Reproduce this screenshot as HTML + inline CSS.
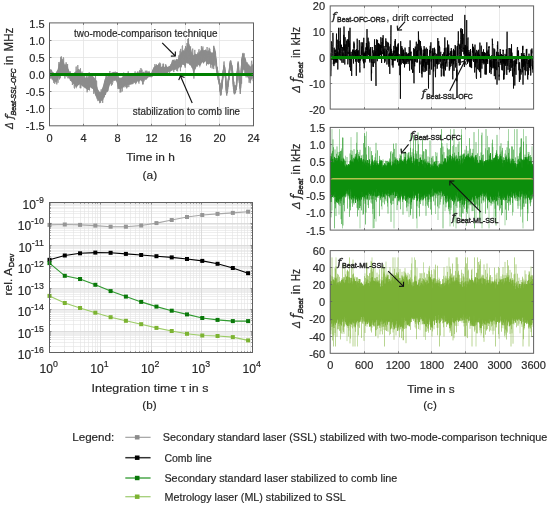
<!DOCTYPE html><html><head><meta charset="utf-8"><style>html,body{margin:0;padding:0;background:#fff;}svg{display:block;} text{stroke:#262626;stroke-width:0.18px;paint-order:stroke;}</style></head><body>
<svg width="550" height="506" viewBox="0 0 550 506">
<rect width="550" height="506" fill="#fff"/>
<line x1="83.5" y1="22.9" x2="83.5" y2="125.8" stroke="#e3e3e3" stroke-width="0.8" />
<line x1="117.5" y1="22.9" x2="117.5" y2="125.8" stroke="#e3e3e3" stroke-width="0.8" />
<line x1="151.5" y1="22.9" x2="151.5" y2="125.8" stroke="#e3e3e3" stroke-width="0.8" />
<line x1="185.5" y1="22.9" x2="185.5" y2="125.8" stroke="#e3e3e3" stroke-width="0.8" />
<line x1="219.5" y1="22.9" x2="219.5" y2="125.8" stroke="#e3e3e3" stroke-width="0.8" />
<line x1="49.5" y1="40.5" x2="253.5" y2="40.5" stroke="#e3e3e3" stroke-width="0.8" />
<line x1="49.5" y1="57.5" x2="253.5" y2="57.5" stroke="#e3e3e3" stroke-width="0.8" />
<line x1="49.5" y1="74.5" x2="253.5" y2="74.5" stroke="#e3e3e3" stroke-width="0.8" />
<line x1="49.5" y1="91.5" x2="253.5" y2="91.5" stroke="#e3e3e3" stroke-width="0.8" />
<line x1="49.5" y1="108.5" x2="253.5" y2="108.5" stroke="#e3e3e3" stroke-width="0.8" />
<polygon points="49.9,69.8 50.4,69.5 50.9,69.5 51.4,69.8 51.9,69.6 52.4,71.8 52.9,71.7 53.4,72.3 53.9,72.8 54.4,74.3 54.9,74 55.4,73.4 55.9,72.5 56.4,71.4 56.9,70.7 57.4,70.1 57.9,68.6 58.4,66.9 58.9,64.7 59.4,62.5 59.9,61.6 60.4,60.1 60.9,59.9 61.4,59.4 61.9,60.5 62.4,60.8 62.9,60.9 63.4,61.7 63.9,62.4 64.4,63.8 64.9,64.7 65.4,64.4 65.9,63.8 66.4,63.6 66.9,65.8 67.4,66.4 67.9,66.6 68.4,68.8 68.9,70 69.4,71.3 69.9,71.7 70.4,73.1 70.9,72.8 71.4,74.1 71.9,73.5 72.4,73.9 72.9,72.9 73.4,73.1 73.9,73 74.4,72.3 74.9,72.1 75.4,71.5 75.9,71.5 76.4,71.1 76.9,70.2 77.4,69.9 77.9,69 78.4,69.2 78.9,68.8 79.4,69.2 79.9,69.9 80.4,70.8 80.9,72 81.4,72.9 81.9,74.4 82.4,76 82.9,75.5 83.4,76.3 83.9,76.1 84.4,76.4 84.9,77.5 85.4,77.6 85.9,77.4 86.4,77.5 86.9,77.8 87.4,77.6 87.9,77.6 88.4,77.2 88.9,76 89.4,74.9 89.9,75.5 90.4,75.7 90.9,76.1 91.4,75.6 91.9,75.7 92.4,75.1 92.9,76.1 93.4,76.9 93.9,76.6 94.4,77.9 94.9,78.2 95.4,78.8 95.9,79.8 96.4,83.3 96.9,85.9 97.4,87.1 97.9,89.1 98.4,90 98.9,90.6 99.4,91.7 99.9,91.9 100.4,92.7 100.9,91.8 101.4,90.9 101.9,88.7 102.4,87.4 102.9,86.2 103.4,84.1 103.9,82.5 104.4,79.8 104.9,78.9 105.4,77.4 105.9,77.5 106.4,77 106.9,76.6 107.4,76.1 107.9,76.5 108.4,75.1 108.9,74.5 109.4,74.5 109.9,73.6 110.4,74 110.9,73.4 111.4,73 111.9,72 112.4,72.2 112.9,72.3 113.4,71.8 113.9,72 114.4,71.9 114.9,71.4 115.4,71.3 115.9,72.2 116.4,72 116.9,72.8 117.4,73.9 117.9,75 118.4,74.1 118.9,76.9 119.4,77.7 119.9,77.5 120.4,78 120.9,77.3 121.4,77.8 121.9,77.3 122.4,76.6 122.9,75.9 123.4,75.9 123.9,75.2 124.4,74.9 124.9,75.1 125.4,74.8 125.9,74.5 126.4,75.2 126.9,74 127.4,73.8 127.9,73.5 128.4,73.2 128.9,75.7 129.4,75.1 129.9,75.9 130.4,74.8 130.9,75.7 131.4,75.1 131.9,75.2 132.4,75.5 132.9,75 133.4,74.6 133.9,74.3 134.4,73.2 134.9,73.3 135.4,73.8 135.9,74 136.4,73.1 136.9,72.1 137.4,71.1 137.9,72.5 138.4,73.8 138.9,73.6 139.4,73.4 139.9,71.7 140.4,70.6 140.9,70.3 141.4,70.6 141.9,71.7 142.4,72.4 142.9,71.8 143.4,71.4 143.9,72.3 144.4,72.9 144.9,72.6 145.4,72.4 145.9,71.1 146.4,71.7 146.9,71.6 147.4,71.5 147.9,71.8 148.4,71.5 148.9,70.9 149.4,70.7 149.9,72.3 150.4,73 150.9,73 151.4,72.5 151.9,71.2 152.4,70 152.9,68.7 153.4,67.4 153.9,67.1 154.4,66.8 154.9,65.8 155.4,65.5 155.9,65.9 156.4,65.3 156.9,65.6 157.4,65.4 157.9,66 158.4,65.1 158.9,64.5 159.4,64.5 159.9,64.8 160.4,65.2 160.9,67.1 161.4,66.4 161.9,66.9 162.4,65.9 162.9,66.2 163.4,66 163.9,65.9 164.4,67.5 164.9,67.2 165.4,66.3 165.9,66.6 166.4,66.6 166.9,66.6 167.4,66.8 167.9,66.9 168.4,66.5 168.9,65.7 169.4,65.8 169.9,65.9 170.4,64.6 170.9,63.9 171.4,62.2 171.9,60.6 172.4,59.9 172.9,59.6 173.4,59.7 173.9,59.8 174.4,59.1 174.9,60.7 175.4,60.6 175.9,59.1 176.4,58.9 176.9,58.7 177.4,59.8 177.9,59.2 178.4,57.7 178.9,56.6 179.4,54.7 179.9,53.6 180.4,53.6 180.9,52.8 181.4,51.9 181.9,51.1 182.4,50.5 182.9,50 183.4,50.6 183.9,51.6 184.4,51.1 184.9,49.7 185.4,50.9 185.9,48.4 186.4,47.2 186.9,45.6 187.4,44.4 187.9,43.6 188.4,42.1 188.9,43.4 189.4,43.9 189.9,45.8 190.4,47.5 190.9,49.1 191.4,49.9 191.9,52.2 192.4,52.8 192.9,54.1 193.4,55.1 193.9,55.2 194.4,54.5 194.9,53.8 195.4,54 195.9,53.2 196.4,54.7 196.9,54.8 197.4,53.8 197.9,53.5 198.4,53.6 198.9,53.1 199.4,52.4 199.9,50.7 200.4,51.8 200.9,50.3 201.4,51 201.9,49.1 202.4,49.5 202.9,49.3 203.4,49.9 203.9,50.5 204.4,49.9 204.9,50 205.4,49.8 205.9,49 206.4,50.5 206.9,50.5 207.4,51.6 207.9,51.1 208.4,51.7 208.9,50.7 209.4,51.5 209.9,50.7 210.4,51.8 210.9,51.5 211.4,52.7 211.9,52.2 212.4,52.5 212.9,52.5 213.4,52.1 213.9,51.6 214.4,51.6 214.9,52.2 214.9,64.7 214.4,65.7 213.9,67 213.4,67 212.9,67.3 212.4,65.9 211.9,65 211.4,64.7 210.9,64.5 210.4,64.2 209.9,63.5 209.4,64 208.9,64.4 208.4,64.4 207.9,64.5 207.4,64 206.9,63.9 206.4,62.7 205.9,61.3 205.4,61.7 204.9,61.6 204.4,62.5 203.9,63.2 203.4,63.8 202.9,62.9 202.4,62.1 201.9,62.7 201.4,63.7 200.9,64.8 200.4,66 199.9,68 199.4,66.3 198.9,65.2 198.4,65.2 197.9,64.6 197.4,64.6 196.9,66.5 196.4,66.7 195.9,68.5 195.4,69.4 194.9,69.7 194.4,72.1 193.9,73.6 193.4,73.8 192.9,71.3 192.4,69 191.9,68 191.4,67.5 190.9,66.1 190.4,65.4 189.9,64.9 189.4,65.2 188.9,64 188.4,63.4 187.9,64.1 187.4,63.5 186.9,62.8 186.4,63.3 185.9,65.5 185.4,66.7 184.9,66.7 184.4,66.1 183.9,64.8 183.4,64.9 182.9,64.9 182.4,64.6 181.9,65.8 181.4,66.2 180.9,67.2 180.4,66.9 179.9,67.4 179.4,67.2 178.9,67.7 178.4,68.8 177.9,68.6 177.4,68.7 176.9,69.2 176.4,68.7 175.9,69.3 175.4,70.1 174.9,69.4 174.4,70 173.9,69.6 173.4,69.8 172.9,69.8 172.4,69.6 171.9,70.8 171.4,71.1 170.9,71.2 170.4,71.7 169.9,71.8 169.4,71.5 168.9,72 168.4,71.8 167.9,73.6 167.4,73.8 166.9,73.5 166.4,74.5 165.9,73.8 165.4,74.2 164.9,74.6 164.4,74.1 163.9,74.3 163.4,74.5 162.9,75.3 162.4,75 161.9,74.2 161.4,74 160.9,75.2 160.4,74.6 159.9,74.2 159.4,73.7 158.9,74.4 158.4,74.1 157.9,74.5 157.4,74.4 156.9,75.1 156.4,74.5 155.9,74.8 155.4,74.9 154.9,75.7 154.4,74.8 153.9,75.6 153.4,75.1 152.9,76 152.4,76 151.9,77 151.4,77.5 150.9,77.5 150.4,77 149.9,76.9 149.4,77.3 148.9,77.1 148.4,77.3 147.9,78.1 147.4,78.7 146.9,78 146.4,78.8 145.9,79.9 145.4,79.7 144.9,79.6 144.4,79.8 143.9,80.8 143.4,82 142.9,81.9 142.4,81.2 141.9,81.5 141.4,81.3 140.9,80.3 140.4,80.6 139.9,80.7 139.4,81.6 138.9,81.6 138.4,81.9 137.9,81.4 137.4,81.6 136.9,82 136.4,82.2 135.9,81.7 135.4,82.6 134.9,82.5 134.4,83.2 133.9,82.6 133.4,84.3 132.9,83.8 132.4,84.5 131.9,84.2 131.4,84.6 130.9,84.8 130.4,84.3 129.9,84.5 129.4,84.8 128.9,84.7 128.4,84.9 127.9,85.2 127.4,85.3 126.9,85.2 126.4,86 125.9,85.5 125.4,85.2 124.9,86.3 124.4,86.1 123.9,87.2 123.4,87.4 122.9,87.5 122.4,88 121.9,88.5 121.4,88.6 120.9,89.5 120.4,89 119.9,89.1 119.4,88.9 118.9,89.6 118.4,88.5 117.9,87.9 117.4,86.3 116.9,83.3 116.4,81.4 115.9,80.2 115.4,80.5 114.9,80.3 114.4,81 113.9,80.1 113.4,81.2 112.9,81.4 112.4,82.3 111.9,82.1 111.4,83.5 110.9,83.4 110.4,84.1 109.9,85 109.4,86.4 108.9,88.1 108.4,90.3 107.9,91.4 107.4,92.3 106.9,92 106.4,93.1 105.9,94.9 105.4,95.1 104.9,95.6 104.4,97.7 103.9,97.9 103.4,99.5 102.9,100.2 102.4,100.3 101.9,99.9 101.4,100.6 100.9,100.9 100.4,100.7 99.9,101.4 99.4,101.5 98.9,101.1 98.4,100.2 97.9,99.9 97.4,99.2 96.9,99.6 96.4,98.2 95.9,96.4 95.4,96 94.9,94.4 94.4,93.1 93.9,90.5 93.4,90.3 92.9,89 92.4,88.9 91.9,88.2 91.4,88.6 90.9,87.5 90.4,87.5 89.9,87.8 89.4,88 88.9,88 88.4,89.7 87.9,89.6 87.4,90.8 86.9,89.6 86.4,89 85.9,89 85.4,88 84.9,88.6 84.4,87.2 83.9,87.5 83.4,86.7 82.9,86.7 82.4,86.2 81.9,86 81.4,85.3 80.9,84.9 80.4,84.1 79.9,84.3 79.4,84.2 78.9,84.9 78.4,85.3 77.9,85.7 77.4,86.4 76.9,87.1 76.4,88.5 75.9,88.3 75.4,86.8 74.9,86.1 74.4,85.6 73.9,84.1 73.4,84 72.9,83.6 72.4,82.7 71.9,82.6 71.4,81.7 70.9,81.1 70.4,80.9 69.9,80.4 69.4,78.4 68.9,78.6 68.4,76.9 67.9,76.1 67.4,76.2 66.9,76.5 66.4,76.7 65.9,76.3 65.4,75.9 64.9,76.4 64.4,75.9 63.9,76.3 63.4,75.8 62.9,74 62.4,74.5 61.9,75.1 61.4,75.3 60.9,74.7 60.4,74.2 59.9,74.8 59.4,76.5 58.9,76.8 58.4,78.4 57.9,80.3 57.4,80.6 56.9,81.5 56.4,82.3 55.9,82.3 55.4,82.3 54.9,81 54.4,81.6 53.9,81.3 53.4,81.4 52.9,79.9 52.4,79.7 51.9,78.6 51.4,77.8 50.9,77.5 50.4,78.1 49.9,77.1" fill="#8c8c8c" stroke="none"/>
<polygon points="241.4,61.3 241.9,59.2 242.4,56.5 242.9,56.3 243.4,56.4 243.9,57.1 244.4,57.2 244.9,57.7 245.4,57.2 245.9,59.1 246.4,61.5 246.9,62.7 247.4,64.6 247.9,64.7 248.4,64.5 248.9,64 249.4,64.9 249.9,66 250.4,66.6 250.9,66.2 251.4,65.3 251.9,64.3 252.4,64.4 252.9,64.3 252.9,77.2 252.4,78.9 251.9,78.9 251.4,79.5 250.9,80.9 250.4,81.2 249.9,80.7 249.4,79.6 248.9,78.8 248.4,78.3 247.9,78.3 247.4,76.9 246.9,76.7 246.4,75.1 245.9,73.5 245.4,72.7 244.9,70.7 244.4,70 243.9,69.5 243.4,70.5 242.9,73.1 242.4,73.9 241.9,77.1 241.4,79.8" fill="#8c8c8c" stroke="none"/>
<polyline points="49.9,74.9 50.2,69.5 50.5,76.2 50.8,78.8 51.1,75.7 51.4,74.9 51.7,73.3 52,79.3 52.3,78.2 52.6,73.5 52.9,74.8 53.2,80.5 53.5,78.2 53.8,82.9 54.1,79.9 54.4,78.1 54.7,83.8 55,82.7 55.3,80.3 55.6,81 55.9,79.5 56.2,79.8 56.5,78.9 56.8,84.4 57.1,75 57.4,77.6 57.7,70.9 58,82.8 58.3,75.1 58.6,63.6 58.9,62.1 59.2,67.2 59.5,79.4 59.8,72.6 60.1,68.7 60.4,78.2 60.7,57.2 61,67.6 61.3,56.3 61.6,62.1 61.9,58.7 62.2,60.7 62.5,73.7 62.8,59.3 63.1,72.7 63.4,57.4 63.7,58.2 64,73.8 64.3,66.4 64.6,66.6 64.9,78.5 65.2,71.9 65.5,68.7 65.8,72.5 66.1,62.3 66.4,65.7 66.7,69.9 67,66.4 67.3,72.3 67.6,64 67.9,78.3 68.2,69.6 68.5,69.8 68.8,75.4 69.1,78.3 69.4,73.6 69.7,76.1 70,75.1 70.3,71.4 70.6,76 70.9,76.8 71.2,77.3 71.5,74.4 71.8,78.4 72.1,76.6 72.4,85 72.7,78.3 73,81.2 73.3,82.1 73.6,79.1 73.9,83.7 74.2,88 74.5,88.5 74.8,75 75.1,73.9 75.4,75.8 75.7,76.1 76,66.8 76.3,66.5 76.6,76.2 76.9,73.8 77.2,76.1 77.5,81.7 77.8,65.1 78.1,75.9 78.4,84.9 78.7,73.5 79,75.6 79.3,84.3 79.6,76.1 79.9,72.4 80.2,88.1 80.5,68.3 80.8,88.3 81.1,83.2 81.4,73.4 81.7,75.4 82,71.6 82.3,77.9 82.6,82.2 82.9,77.8 83.2,73.3 83.5,80.1 83.8,83.9 84.1,82.7 84.4,79.2 84.7,75.3 85,87.6 85.3,83.6 85.6,79.9 85.9,86.7 86.2,86.6 86.5,76.2 86.8,86 87.1,92.3 87.4,89.7 87.7,80.6 88,74.8 88.3,78.7 88.6,90 88.9,86.2 89.2,72.3 89.5,90.4 89.8,75.7 90.1,82.4 90.4,78.3 90.7,80.1 91,85.1 91.3,85.4 91.6,78.2 91.9,85.1 92.2,81.4 92.5,84.1 92.8,84.8 93.1,79.8 93.4,85.5 93.7,93.8 94,89.2 94.3,81.4 94.6,85.2 94.9,84.5 95.2,83.6 95.5,75.4 95.8,82.4 96.1,87.5 96.4,80.5 96.7,80.9 97,95 97.3,92.5 97.6,96.8 97.9,101.1 98.2,100 98.5,92.6 98.8,95.6 99.1,91.8 99.4,93.9 99.7,103.2 100,95.5 100.3,92.3 100.6,102.8 100.9,92.1 101.2,89.3 101.5,95.3 101.8,100.9 102.1,93.7 102.4,91.8 102.7,102.9 103,91.2 103.3,91.3 103.6,96.7 103.9,90.1 104.2,97 104.5,83.1 104.8,81.3 105.1,91 105.4,93.8 105.7,83.2 106,73.8 106.3,79.1 106.6,75.7 106.9,81.8 107.2,83.4 107.5,78.2 107.8,90.8 108.1,79 108.4,86.3 108.7,74.5 109,76 109.3,84.6 109.6,72.6 109.9,71 110.2,74.7 110.5,82.5 110.8,77 111.1,81.5 111.4,85.7 111.7,81.8 112,77.3 112.3,84.6 112.6,83.1 112.9,82.6 113.2,78.2 113.5,78.4 113.8,75.4 114.1,80.6 114.4,80.4 114.7,79 115,74.7 115.3,80.4 115.6,74.5 115.9,79.3 116.2,74.4 116.5,72.1 116.8,81.4 117.1,75.4 117.4,72.1 117.7,80.4 118,89 118.3,84.7 118.6,85.8 118.9,78.5 119.2,86.7 119.5,79 119.8,78.4 120.1,92.6 120.4,88.3 120.7,91.2 121,92.2 121.3,80.5 121.6,82.4 121.9,78.3 122.2,91.5 122.5,86.3 122.8,85.9 123.1,82.9 123.4,80.8 123.7,72.6 124,77.1 124.3,80.7 124.6,80.1 124.9,87.3 125.2,87 125.5,79.3 125.8,82 126.1,87.1 126.4,82.4 126.7,88.4 127,84 127.3,87.3 127.6,85.5 127.9,78.8 128.2,71.3 128.5,82.1 128.8,87.1 129.1,82.8 129.4,80.8 129.7,82.7 130,84.7 130.3,73.4 130.6,81.2 130.9,81.5 131.2,82.7 131.5,81.2 131.8,74.6 132.1,78.3 132.4,82.2 132.7,80.5 133,78.5 133.3,81.6 133.6,80.7 133.9,81.8 134.2,80.6 134.5,78.8 134.8,74.7 135.1,71.4 135.4,80.5 135.7,84.2 136,80.9 136.3,82.9 136.6,74 136.9,74.6 137.2,79.4 137.5,78.7 137.8,80.2 138.1,71.6 138.4,75 138.7,82.9 139,83.6 139.3,76.3 139.6,70.3 139.9,73.5 140.2,71.1 140.5,68.3 140.8,68 141.1,68.3 141.4,68.6 141.7,75.3 142,69.7 142.3,80.6 142.6,84.4 142.9,78.9 143.2,84.3 143.5,74.1 143.8,76.8 144.1,81.3 144.4,72.5 144.7,73.3 145,77.3 145.3,70.7 145.6,74.9 145.9,73 146.2,74.5 146.5,79.4 146.8,70.6 147.1,77.2 147.4,72.8 147.7,77.6 148,75.1 148.3,73.3 148.6,72.7 148.9,72.4 149.2,74.6 149.5,72.3 149.8,74.9 150.1,75.3 150.4,73.3 150.7,73.7 151,75.9 151.3,74.6 151.6,72.9 151.9,73.9 152.2,76.6 152.5,71 152.8,69.8 153.1,73.1 153.4,72 153.7,72.9 154,72.3 154.3,67.7 154.6,69.7 154.9,64.1 155.2,69.6 155.5,67.4 155.8,74.9 156.1,71.4 156.4,64.3 156.7,70.4 157,72.1 157.3,73.9 157.6,65 157.9,66.4 158.2,72.5 158.5,63.7 158.8,67.4 159.1,65.9 159.4,67.5 159.7,62.6 160,66.3 160.3,63.5 160.6,63.6 160.9,73.4 161.2,70.6 161.5,73 161.8,74.5 162.1,74.6 162.4,68.7 162.7,67.4 163,63.7 163.3,70.5 163.6,63.8 163.9,73.9 164.2,66.9 164.5,71.5 164.8,72.5 165.1,67.3 165.4,68.1 165.7,64.2 166,68.8 166.3,65.6 166.6,69 166.9,69.6 167.2,67.2 167.5,70.6 167.8,68.4 168.1,69 168.4,68.7 168.7,68.3 169,68.9 169.3,73.2 169.6,72.7 169.9,68.7 170.2,68.8 170.5,70.2 170.8,65.8 171.1,64 171.4,64.4 171.7,65.5 172,62.9 172.3,68 172.6,68.4 172.9,70.5 173.2,63.5 173.5,64.8 173.8,72.1 174.1,62.2 174.4,66.2 174.7,69.9 175,61.3 175.3,65.6 175.6,68.6 175.9,60.8 176.2,66.3 176.5,67.5 176.8,71.1 177.1,63.6 177.4,70.3 177.7,71.3 178,59.2 178.3,60.7 178.6,58.6 178.9,55.3 179.2,61.7 179.5,57.7 179.8,64.3 180.1,50.8 180.4,71.2 180.7,48.9 181,54.4 181.3,67.3 181.6,60.3 181.9,56.3 182.2,46.2 182.5,45.5 182.8,54.6 183.1,54.2 183.4,54.8 183.7,50.4 184,60.8 184.3,55.6 184.6,53.6 184.9,48.6 185.2,67.8 185.5,46.1 185.8,57.7 186.1,58.8 186.4,53.1 186.7,60.7 187,43 187.3,50 187.6,51.9 187.9,39 188.2,44.3 188.5,38.2 188.8,48.9 189.1,54.5 189.4,56.9 189.7,54.2 190,59.4 190.3,49.5 190.6,46.4 190.9,58.6 191.2,54.6 191.5,55.8 191.8,56.7 192.1,63.8 192.4,60.9 192.7,48.6 193,54.5 193.3,56.9 193.6,63.4 193.9,78.6 194.2,66.7 194.5,60.7 194.8,49.9 195.1,62.4 195.4,63.3 195.7,56.6 196,65.2 196.3,65.2 196.6,54.2 196.9,60.3 197.2,66.1 197.5,66.5 197.8,52.5 198.1,58.2 198.4,58.9 198.7,52 199,49.2 199.3,58.5 199.6,51.8 199.9,52 200.2,57.9 200.5,61.9 200.8,50.4 201.1,57.3 201.4,46.1 201.7,55.5 202,48.1 202.3,61.5 202.6,57.2 202.9,46.5 203.2,57.5 203.5,58.2 203.8,51 204.1,53.9 204.4,61.8 204.7,54.9 205,56.1 205.3,53.1 205.6,57.3 205.9,56.9 206.2,54 206.5,65.5 206.8,55.6 207.1,47 207.4,57 207.7,57.7 208,52.9 208.3,50.4 208.6,54.9 208.9,51.6 209.2,47.8 209.5,63.1 209.8,48.9 210.1,53.7 210.4,58.3 210.7,67.7 211,53.7 211.3,62.4 211.6,58.8 211.9,60 212.2,68.5 212.5,62.4 212.8,65 213.1,56.8 213.4,60.8 213.7,69.1 214,52.8 214.3,60.8 214.6,52.9 214.9,65.4" fill="none" stroke="#8c8c8c" stroke-width="0.8" stroke-linejoin="bevel"/>
<polyline points="241.3,70.7 241.6,83.7 241.9,72.5 242.2,65.2 242.5,53.6 242.8,58.2 243.1,52.9 243.4,61.6 243.7,68.3 244,54 244.3,53.4 244.6,70 244.9,75.1 245.2,67.5 245.5,72.6 245.8,71.1 246.1,77.4 246.4,71 246.7,63 247,62.1 247.3,67.9 247.6,63.3 247.9,65 248.2,75.4 248.5,69.3 248.8,69.6 249.1,82.7 249.4,73.8 249.7,75.3 250,81.8 250.3,83.2 250.6,80.4 250.9,79.4 251.2,64.9 251.5,61.1 251.8,60.7 252.1,65.6 252.4,72.2 252.7,71.6 253,81.2" fill="none" stroke="#8c8c8c" stroke-width="0.8" stroke-linejoin="bevel"/>
<polyline points="213.5,47 213.75,45.8 214,47.7 214.25,49.1 214.5,52 214.75,51.5 215,51.6 215.25,52.7 215.5,57.8 215.75,61.8 216,61.3 216.25,60.5 216.5,63.2 216.75,70.5 217,69.6 217.25,66.9 217.5,71.5 217.75,70.5 218,72.8 218.25,74.4 218.5,75.2 218.75,78.9 219,78.9 219.25,79.5 219.5,83.3 219.75,86 220,83 220.25,87.6 220.5,88 220.75,90.8 221,86.8 221.25,87.8 221.5,86 221.75,83.8 222,80.6 222.25,80.2 222.5,76.7 222.75,73.9 223,74.8 223.25,69.9 223.5,72.2 223.75,69 224,61.4 224.25,67.6 224.5,66.6 224.75,70.5 225,72.2 225.25,69.9 225.5,75.1 225.75,78 226,84.1 226.25,83.5 226.5,91.1 226.75,89.9 227,89.4 227.25,86.4 227.5,88.9 227.75,85.2 228,86.9 228.25,81.2 228.5,79.5 228.75,77.2 229,72.1 229.25,70.9 229.5,71.6 229.75,65.8 230,64.8 230.25,62.1 230.5,61.2 230.75,60.6 231,62.4 231.25,64.5 231.5,65.6 231.75,65 232,69.9 232.25,67.6 232.5,70.3 232.75,72.7 233,79.8 233.25,79.6 233.5,81 233.75,82.9 234,87.3 234.25,85.5 234.5,86.3 234.75,91.3 235,87.2 235.25,88 235.5,87.7 235.75,85.8 236,85.7 236.25,87.5 236.5,82.8 236.75,77.8 237,73.1 237.25,72.8 237.5,68.9 237.75,66.6 238,61.5 238.25,62.2 238.5,65.1 238.75,69 239,73.8 239.25,76 239.5,79.7 239.75,86.1 240,85.9 240.25,84.6 240.5,88.2 240.75,81 241,74 241.25,73.3 241.5,67.1 241.75,61.4 242,58.3 242.25,56.5 242.5,57.6 242.75,58.6 243,54.8 243.25,55.3" fill="none" stroke="#8c8c8c" stroke-width="1.25" stroke-linejoin="bevel"/>
<polyline points="213.5,53.3 213.75,46.9 214,49.6 214.25,48.5 214.5,48.5 214.75,50.1 215,53.6 215.25,56 215.5,56.1 215.75,59.5 216,63.1 216.25,64.4 216.5,67.8 216.75,69.2 217,71 217.25,74.9 217.5,73.8 217.75,74 218,76.4 218.25,74.4 218.5,76.8 218.75,80.3 219,81.2 219.25,84.7 219.5,83.4 219.75,82.4 220,91 220.25,91.2 220.5,88.7 220.75,94.8 221,90.4 221.25,85 221.5,86.1 221.75,84.2 222,86.8 222.25,80.3 222.5,79.2 222.75,76.9 223,74.5 223.25,71.2 223.5,71.2 223.75,70.7 224,67.5 224.25,66.1 224.5,67.4 224.75,71.6 225,71.6 225.25,73.5 225.5,73.1 225.75,83.3 226,84.9 226.25,84.8 226.5,92.3 226.75,95.7 227,86.2 227.25,87.9 227.5,86.2 227.75,86.2 228,82.6 228.25,80.4 228.5,78.6 228.75,80.1 229,78.5 229.25,70.9 229.5,67.9 229.75,72.9 230,63.3 230.25,61.9 230.5,60.9 230.75,63.2 231,65.6 231.25,65.7 231.5,64.5 231.75,68.7 232,69.5 232.25,74.8 232.5,73.6 232.75,73.5 233,76.6 233.25,84.2 233.5,82.7 233.75,81.9 234,86.2 234.25,88.6 234.5,92.2 234.75,89 235,91.8 235.25,91.1 235.5,87.2 235.75,87.2 236,90.2 236.25,89.1 236.5,86.5 236.75,81.9 237,79.9 237.25,73.8 237.5,70.3 237.75,65.2 238,63.4 238.25,63.9 238.5,73 238.75,70.5 239,76.9 239.25,80.3 239.5,80 239.75,85.5 240,81.5 240.25,88.8 240.5,87.3 240.75,76.4 241,74.5 241.25,74.5 241.5,67.4 241.75,61.3 242,59.7 242.25,58.3 242.5,59.9 242.75,58.3 243,55.8 243.25,54" fill="none" stroke="#8c8c8c" stroke-width="1.25" stroke-linejoin="bevel"/>
<polyline points="213.5,50.3 213.75,52.9 214,50.6 214.25,51.3 214.5,51.2 214.75,50.5 215,53.1 215.25,57.4 215.5,58.3 215.75,58.5 216,59.3 216.25,64.9 216.5,66.2 216.75,68.4 217,70.3 217.25,72.8 217.5,74 217.75,76.6 218,77.8 218.25,79.8 218.5,80 218.75,78.9 219,80.7 219.25,83.5 219.5,83.7 219.75,87.3 220,90.4 220.25,88.3 220.5,88.2 220.75,95.3 221,91.3 221.25,91 221.5,85.2 221.75,89.6 222,86 222.25,82.5 222.5,79.9 222.75,78.6 223,75.8 223.25,73.3 223.5,69.4 223.75,71.9 224,67.1 224.25,69 224.5,70.7 224.75,67.5 225,75 225.25,75 225.5,76.8 225.75,80.4 226,82 226.25,89.4 226.5,90 226.75,92.1 227,90.2 227.25,90.2 227.5,89.3 227.75,84.6 228,80.8 228.25,83.9 228.5,77.4 228.75,79.7 229,75 229.25,71.5 229.5,69.4 229.75,69.4 230,68 230.25,63.6 230.5,63.6 230.75,67.3 231,64.1 231.25,63.5 231.5,65.1 231.75,65.8 232,68.6 232.25,70.5 232.5,71.9 232.75,78.1 233,74.4 233.25,79.5 233.5,88.7 233.75,89.1 234,89.3 234.25,90.4 234.5,94.2 234.75,93 235,91.5 235.25,88 235.5,89.3 235.75,87 236,86.1 236.25,85.2 236.5,85.6 236.75,81.4 237,80.3 237.25,72.3 237.5,71.1 237.75,71.6 238,64.4 238.25,67.3 238.5,70.7 238.75,74.5 239,76.8 239.25,75.8 239.5,80.8 239.75,83.3 240,83.7 240.25,88.6 240.5,84 240.75,78.8 241,78.1 241.25,73.2 241.5,67.4 241.75,62.5 242,60.3 242.25,59.5 242.5,58.5 242.75,58.2 243,56.4 243.25,57" fill="none" stroke="#8c8c8c" stroke-width="1.25" stroke-linejoin="bevel"/>
<polyline points="213.5,52.4 213.75,51.8 214,49.5 214.25,49.7 214.5,53.3 214.75,53.6 215,55.4 215.25,52 215.5,53.6 215.75,61.9 216,64.1 216.25,68.4 216.5,69.3 216.75,70.5 217,71.9 217.25,70.2 217.5,76.1 217.75,74.4 218,77.8 218.25,78.4 218.5,79.8 218.75,82.3 219,80.8 219.25,82.6 219.5,83.5 219.75,86.3 220,92.3 220.25,90.1 220.5,95 220.75,95.5 221,93.6 221.25,92 221.5,86.7 221.75,87.8 222,88.6 222.25,82.3 222.5,81.5 222.75,77.9 223,77.7 223.25,72.6 223.5,75.8 223.75,69.5 224,65 224.25,73.3 224.5,73.4 224.75,74.2 225,75.9 225.25,75.9 225.5,77.8 225.75,82.6 226,86.7 226.25,90.4 226.5,92.7 226.75,93.9 227,92.4 227.25,93 227.5,91.6 227.75,86 228,83.7 228.25,85.2 228.5,81.9 228.75,79.6 229,73.4 229.25,73 229.5,70.5 229.75,69.7 230,63.7 230.25,67.4 230.5,63.3 230.75,64.9 231,63 231.25,66.7 231.5,70.8 231.75,66.3 232,71.4 232.25,74.3 232.5,74 232.75,79.6 233,79.9 233.25,85.5 233.5,86.7 233.75,88.3 234,93.1 234.25,92 234.5,94.2 234.75,90.4 235,91 235.25,93 235.5,92.2 235.75,89.3 236,90 236.25,85.4 236.5,87 236.75,80.7 237,80.1 237.25,74.9 237.5,71 237.75,68.9 238,68.8 238.25,63.8 238.5,68.1 238.75,74.9 239,75.3 239.25,83 239.5,82.7 239.75,85.1 240,88.4 240.25,93.9 240.5,88.7 240.75,84 241,79.1 241.25,71 241.5,68 241.75,68.3 242,63.9 242.25,62.2 242.5,61.5 242.75,58.1 243,58.9 243.25,55.4" fill="none" stroke="#8c8c8c" stroke-width="1.25" stroke-linejoin="bevel"/>
<line x1="49.5" y1="74.5" x2="253.5" y2="74.5" stroke="#008000" stroke-width="2.9" />
<rect x="49.5" y="22.9" width="204" height="102.9" fill="none" stroke="#606060" stroke-width="1"/>
<line x1="83.5" y1="125.8" x2="83.5" y2="123.8" stroke="#606060" stroke-width="0.8" />
<line x1="83.5" y1="22.9" x2="83.5" y2="24.9" stroke="#606060" stroke-width="0.8" />
<line x1="117.5" y1="125.8" x2="117.5" y2="123.8" stroke="#606060" stroke-width="0.8" />
<line x1="117.5" y1="22.9" x2="117.5" y2="24.9" stroke="#606060" stroke-width="0.8" />
<line x1="151.5" y1="125.8" x2="151.5" y2="123.8" stroke="#606060" stroke-width="0.8" />
<line x1="151.5" y1="22.9" x2="151.5" y2="24.9" stroke="#606060" stroke-width="0.8" />
<line x1="185.5" y1="125.8" x2="185.5" y2="123.8" stroke="#606060" stroke-width="0.8" />
<line x1="185.5" y1="22.9" x2="185.5" y2="24.9" stroke="#606060" stroke-width="0.8" />
<line x1="219.5" y1="125.8" x2="219.5" y2="123.8" stroke="#606060" stroke-width="0.8" />
<line x1="219.5" y1="22.9" x2="219.5" y2="24.9" stroke="#606060" stroke-width="0.8" />
<line x1="49.5" y1="40.5" x2="51.5" y2="40.5" stroke="#606060" stroke-width="0.8" />
<line x1="253.5" y1="40.5" x2="251.5" y2="40.5" stroke="#606060" stroke-width="0.8" />
<line x1="49.5" y1="57.5" x2="51.5" y2="57.5" stroke="#606060" stroke-width="0.8" />
<line x1="253.5" y1="57.5" x2="251.5" y2="57.5" stroke="#606060" stroke-width="0.8" />
<line x1="49.5" y1="74.5" x2="51.5" y2="74.5" stroke="#606060" stroke-width="0.8" />
<line x1="253.5" y1="74.5" x2="251.5" y2="74.5" stroke="#606060" stroke-width="0.8" />
<line x1="49.5" y1="91.5" x2="51.5" y2="91.5" stroke="#606060" stroke-width="0.8" />
<line x1="253.5" y1="91.5" x2="251.5" y2="91.5" stroke="#606060" stroke-width="0.8" />
<line x1="49.5" y1="108.5" x2="51.5" y2="108.5" stroke="#606060" stroke-width="0.8" />
<line x1="253.5" y1="108.5" x2="251.5" y2="108.5" stroke="#606060" stroke-width="0.8" />
<text x="44.6" y="27.5" font-size="11" text-anchor="end" fill="#262626" font-family='"Liberation Sans", Arial, sans-serif' >1.5</text>
<text x="44.6" y="44.65" font-size="11" text-anchor="end" fill="#262626" font-family='"Liberation Sans", Arial, sans-serif' >1.0</text>
<text x="44.6" y="61.8" font-size="11" text-anchor="end" fill="#262626" font-family='"Liberation Sans", Arial, sans-serif' >0.5</text>
<text x="44.6" y="78.95" font-size="11" text-anchor="end" fill="#262626" font-family='"Liberation Sans", Arial, sans-serif' >0.0</text>
<text x="44.6" y="96.1" font-size="11" text-anchor="end" fill="#262626" font-family='"Liberation Sans", Arial, sans-serif' >-0.5</text>
<text x="44.6" y="113.25" font-size="11" text-anchor="end" fill="#262626" font-family='"Liberation Sans", Arial, sans-serif' >-1.0</text>
<text x="44.6" y="130.4" font-size="11" text-anchor="end" fill="#262626" font-family='"Liberation Sans", Arial, sans-serif' >-1.5</text>
<text x="49.5" y="141.6" font-size="11" text-anchor="middle" fill="#262626" font-family='"Liberation Sans", Arial, sans-serif' >0</text>
<text x="83.5" y="141.6" font-size="11" text-anchor="middle" fill="#262626" font-family='"Liberation Sans", Arial, sans-serif' >4</text>
<text x="117.5" y="141.6" font-size="11" text-anchor="middle" fill="#262626" font-family='"Liberation Sans", Arial, sans-serif' >8</text>
<text x="151.5" y="141.6" font-size="11" text-anchor="middle" fill="#262626" font-family='"Liberation Sans", Arial, sans-serif' >12</text>
<text x="185.5" y="141.6" font-size="11" text-anchor="middle" fill="#262626" font-family='"Liberation Sans", Arial, sans-serif' >16</text>
<text x="219.5" y="141.6" font-size="11" text-anchor="middle" fill="#262626" font-family='"Liberation Sans", Arial, sans-serif' >20</text>
<text x="253.5" y="141.6" font-size="11" text-anchor="middle" fill="#262626" font-family='"Liberation Sans", Arial, sans-serif' >24</text>
<text x="126.3" y="160.8" font-size="11.5" text-anchor="start" fill="#262626" font-family='"Liberation Sans", Arial, sans-serif' textLength="48.5" lengthAdjust="spacingAndGlyphs" >Time in h</text>
<text x="142.6" y="178.5" font-size="11.5" text-anchor="start" fill="#262626" font-family='"Liberation Sans", Arial, sans-serif' textLength="14.6" lengthAdjust="spacingAndGlyphs" >(a)</text>
<text x="74.1" y="36.8" font-size="10" text-anchor="start" fill="#262626" font-family='"Liberation Sans", Arial, sans-serif' textLength="143.3" lengthAdjust="spacingAndGlyphs" >two-mode-comparison technique</text>
<text x="132.8" y="115.4" font-size="10" text-anchor="start" fill="#262626" font-family='"Liberation Sans", Arial, sans-serif' textLength="107.3" lengthAdjust="spacingAndGlyphs" >stabilization to comb line</text>
<line x1="162.2" y1="42.9" x2="175.3" y2="56" stroke="#111" stroke-width="1.15" />
<polyline points="170.85,56.07 175.3,56 175.37,51.55" fill="none" stroke="#111" stroke-width="1.15" stroke-linejoin="miter"/>
<line x1="192.2" y1="102.9" x2="180.4" y2="76" stroke="#111" stroke-width="1.15" />
<polyline points="184.58,77.55 180.4,76 178.71,80.12" fill="none" stroke="#111" stroke-width="1.15" stroke-linejoin="miter"/>
<text transform="rotate(-90)" x="-129" y="13.3" font-size="10.5" fill="#262626" font-family='"Liberation Sans", Arial, sans-serif' font-style="italic" textLength="6.7" lengthAdjust="spacingAndGlyphs">Δ</text>
<text transform="rotate(-90)" x="-119.1" y="13" font-size="11.5" fill="#262626" font-family='"DejaVu Serif", "Liberation Serif", serif' font-style="italic" style="stroke-width:0.45px" textLength="3.9" lengthAdjust="spacingAndGlyphs">f</text>
<text transform="rotate(-90)" x="-115.5" y="15.6" font-size="7" fill="#262626" font-family='"Liberation Sans", Arial, sans-serif' font-style="italic" style="stroke-width:0.42px" textLength="47.2" lengthAdjust="spacingAndGlyphs">Beat-SSL-OFC</text>
<text transform="rotate(-90)" x="-65" y="13.3" font-size="12" fill="#262626" font-family='"Liberation Sans", Arial, sans-serif' textLength="9.3" lengthAdjust="spacingAndGlyphs">in</text>
<text transform="rotate(-90)" x="-51.4" y="13.3" font-size="12" fill="#262626" font-family='"Liberation Sans", Arial, sans-serif' textLength="23.5" lengthAdjust="spacingAndGlyphs">MHz</text>
<line x1="64.5" y1="202.5" x2="64.5" y2="352.5" stroke="#e2e2e2" stroke-width="0.6" />
<line x1="73.5" y1="202.5" x2="73.5" y2="352.5" stroke="#e2e2e2" stroke-width="0.6" />
<line x1="80.5" y1="202.5" x2="80.5" y2="352.5" stroke="#e2e2e2" stroke-width="0.6" />
<line x1="84.5" y1="202.5" x2="84.5" y2="352.5" stroke="#e2e2e2" stroke-width="0.6" />
<line x1="88.5" y1="202.5" x2="88.5" y2="352.5" stroke="#e2e2e2" stroke-width="0.6" />
<line x1="92.5" y1="202.5" x2="92.5" y2="352.5" stroke="#e2e2e2" stroke-width="0.6" />
<line x1="95.5" y1="202.5" x2="95.5" y2="352.5" stroke="#e2e2e2" stroke-width="0.6" />
<line x1="97.5" y1="202.5" x2="97.5" y2="352.5" stroke="#e2e2e2" stroke-width="0.6" />
<line x1="115.5" y1="202.5" x2="115.5" y2="352.5" stroke="#e2e2e2" stroke-width="0.6" />
<line x1="124.5" y1="202.5" x2="124.5" y2="352.5" stroke="#e2e2e2" stroke-width="0.6" />
<line x1="130.5" y1="202.5" x2="130.5" y2="352.5" stroke="#e2e2e2" stroke-width="0.6" />
<line x1="135.5" y1="202.5" x2="135.5" y2="352.5" stroke="#e2e2e2" stroke-width="0.6" />
<line x1="139.5" y1="202.5" x2="139.5" y2="352.5" stroke="#e2e2e2" stroke-width="0.6" />
<line x1="143.5" y1="202.5" x2="143.5" y2="352.5" stroke="#e2e2e2" stroke-width="0.6" />
<line x1="146.5" y1="202.5" x2="146.5" y2="352.5" stroke="#e2e2e2" stroke-width="0.6" />
<line x1="148.5" y1="202.5" x2="148.5" y2="352.5" stroke="#e2e2e2" stroke-width="0.6" />
<line x1="166.5" y1="202.5" x2="166.5" y2="352.5" stroke="#e2e2e2" stroke-width="0.6" />
<line x1="175.5" y1="202.5" x2="175.5" y2="352.5" stroke="#e2e2e2" stroke-width="0.6" />
<line x1="181.5" y1="202.5" x2="181.5" y2="352.5" stroke="#e2e2e2" stroke-width="0.6" />
<line x1="186.5" y1="202.5" x2="186.5" y2="352.5" stroke="#e2e2e2" stroke-width="0.6" />
<line x1="190.5" y1="202.5" x2="190.5" y2="352.5" stroke="#e2e2e2" stroke-width="0.6" />
<line x1="193.5" y1="202.5" x2="193.5" y2="352.5" stroke="#e2e2e2" stroke-width="0.6" />
<line x1="196.5" y1="202.5" x2="196.5" y2="352.5" stroke="#e2e2e2" stroke-width="0.6" />
<line x1="199.5" y1="202.5" x2="199.5" y2="352.5" stroke="#e2e2e2" stroke-width="0.6" />
<line x1="217.5" y1="202.5" x2="217.5" y2="352.5" stroke="#e2e2e2" stroke-width="0.6" />
<line x1="225.5" y1="202.5" x2="225.5" y2="352.5" stroke="#e2e2e2" stroke-width="0.6" />
<line x1="232.5" y1="202.5" x2="232.5" y2="352.5" stroke="#e2e2e2" stroke-width="0.6" />
<line x1="237.5" y1="202.5" x2="237.5" y2="352.5" stroke="#e2e2e2" stroke-width="0.6" />
<line x1="241.5" y1="202.5" x2="241.5" y2="352.5" stroke="#e2e2e2" stroke-width="0.6" />
<line x1="244.5" y1="202.5" x2="244.5" y2="352.5" stroke="#e2e2e2" stroke-width="0.6" />
<line x1="247.5" y1="202.5" x2="247.5" y2="352.5" stroke="#e2e2e2" stroke-width="0.6" />
<line x1="250.5" y1="202.5" x2="250.5" y2="352.5" stroke="#e2e2e2" stroke-width="0.6" />
<line x1="49.5" y1="346.5" x2="252.5" y2="346.5" stroke="#e2e2e2" stroke-width="0.6" />
<line x1="49.5" y1="342.5" x2="252.5" y2="342.5" stroke="#e2e2e2" stroke-width="0.6" />
<line x1="49.5" y1="339.5" x2="252.5" y2="339.5" stroke="#e2e2e2" stroke-width="0.6" />
<line x1="49.5" y1="337.5" x2="252.5" y2="337.5" stroke="#e2e2e2" stroke-width="0.6" />
<line x1="49.5" y1="335.5" x2="252.5" y2="335.5" stroke="#e2e2e2" stroke-width="0.6" />
<line x1="49.5" y1="334.5" x2="252.5" y2="334.5" stroke="#e2e2e2" stroke-width="0.6" />
<line x1="49.5" y1="333.5" x2="252.5" y2="333.5" stroke="#e2e2e2" stroke-width="0.6" />
<line x1="49.5" y1="332.5" x2="252.5" y2="332.5" stroke="#e2e2e2" stroke-width="0.6" />
<line x1="49.5" y1="324.5" x2="252.5" y2="324.5" stroke="#e2e2e2" stroke-width="0.6" />
<line x1="49.5" y1="320.5" x2="252.5" y2="320.5" stroke="#e2e2e2" stroke-width="0.6" />
<line x1="49.5" y1="318.5" x2="252.5" y2="318.5" stroke="#e2e2e2" stroke-width="0.6" />
<line x1="49.5" y1="316.5" x2="252.5" y2="316.5" stroke="#e2e2e2" stroke-width="0.6" />
<line x1="49.5" y1="314.5" x2="252.5" y2="314.5" stroke="#e2e2e2" stroke-width="0.6" />
<line x1="49.5" y1="312.5" x2="252.5" y2="312.5" stroke="#e2e2e2" stroke-width="0.6" />
<line x1="49.5" y1="311.5" x2="252.5" y2="311.5" stroke="#e2e2e2" stroke-width="0.6" />
<line x1="49.5" y1="310.5" x2="252.5" y2="310.5" stroke="#e2e2e2" stroke-width="0.6" />
<line x1="49.5" y1="303.5" x2="252.5" y2="303.5" stroke="#e2e2e2" stroke-width="0.6" />
<line x1="49.5" y1="299.5" x2="252.5" y2="299.5" stroke="#e2e2e2" stroke-width="0.6" />
<line x1="49.5" y1="296.5" x2="252.5" y2="296.5" stroke="#e2e2e2" stroke-width="0.6" />
<line x1="49.5" y1="294.5" x2="252.5" y2="294.5" stroke="#e2e2e2" stroke-width="0.6" />
<line x1="49.5" y1="292.5" x2="252.5" y2="292.5" stroke="#e2e2e2" stroke-width="0.6" />
<line x1="49.5" y1="291.5" x2="252.5" y2="291.5" stroke="#e2e2e2" stroke-width="0.6" />
<line x1="49.5" y1="290.5" x2="252.5" y2="290.5" stroke="#e2e2e2" stroke-width="0.6" />
<line x1="49.5" y1="289.5" x2="252.5" y2="289.5" stroke="#e2e2e2" stroke-width="0.6" />
<line x1="49.5" y1="281.5" x2="252.5" y2="281.5" stroke="#e2e2e2" stroke-width="0.6" />
<line x1="49.5" y1="277.5" x2="252.5" y2="277.5" stroke="#e2e2e2" stroke-width="0.6" />
<line x1="49.5" y1="275.5" x2="252.5" y2="275.5" stroke="#e2e2e2" stroke-width="0.6" />
<line x1="49.5" y1="273.5" x2="252.5" y2="273.5" stroke="#e2e2e2" stroke-width="0.6" />
<line x1="49.5" y1="271.5" x2="252.5" y2="271.5" stroke="#e2e2e2" stroke-width="0.6" />
<line x1="49.5" y1="270.5" x2="252.5" y2="270.5" stroke="#e2e2e2" stroke-width="0.6" />
<line x1="49.5" y1="268.5" x2="252.5" y2="268.5" stroke="#e2e2e2" stroke-width="0.6" />
<line x1="49.5" y1="267.5" x2="252.5" y2="267.5" stroke="#e2e2e2" stroke-width="0.6" />
<line x1="49.5" y1="260.5" x2="252.5" y2="260.5" stroke="#e2e2e2" stroke-width="0.6" />
<line x1="49.5" y1="256.5" x2="252.5" y2="256.5" stroke="#e2e2e2" stroke-width="0.6" />
<line x1="49.5" y1="253.5" x2="252.5" y2="253.5" stroke="#e2e2e2" stroke-width="0.6" />
<line x1="49.5" y1="251.5" x2="252.5" y2="251.5" stroke="#e2e2e2" stroke-width="0.6" />
<line x1="49.5" y1="250.5" x2="252.5" y2="250.5" stroke="#e2e2e2" stroke-width="0.6" />
<line x1="49.5" y1="248.5" x2="252.5" y2="248.5" stroke="#e2e2e2" stroke-width="0.6" />
<line x1="49.5" y1="247.5" x2="252.5" y2="247.5" stroke="#e2e2e2" stroke-width="0.6" />
<line x1="49.5" y1="246.5" x2="252.5" y2="246.5" stroke="#e2e2e2" stroke-width="0.6" />
<line x1="49.5" y1="238.5" x2="252.5" y2="238.5" stroke="#e2e2e2" stroke-width="0.6" />
<line x1="49.5" y1="235.5" x2="252.5" y2="235.5" stroke="#e2e2e2" stroke-width="0.6" />
<line x1="49.5" y1="232.5" x2="252.5" y2="232.5" stroke="#e2e2e2" stroke-width="0.6" />
<line x1="49.5" y1="230.5" x2="252.5" y2="230.5" stroke="#e2e2e2" stroke-width="0.6" />
<line x1="49.5" y1="228.5" x2="252.5" y2="228.5" stroke="#e2e2e2" stroke-width="0.6" />
<line x1="49.5" y1="227.5" x2="252.5" y2="227.5" stroke="#e2e2e2" stroke-width="0.6" />
<line x1="49.5" y1="226.5" x2="252.5" y2="226.5" stroke="#e2e2e2" stroke-width="0.6" />
<line x1="49.5" y1="224.5" x2="252.5" y2="224.5" stroke="#e2e2e2" stroke-width="0.6" />
<line x1="49.5" y1="217.5" x2="252.5" y2="217.5" stroke="#e2e2e2" stroke-width="0.6" />
<line x1="49.5" y1="213.5" x2="252.5" y2="213.5" stroke="#e2e2e2" stroke-width="0.6" />
<line x1="49.5" y1="211.5" x2="252.5" y2="211.5" stroke="#e2e2e2" stroke-width="0.6" />
<line x1="49.5" y1="208.5" x2="252.5" y2="208.5" stroke="#e2e2e2" stroke-width="0.6" />
<line x1="49.5" y1="207.5" x2="252.5" y2="207.5" stroke="#e2e2e2" stroke-width="0.6" />
<line x1="49.5" y1="205.5" x2="252.5" y2="205.5" stroke="#e2e2e2" stroke-width="0.6" />
<line x1="49.5" y1="204.5" x2="252.5" y2="204.5" stroke="#e2e2e2" stroke-width="0.6" />
<line x1="49.5" y1="203.5" x2="252.5" y2="203.5" stroke="#e2e2e2" stroke-width="0.6" />
<line x1="100.5" y1="202.5" x2="100.5" y2="352.5" stroke="#d4d4d4" stroke-width="0.8" />
<line x1="151.5" y1="202.5" x2="151.5" y2="352.5" stroke="#d4d4d4" stroke-width="0.8" />
<line x1="201.5" y1="202.5" x2="201.5" y2="352.5" stroke="#d4d4d4" stroke-width="0.8" />
<line x1="49.5" y1="331.5" x2="252.5" y2="331.5" stroke="#d4d4d4" stroke-width="0.8" />
<line x1="49.5" y1="309.5" x2="252.5" y2="309.5" stroke="#d4d4d4" stroke-width="0.8" />
<line x1="49.5" y1="288.5" x2="252.5" y2="288.5" stroke="#d4d4d4" stroke-width="0.8" />
<line x1="49.5" y1="266.5" x2="252.5" y2="266.5" stroke="#d4d4d4" stroke-width="0.8" />
<line x1="49.5" y1="245.5" x2="252.5" y2="245.5" stroke="#d4d4d4" stroke-width="0.8" />
<line x1="49.5" y1="223.5" x2="252.5" y2="223.5" stroke="#d4d4d4" stroke-width="0.8" />
<polyline points="49.5,224.9 64.78,224.5 80.05,224.9 95.33,225.6 110.61,226.7 125.89,226.7 141.16,225.5 156.44,223.1 171.72,220 187,217 202.27,215 217.55,213.9 232.83,212.9 248.1,211.7" fill="none" stroke="#a8a8a8" stroke-width="1.1"/>
<rect x="47.5" y="222.9" width="4" height="4" fill="#969696"/>
<rect x="62.78" y="222.5" width="4" height="4" fill="#969696"/>
<rect x="78.05" y="222.9" width="4" height="4" fill="#969696"/>
<rect x="93.33" y="223.6" width="4" height="4" fill="#969696"/>
<rect x="108.61" y="224.7" width="4" height="4" fill="#969696"/>
<rect x="123.89" y="224.7" width="4" height="4" fill="#969696"/>
<rect x="139.16" y="223.5" width="4" height="4" fill="#969696"/>
<rect x="154.44" y="221.1" width="4" height="4" fill="#969696"/>
<rect x="169.72" y="218" width="4" height="4" fill="#969696"/>
<rect x="185" y="215" width="4" height="4" fill="#969696"/>
<rect x="200.27" y="213" width="4" height="4" fill="#969696"/>
<rect x="215.55" y="211.9" width="4" height="4" fill="#969696"/>
<rect x="230.83" y="210.9" width="4" height="4" fill="#969696"/>
<rect x="246.1" y="209.7" width="4" height="4" fill="#969696"/>
<polyline points="49.5,259.8 64.78,255.5 80.05,253.3 95.33,252.6 110.61,252.8 125.89,253.9 141.16,255 156.44,256.2 171.72,257.4 187,259 202.27,260.9 217.55,263.8 232.83,268 248.1,273.2" fill="none" stroke="#000000" stroke-width="1.1"/>
<rect x="47.5" y="257.8" width="4" height="4" fill="#000000"/>
<rect x="62.78" y="253.5" width="4" height="4" fill="#000000"/>
<rect x="78.05" y="251.3" width="4" height="4" fill="#000000"/>
<rect x="93.33" y="250.6" width="4" height="4" fill="#000000"/>
<rect x="108.61" y="250.8" width="4" height="4" fill="#000000"/>
<rect x="123.89" y="251.9" width="4" height="4" fill="#000000"/>
<rect x="139.16" y="253" width="4" height="4" fill="#000000"/>
<rect x="154.44" y="254.2" width="4" height="4" fill="#000000"/>
<rect x="169.72" y="255.4" width="4" height="4" fill="#000000"/>
<rect x="185" y="257" width="4" height="4" fill="#000000"/>
<rect x="200.27" y="258.9" width="4" height="4" fill="#000000"/>
<rect x="215.55" y="261.8" width="4" height="4" fill="#000000"/>
<rect x="230.83" y="266" width="4" height="4" fill="#000000"/>
<rect x="246.1" y="271.2" width="4" height="4" fill="#000000"/>
<polyline points="49.5,263.1 64.78,275.8 80.05,279 95.33,284.8 110.61,291.1 125.89,296.6 141.16,301.9 156.44,306.6 171.72,310.7 187,314.4 202.27,318 217.55,319.9 232.83,321.1 248.1,321.1" fill="none" stroke="#2f9a2f" stroke-width="1.1"/>
<rect x="47.5" y="261.1" width="4" height="4" fill="#0a780a"/>
<rect x="62.78" y="273.8" width="4" height="4" fill="#0a780a"/>
<rect x="78.05" y="277" width="4" height="4" fill="#0a780a"/>
<rect x="93.33" y="282.8" width="4" height="4" fill="#0a780a"/>
<rect x="108.61" y="289.1" width="4" height="4" fill="#0a780a"/>
<rect x="123.89" y="294.6" width="4" height="4" fill="#0a780a"/>
<rect x="139.16" y="299.9" width="4" height="4" fill="#0a780a"/>
<rect x="154.44" y="304.6" width="4" height="4" fill="#0a780a"/>
<rect x="169.72" y="308.7" width="4" height="4" fill="#0a780a"/>
<rect x="185" y="312.4" width="4" height="4" fill="#0a780a"/>
<rect x="200.27" y="316" width="4" height="4" fill="#0a780a"/>
<rect x="215.55" y="317.9" width="4" height="4" fill="#0a780a"/>
<rect x="230.83" y="319.1" width="4" height="4" fill="#0a780a"/>
<rect x="246.1" y="319.1" width="4" height="4" fill="#0a780a"/>
<polyline points="49.5,295.9 64.78,303 80.05,308 95.33,312.7 110.61,317.2 125.89,320.8 141.16,324.2 156.44,327.9 171.72,331 187,333.8 202.27,335.5 217.55,336 232.83,337.1 248.1,340.4" fill="none" stroke="#9ccc66" stroke-width="1.1"/>
<rect x="47.5" y="293.9" width="4" height="4" fill="#7cb332"/>
<rect x="62.78" y="301" width="4" height="4" fill="#7cb332"/>
<rect x="78.05" y="306" width="4" height="4" fill="#7cb332"/>
<rect x="93.33" y="310.7" width="4" height="4" fill="#7cb332"/>
<rect x="108.61" y="315.2" width="4" height="4" fill="#7cb332"/>
<rect x="123.89" y="318.8" width="4" height="4" fill="#7cb332"/>
<rect x="139.16" y="322.2" width="4" height="4" fill="#7cb332"/>
<rect x="154.44" y="325.9" width="4" height="4" fill="#7cb332"/>
<rect x="169.72" y="329" width="4" height="4" fill="#7cb332"/>
<rect x="185" y="331.8" width="4" height="4" fill="#7cb332"/>
<rect x="200.27" y="333.5" width="4" height="4" fill="#7cb332"/>
<rect x="215.55" y="334" width="4" height="4" fill="#7cb332"/>
<rect x="230.83" y="335.1" width="4" height="4" fill="#7cb332"/>
<rect x="246.1" y="338.4" width="4" height="4" fill="#7cb332"/>
<rect x="49.5" y="202.5" width="203" height="150" fill="none" stroke="#606060" stroke-width="1"/>
<line x1="49.5" y1="352.5" x2="49.5" y2="350.5" stroke="#606060" stroke-width="0.7" />
<line x1="49.5" y1="202.5" x2="49.5" y2="204.5" stroke="#606060" stroke-width="0.7" />
<line x1="64.5" y1="352.5" x2="64.5" y2="351.3" stroke="#606060" stroke-width="0.7" />
<line x1="64.5" y1="202.5" x2="64.5" y2="203.7" stroke="#606060" stroke-width="0.7" />
<line x1="73.5" y1="352.5" x2="73.5" y2="351.3" stroke="#606060" stroke-width="0.7" />
<line x1="73.5" y1="202.5" x2="73.5" y2="203.7" stroke="#606060" stroke-width="0.7" />
<line x1="80.5" y1="352.5" x2="80.5" y2="351.3" stroke="#606060" stroke-width="0.7" />
<line x1="80.5" y1="202.5" x2="80.5" y2="203.7" stroke="#606060" stroke-width="0.7" />
<line x1="84.5" y1="352.5" x2="84.5" y2="351.3" stroke="#606060" stroke-width="0.7" />
<line x1="84.5" y1="202.5" x2="84.5" y2="203.7" stroke="#606060" stroke-width="0.7" />
<line x1="88.5" y1="352.5" x2="88.5" y2="351.3" stroke="#606060" stroke-width="0.7" />
<line x1="88.5" y1="202.5" x2="88.5" y2="203.7" stroke="#606060" stroke-width="0.7" />
<line x1="92.5" y1="352.5" x2="92.5" y2="351.3" stroke="#606060" stroke-width="0.7" />
<line x1="92.5" y1="202.5" x2="92.5" y2="203.7" stroke="#606060" stroke-width="0.7" />
<line x1="95.5" y1="352.5" x2="95.5" y2="351.3" stroke="#606060" stroke-width="0.7" />
<line x1="95.5" y1="202.5" x2="95.5" y2="203.7" stroke="#606060" stroke-width="0.7" />
<line x1="97.5" y1="352.5" x2="97.5" y2="351.3" stroke="#606060" stroke-width="0.7" />
<line x1="97.5" y1="202.5" x2="97.5" y2="203.7" stroke="#606060" stroke-width="0.7" />
<line x1="100.5" y1="352.5" x2="100.5" y2="350.5" stroke="#606060" stroke-width="0.7" />
<line x1="100.5" y1="202.5" x2="100.5" y2="204.5" stroke="#606060" stroke-width="0.7" />
<line x1="115.5" y1="352.5" x2="115.5" y2="351.3" stroke="#606060" stroke-width="0.7" />
<line x1="115.5" y1="202.5" x2="115.5" y2="203.7" stroke="#606060" stroke-width="0.7" />
<line x1="124.5" y1="352.5" x2="124.5" y2="351.3" stroke="#606060" stroke-width="0.7" />
<line x1="124.5" y1="202.5" x2="124.5" y2="203.7" stroke="#606060" stroke-width="0.7" />
<line x1="130.5" y1="352.5" x2="130.5" y2="351.3" stroke="#606060" stroke-width="0.7" />
<line x1="130.5" y1="202.5" x2="130.5" y2="203.7" stroke="#606060" stroke-width="0.7" />
<line x1="135.5" y1="352.5" x2="135.5" y2="351.3" stroke="#606060" stroke-width="0.7" />
<line x1="135.5" y1="202.5" x2="135.5" y2="203.7" stroke="#606060" stroke-width="0.7" />
<line x1="139.5" y1="352.5" x2="139.5" y2="351.3" stroke="#606060" stroke-width="0.7" />
<line x1="139.5" y1="202.5" x2="139.5" y2="203.7" stroke="#606060" stroke-width="0.7" />
<line x1="143.5" y1="352.5" x2="143.5" y2="351.3" stroke="#606060" stroke-width="0.7" />
<line x1="143.5" y1="202.5" x2="143.5" y2="203.7" stroke="#606060" stroke-width="0.7" />
<line x1="146.5" y1="352.5" x2="146.5" y2="351.3" stroke="#606060" stroke-width="0.7" />
<line x1="146.5" y1="202.5" x2="146.5" y2="203.7" stroke="#606060" stroke-width="0.7" />
<line x1="148.5" y1="352.5" x2="148.5" y2="351.3" stroke="#606060" stroke-width="0.7" />
<line x1="148.5" y1="202.5" x2="148.5" y2="203.7" stroke="#606060" stroke-width="0.7" />
<line x1="151.5" y1="352.5" x2="151.5" y2="350.5" stroke="#606060" stroke-width="0.7" />
<line x1="151.5" y1="202.5" x2="151.5" y2="204.5" stroke="#606060" stroke-width="0.7" />
<line x1="166.5" y1="352.5" x2="166.5" y2="351.3" stroke="#606060" stroke-width="0.7" />
<line x1="166.5" y1="202.5" x2="166.5" y2="203.7" stroke="#606060" stroke-width="0.7" />
<line x1="175.5" y1="352.5" x2="175.5" y2="351.3" stroke="#606060" stroke-width="0.7" />
<line x1="175.5" y1="202.5" x2="175.5" y2="203.7" stroke="#606060" stroke-width="0.7" />
<line x1="181.5" y1="352.5" x2="181.5" y2="351.3" stroke="#606060" stroke-width="0.7" />
<line x1="181.5" y1="202.5" x2="181.5" y2="203.7" stroke="#606060" stroke-width="0.7" />
<line x1="186.5" y1="352.5" x2="186.5" y2="351.3" stroke="#606060" stroke-width="0.7" />
<line x1="186.5" y1="202.5" x2="186.5" y2="203.7" stroke="#606060" stroke-width="0.7" />
<line x1="190.5" y1="352.5" x2="190.5" y2="351.3" stroke="#606060" stroke-width="0.7" />
<line x1="190.5" y1="202.5" x2="190.5" y2="203.7" stroke="#606060" stroke-width="0.7" />
<line x1="193.5" y1="352.5" x2="193.5" y2="351.3" stroke="#606060" stroke-width="0.7" />
<line x1="193.5" y1="202.5" x2="193.5" y2="203.7" stroke="#606060" stroke-width="0.7" />
<line x1="196.5" y1="352.5" x2="196.5" y2="351.3" stroke="#606060" stroke-width="0.7" />
<line x1="196.5" y1="202.5" x2="196.5" y2="203.7" stroke="#606060" stroke-width="0.7" />
<line x1="199.5" y1="352.5" x2="199.5" y2="351.3" stroke="#606060" stroke-width="0.7" />
<line x1="199.5" y1="202.5" x2="199.5" y2="203.7" stroke="#606060" stroke-width="0.7" />
<line x1="201.5" y1="352.5" x2="201.5" y2="350.5" stroke="#606060" stroke-width="0.7" />
<line x1="201.5" y1="202.5" x2="201.5" y2="204.5" stroke="#606060" stroke-width="0.7" />
<line x1="217.5" y1="352.5" x2="217.5" y2="351.3" stroke="#606060" stroke-width="0.7" />
<line x1="217.5" y1="202.5" x2="217.5" y2="203.7" stroke="#606060" stroke-width="0.7" />
<line x1="225.5" y1="352.5" x2="225.5" y2="351.3" stroke="#606060" stroke-width="0.7" />
<line x1="225.5" y1="202.5" x2="225.5" y2="203.7" stroke="#606060" stroke-width="0.7" />
<line x1="232.5" y1="352.5" x2="232.5" y2="351.3" stroke="#606060" stroke-width="0.7" />
<line x1="232.5" y1="202.5" x2="232.5" y2="203.7" stroke="#606060" stroke-width="0.7" />
<line x1="237.5" y1="352.5" x2="237.5" y2="351.3" stroke="#606060" stroke-width="0.7" />
<line x1="237.5" y1="202.5" x2="237.5" y2="203.7" stroke="#606060" stroke-width="0.7" />
<line x1="241.5" y1="352.5" x2="241.5" y2="351.3" stroke="#606060" stroke-width="0.7" />
<line x1="241.5" y1="202.5" x2="241.5" y2="203.7" stroke="#606060" stroke-width="0.7" />
<line x1="244.5" y1="352.5" x2="244.5" y2="351.3" stroke="#606060" stroke-width="0.7" />
<line x1="244.5" y1="202.5" x2="244.5" y2="203.7" stroke="#606060" stroke-width="0.7" />
<line x1="247.5" y1="352.5" x2="247.5" y2="351.3" stroke="#606060" stroke-width="0.7" />
<line x1="247.5" y1="202.5" x2="247.5" y2="203.7" stroke="#606060" stroke-width="0.7" />
<line x1="250.5" y1="352.5" x2="250.5" y2="351.3" stroke="#606060" stroke-width="0.7" />
<line x1="250.5" y1="202.5" x2="250.5" y2="203.7" stroke="#606060" stroke-width="0.7" />
<line x1="49.5" y1="352.5" x2="51.5" y2="352.5" stroke="#606060" stroke-width="0.7" />
<line x1="252.5" y1="352.5" x2="250.5" y2="352.5" stroke="#606060" stroke-width="0.7" />
<line x1="49.5" y1="346.5" x2="50.7" y2="346.5" stroke="#606060" stroke-width="0.7" />
<line x1="252.5" y1="346.5" x2="251.3" y2="346.5" stroke="#606060" stroke-width="0.7" />
<line x1="49.5" y1="342.5" x2="50.7" y2="342.5" stroke="#606060" stroke-width="0.7" />
<line x1="252.5" y1="342.5" x2="251.3" y2="342.5" stroke="#606060" stroke-width="0.7" />
<line x1="49.5" y1="339.5" x2="50.7" y2="339.5" stroke="#606060" stroke-width="0.7" />
<line x1="252.5" y1="339.5" x2="251.3" y2="339.5" stroke="#606060" stroke-width="0.7" />
<line x1="49.5" y1="337.5" x2="50.7" y2="337.5" stroke="#606060" stroke-width="0.7" />
<line x1="252.5" y1="337.5" x2="251.3" y2="337.5" stroke="#606060" stroke-width="0.7" />
<line x1="49.5" y1="335.5" x2="50.7" y2="335.5" stroke="#606060" stroke-width="0.7" />
<line x1="252.5" y1="335.5" x2="251.3" y2="335.5" stroke="#606060" stroke-width="0.7" />
<line x1="49.5" y1="334.5" x2="50.7" y2="334.5" stroke="#606060" stroke-width="0.7" />
<line x1="252.5" y1="334.5" x2="251.3" y2="334.5" stroke="#606060" stroke-width="0.7" />
<line x1="49.5" y1="333.5" x2="50.7" y2="333.5" stroke="#606060" stroke-width="0.7" />
<line x1="252.5" y1="333.5" x2="251.3" y2="333.5" stroke="#606060" stroke-width="0.7" />
<line x1="49.5" y1="332.5" x2="50.7" y2="332.5" stroke="#606060" stroke-width="0.7" />
<line x1="252.5" y1="332.5" x2="251.3" y2="332.5" stroke="#606060" stroke-width="0.7" />
<line x1="49.5" y1="331.5" x2="51.5" y2="331.5" stroke="#606060" stroke-width="0.7" />
<line x1="252.5" y1="331.5" x2="250.5" y2="331.5" stroke="#606060" stroke-width="0.7" />
<line x1="49.5" y1="324.5" x2="50.7" y2="324.5" stroke="#606060" stroke-width="0.7" />
<line x1="252.5" y1="324.5" x2="251.3" y2="324.5" stroke="#606060" stroke-width="0.7" />
<line x1="49.5" y1="320.5" x2="50.7" y2="320.5" stroke="#606060" stroke-width="0.7" />
<line x1="252.5" y1="320.5" x2="251.3" y2="320.5" stroke="#606060" stroke-width="0.7" />
<line x1="49.5" y1="318.5" x2="50.7" y2="318.5" stroke="#606060" stroke-width="0.7" />
<line x1="252.5" y1="318.5" x2="251.3" y2="318.5" stroke="#606060" stroke-width="0.7" />
<line x1="49.5" y1="316.5" x2="50.7" y2="316.5" stroke="#606060" stroke-width="0.7" />
<line x1="252.5" y1="316.5" x2="251.3" y2="316.5" stroke="#606060" stroke-width="0.7" />
<line x1="49.5" y1="314.5" x2="50.7" y2="314.5" stroke="#606060" stroke-width="0.7" />
<line x1="252.5" y1="314.5" x2="251.3" y2="314.5" stroke="#606060" stroke-width="0.7" />
<line x1="49.5" y1="312.5" x2="50.7" y2="312.5" stroke="#606060" stroke-width="0.7" />
<line x1="252.5" y1="312.5" x2="251.3" y2="312.5" stroke="#606060" stroke-width="0.7" />
<line x1="49.5" y1="311.5" x2="50.7" y2="311.5" stroke="#606060" stroke-width="0.7" />
<line x1="252.5" y1="311.5" x2="251.3" y2="311.5" stroke="#606060" stroke-width="0.7" />
<line x1="49.5" y1="310.5" x2="50.7" y2="310.5" stroke="#606060" stroke-width="0.7" />
<line x1="252.5" y1="310.5" x2="251.3" y2="310.5" stroke="#606060" stroke-width="0.7" />
<line x1="49.5" y1="309.5" x2="51.5" y2="309.5" stroke="#606060" stroke-width="0.7" />
<line x1="252.5" y1="309.5" x2="250.5" y2="309.5" stroke="#606060" stroke-width="0.7" />
<line x1="49.5" y1="303.5" x2="50.7" y2="303.5" stroke="#606060" stroke-width="0.7" />
<line x1="252.5" y1="303.5" x2="251.3" y2="303.5" stroke="#606060" stroke-width="0.7" />
<line x1="49.5" y1="299.5" x2="50.7" y2="299.5" stroke="#606060" stroke-width="0.7" />
<line x1="252.5" y1="299.5" x2="251.3" y2="299.5" stroke="#606060" stroke-width="0.7" />
<line x1="49.5" y1="296.5" x2="50.7" y2="296.5" stroke="#606060" stroke-width="0.7" />
<line x1="252.5" y1="296.5" x2="251.3" y2="296.5" stroke="#606060" stroke-width="0.7" />
<line x1="49.5" y1="294.5" x2="50.7" y2="294.5" stroke="#606060" stroke-width="0.7" />
<line x1="252.5" y1="294.5" x2="251.3" y2="294.5" stroke="#606060" stroke-width="0.7" />
<line x1="49.5" y1="292.5" x2="50.7" y2="292.5" stroke="#606060" stroke-width="0.7" />
<line x1="252.5" y1="292.5" x2="251.3" y2="292.5" stroke="#606060" stroke-width="0.7" />
<line x1="49.5" y1="291.5" x2="50.7" y2="291.5" stroke="#606060" stroke-width="0.7" />
<line x1="252.5" y1="291.5" x2="251.3" y2="291.5" stroke="#606060" stroke-width="0.7" />
<line x1="49.5" y1="290.5" x2="50.7" y2="290.5" stroke="#606060" stroke-width="0.7" />
<line x1="252.5" y1="290.5" x2="251.3" y2="290.5" stroke="#606060" stroke-width="0.7" />
<line x1="49.5" y1="289.5" x2="50.7" y2="289.5" stroke="#606060" stroke-width="0.7" />
<line x1="252.5" y1="289.5" x2="251.3" y2="289.5" stroke="#606060" stroke-width="0.7" />
<line x1="49.5" y1="288.5" x2="51.5" y2="288.5" stroke="#606060" stroke-width="0.7" />
<line x1="252.5" y1="288.5" x2="250.5" y2="288.5" stroke="#606060" stroke-width="0.7" />
<line x1="49.5" y1="281.5" x2="50.7" y2="281.5" stroke="#606060" stroke-width="0.7" />
<line x1="252.5" y1="281.5" x2="251.3" y2="281.5" stroke="#606060" stroke-width="0.7" />
<line x1="49.5" y1="277.5" x2="50.7" y2="277.5" stroke="#606060" stroke-width="0.7" />
<line x1="252.5" y1="277.5" x2="251.3" y2="277.5" stroke="#606060" stroke-width="0.7" />
<line x1="49.5" y1="275.5" x2="50.7" y2="275.5" stroke="#606060" stroke-width="0.7" />
<line x1="252.5" y1="275.5" x2="251.3" y2="275.5" stroke="#606060" stroke-width="0.7" />
<line x1="49.5" y1="273.5" x2="50.7" y2="273.5" stroke="#606060" stroke-width="0.7" />
<line x1="252.5" y1="273.5" x2="251.3" y2="273.5" stroke="#606060" stroke-width="0.7" />
<line x1="49.5" y1="271.5" x2="50.7" y2="271.5" stroke="#606060" stroke-width="0.7" />
<line x1="252.5" y1="271.5" x2="251.3" y2="271.5" stroke="#606060" stroke-width="0.7" />
<line x1="49.5" y1="270.5" x2="50.7" y2="270.5" stroke="#606060" stroke-width="0.7" />
<line x1="252.5" y1="270.5" x2="251.3" y2="270.5" stroke="#606060" stroke-width="0.7" />
<line x1="49.5" y1="268.5" x2="50.7" y2="268.5" stroke="#606060" stroke-width="0.7" />
<line x1="252.5" y1="268.5" x2="251.3" y2="268.5" stroke="#606060" stroke-width="0.7" />
<line x1="49.5" y1="267.5" x2="50.7" y2="267.5" stroke="#606060" stroke-width="0.7" />
<line x1="252.5" y1="267.5" x2="251.3" y2="267.5" stroke="#606060" stroke-width="0.7" />
<line x1="49.5" y1="266.5" x2="51.5" y2="266.5" stroke="#606060" stroke-width="0.7" />
<line x1="252.5" y1="266.5" x2="250.5" y2="266.5" stroke="#606060" stroke-width="0.7" />
<line x1="49.5" y1="260.5" x2="50.7" y2="260.5" stroke="#606060" stroke-width="0.7" />
<line x1="252.5" y1="260.5" x2="251.3" y2="260.5" stroke="#606060" stroke-width="0.7" />
<line x1="49.5" y1="256.5" x2="50.7" y2="256.5" stroke="#606060" stroke-width="0.7" />
<line x1="252.5" y1="256.5" x2="251.3" y2="256.5" stroke="#606060" stroke-width="0.7" />
<line x1="49.5" y1="253.5" x2="50.7" y2="253.5" stroke="#606060" stroke-width="0.7" />
<line x1="252.5" y1="253.5" x2="251.3" y2="253.5" stroke="#606060" stroke-width="0.7" />
<line x1="49.5" y1="251.5" x2="50.7" y2="251.5" stroke="#606060" stroke-width="0.7" />
<line x1="252.5" y1="251.5" x2="251.3" y2="251.5" stroke="#606060" stroke-width="0.7" />
<line x1="49.5" y1="250.5" x2="50.7" y2="250.5" stroke="#606060" stroke-width="0.7" />
<line x1="252.5" y1="250.5" x2="251.3" y2="250.5" stroke="#606060" stroke-width="0.7" />
<line x1="49.5" y1="248.5" x2="50.7" y2="248.5" stroke="#606060" stroke-width="0.7" />
<line x1="252.5" y1="248.5" x2="251.3" y2="248.5" stroke="#606060" stroke-width="0.7" />
<line x1="49.5" y1="247.5" x2="50.7" y2="247.5" stroke="#606060" stroke-width="0.7" />
<line x1="252.5" y1="247.5" x2="251.3" y2="247.5" stroke="#606060" stroke-width="0.7" />
<line x1="49.5" y1="246.5" x2="50.7" y2="246.5" stroke="#606060" stroke-width="0.7" />
<line x1="252.5" y1="246.5" x2="251.3" y2="246.5" stroke="#606060" stroke-width="0.7" />
<line x1="49.5" y1="245.5" x2="51.5" y2="245.5" stroke="#606060" stroke-width="0.7" />
<line x1="252.5" y1="245.5" x2="250.5" y2="245.5" stroke="#606060" stroke-width="0.7" />
<line x1="49.5" y1="238.5" x2="50.7" y2="238.5" stroke="#606060" stroke-width="0.7" />
<line x1="252.5" y1="238.5" x2="251.3" y2="238.5" stroke="#606060" stroke-width="0.7" />
<line x1="49.5" y1="235.5" x2="50.7" y2="235.5" stroke="#606060" stroke-width="0.7" />
<line x1="252.5" y1="235.5" x2="251.3" y2="235.5" stroke="#606060" stroke-width="0.7" />
<line x1="49.5" y1="232.5" x2="50.7" y2="232.5" stroke="#606060" stroke-width="0.7" />
<line x1="252.5" y1="232.5" x2="251.3" y2="232.5" stroke="#606060" stroke-width="0.7" />
<line x1="49.5" y1="230.5" x2="50.7" y2="230.5" stroke="#606060" stroke-width="0.7" />
<line x1="252.5" y1="230.5" x2="251.3" y2="230.5" stroke="#606060" stroke-width="0.7" />
<line x1="49.5" y1="228.5" x2="50.7" y2="228.5" stroke="#606060" stroke-width="0.7" />
<line x1="252.5" y1="228.5" x2="251.3" y2="228.5" stroke="#606060" stroke-width="0.7" />
<line x1="49.5" y1="227.5" x2="50.7" y2="227.5" stroke="#606060" stroke-width="0.7" />
<line x1="252.5" y1="227.5" x2="251.3" y2="227.5" stroke="#606060" stroke-width="0.7" />
<line x1="49.5" y1="226.5" x2="50.7" y2="226.5" stroke="#606060" stroke-width="0.7" />
<line x1="252.5" y1="226.5" x2="251.3" y2="226.5" stroke="#606060" stroke-width="0.7" />
<line x1="49.5" y1="224.5" x2="50.7" y2="224.5" stroke="#606060" stroke-width="0.7" />
<line x1="252.5" y1="224.5" x2="251.3" y2="224.5" stroke="#606060" stroke-width="0.7" />
<line x1="49.5" y1="223.5" x2="51.5" y2="223.5" stroke="#606060" stroke-width="0.7" />
<line x1="252.5" y1="223.5" x2="250.5" y2="223.5" stroke="#606060" stroke-width="0.7" />
<line x1="49.5" y1="217.5" x2="50.7" y2="217.5" stroke="#606060" stroke-width="0.7" />
<line x1="252.5" y1="217.5" x2="251.3" y2="217.5" stroke="#606060" stroke-width="0.7" />
<line x1="49.5" y1="213.5" x2="50.7" y2="213.5" stroke="#606060" stroke-width="0.7" />
<line x1="252.5" y1="213.5" x2="251.3" y2="213.5" stroke="#606060" stroke-width="0.7" />
<line x1="49.5" y1="211.5" x2="50.7" y2="211.5" stroke="#606060" stroke-width="0.7" />
<line x1="252.5" y1="211.5" x2="251.3" y2="211.5" stroke="#606060" stroke-width="0.7" />
<line x1="49.5" y1="208.5" x2="50.7" y2="208.5" stroke="#606060" stroke-width="0.7" />
<line x1="252.5" y1="208.5" x2="251.3" y2="208.5" stroke="#606060" stroke-width="0.7" />
<line x1="49.5" y1="207.5" x2="50.7" y2="207.5" stroke="#606060" stroke-width="0.7" />
<line x1="252.5" y1="207.5" x2="251.3" y2="207.5" stroke="#606060" stroke-width="0.7" />
<line x1="49.5" y1="205.5" x2="50.7" y2="205.5" stroke="#606060" stroke-width="0.7" />
<line x1="252.5" y1="205.5" x2="251.3" y2="205.5" stroke="#606060" stroke-width="0.7" />
<line x1="49.5" y1="204.5" x2="50.7" y2="204.5" stroke="#606060" stroke-width="0.7" />
<line x1="252.5" y1="204.5" x2="251.3" y2="204.5" stroke="#606060" stroke-width="0.7" />
<line x1="49.5" y1="203.5" x2="50.7" y2="203.5" stroke="#606060" stroke-width="0.7" />
<line x1="252.5" y1="203.5" x2="251.3" y2="203.5" stroke="#606060" stroke-width="0.7" />
<text x="43.8" y="359.01" font-size="12" text-anchor="end" fill="#262626" font-family='"Liberation Sans", Arial, sans-serif'>10<tspan font-size="8.8" dy="-6">-16</tspan></text>
<text x="43.8" y="337.58" font-size="12" text-anchor="end" fill="#262626" font-family='"Liberation Sans", Arial, sans-serif'>10<tspan font-size="8.8" dy="-6">-15</tspan></text>
<text x="43.8" y="316.15" font-size="12" text-anchor="end" fill="#262626" font-family='"Liberation Sans", Arial, sans-serif'>10<tspan font-size="8.8" dy="-6">-14</tspan></text>
<text x="43.8" y="294.72" font-size="12" text-anchor="end" fill="#262626" font-family='"Liberation Sans", Arial, sans-serif'>10<tspan font-size="8.8" dy="-6">-13</tspan></text>
<text x="43.8" y="273.29" font-size="12" text-anchor="end" fill="#262626" font-family='"Liberation Sans", Arial, sans-serif'>10<tspan font-size="8.8" dy="-6">-12</tspan></text>
<text x="43.8" y="251.86" font-size="12" text-anchor="end" fill="#262626" font-family='"Liberation Sans", Arial, sans-serif'>10<tspan font-size="8.8" dy="-6">-11</tspan></text>
<text x="43.8" y="230.43" font-size="12" text-anchor="end" fill="#262626" font-family='"Liberation Sans", Arial, sans-serif'>10<tspan font-size="8.8" dy="-6">-10</tspan></text>
<text x="43.8" y="209" font-size="12" text-anchor="end" fill="#262626" font-family='"Liberation Sans", Arial, sans-serif'>10<tspan font-size="8.8" dy="-6">-9</tspan></text>
<text x="48.7" y="372.6" font-size="12.1" text-anchor="middle" fill="#262626" font-family='"Liberation Sans", Arial, sans-serif'>10<tspan font-size="8.8" dy="-5.8">0</tspan></text>
<text x="99.45" y="372.6" font-size="12.1" text-anchor="middle" fill="#262626" font-family='"Liberation Sans", Arial, sans-serif'>10<tspan font-size="8.8" dy="-5.8">1</tspan></text>
<text x="150.2" y="372.6" font-size="12.1" text-anchor="middle" fill="#262626" font-family='"Liberation Sans", Arial, sans-serif'>10<tspan font-size="8.8" dy="-5.8">2</tspan></text>
<text x="200.95" y="372.6" font-size="12.1" text-anchor="middle" fill="#262626" font-family='"Liberation Sans", Arial, sans-serif'>10<tspan font-size="8.8" dy="-5.8">3</tspan></text>
<text x="251.7" y="372.6" font-size="12.1" text-anchor="middle" fill="#262626" font-family='"Liberation Sans", Arial, sans-serif'>10<tspan font-size="8.8" dy="-5.8">4</tspan></text>
<text x="91.6" y="392.4" font-size="11.5" text-anchor="start" fill="#262626" font-family='"Liberation Sans", Arial, sans-serif' textLength="116.8" lengthAdjust="spacingAndGlyphs" >Integration time τ in s</text>
<text x="142.3" y="409.2" font-size="11.5" text-anchor="start" fill="#262626" font-family='"Liberation Sans", Arial, sans-serif' textLength="14.3" lengthAdjust="spacingAndGlyphs" >(b)</text>
<text transform="rotate(-90)" x="-295.4" y="11.9" font-size="11.5" fill="#262626" font-family='"Liberation Sans", Arial, sans-serif' textLength="27.3" lengthAdjust="spacingAndGlyphs">rel. A</text>
<text transform="rotate(-90)" x="-267.2" y="13.8" font-size="8" fill="#262626" font-family='"Liberation Sans", Arial, sans-serif' style="stroke-width:0.42px" textLength="13.4" lengthAdjust="spacingAndGlyphs">Dev</text>
<line x1="364.5" y1="5.9" x2="364.5" y2="109.1" stroke="#e3e3e3" stroke-width="0.8" />
<line x1="398.5" y1="5.9" x2="398.5" y2="109.1" stroke="#e3e3e3" stroke-width="0.8" />
<line x1="431.5" y1="5.9" x2="431.5" y2="109.1" stroke="#e3e3e3" stroke-width="0.8" />
<line x1="465.5" y1="5.9" x2="465.5" y2="109.1" stroke="#e3e3e3" stroke-width="0.8" />
<line x1="499.5" y1="5.9" x2="499.5" y2="109.1" stroke="#e3e3e3" stroke-width="0.8" />
<line x1="330.2" y1="31.5" x2="533.6" y2="31.5" stroke="#e3e3e3" stroke-width="0.8" />
<line x1="330.2" y1="57.5" x2="533.6" y2="57.5" stroke="#e3e3e3" stroke-width="0.8" />
<line x1="330.2" y1="83.5" x2="533.6" y2="83.5" stroke="#e3e3e3" stroke-width="0.8" />
<polyline points="330.5,52.9 330.6,53.6 330.8,76.2 330.9,71.8 331,70.8 331.2,60.8 331.3,52.7 331.4,41.5 331.6,41.3 331.7,43.6 331.9,52.6 332,53.4 332.1,60 332.3,55.5 332.4,53.6 332.5,46.6 332.7,44.9 332.8,41.5 332.9,32.9 333.1,39 333.2,47.5 333.3,64.2 333.5,61.5 333.6,59.3 333.7,60.8 333.9,66.1 334,53.8 334.2,47.7 334.3,49 334.4,52 334.6,54.8 334.7,63.8 334.8,54.5 335,50.2 335.1,52 335.2,49.5 335.4,54.2 335.5,62.5 335.6,53.2 335.8,58.2 335.9,61.1 336,57.5 336.2,50 336.3,43.3 336.5,33.6 336.6,52.2 336.7,62.2 336.9,52.5 337,62.9 337.1,47.4 337.3,39.7 337.4,44.5 337.5,53 337.7,51.8 337.8,69.5 337.9,58.4 338.1,52.5 338.2,56.3 338.3,50.8 338.5,50.3 338.6,27.8 338.8,43.8 338.9,48.6 339,41 339.2,49.3 339.3,55.4 339.4,53.1 339.6,48.4 339.7,56.9 339.8,59.6 340,53.4 340.1,46.3 340.2,27.8 340.4,47.1 340.5,40 340.6,53.7 340.8,60.4 340.9,48.2 341.1,46.9 341.2,45.1 341.3,47.9 341.5,44.7 341.6,51.8 341.7,57.5 341.9,62.7 342,59.6 342.1,53.9 342.3,49.8 342.4,47 342.5,47.4 342.7,56 342.8,53.8 342.9,58.2 343.1,52.5 343.2,62.9 343.4,47.8 343.5,45.6 343.6,43 343.8,34.8 343.9,50.5 344,26.5 344.2,50.3 344.3,43.9 344.4,53.1 344.6,58.8 344.7,59.7 344.8,64.5 345,48.8 345.1,37.2 345.2,53.4 345.4,56.6 345.5,54.5 345.7,45 345.8,44.4 345.9,48.9 346.1,56.7 346.2,53.6 346.3,51.6 346.5,46.5 346.6,40.7 346.7,43.8 346.9,58.9 347,53.3 347.1,50.2 347.3,39.3 347.4,41.1 347.5,49.5 347.7,50.7 347.8,64.4 348,61.1 348.1,51.9 348.2,54 348.4,39.6 348.5,46.1 348.6,46.9 348.8,30.9 348.9,44.1 349,40.9 349.2,46.6 349.3,59.7 349.4,48.2 349.6,43.3 349.7,49.5 349.8,67.2 350,27.8 350.1,51.5 350.3,56.3 350.4,65.5 350.5,70.8 350.7,70.2 350.8,59.9 350.9,56.6 351.1,53.5 351.2,51.8 351.3,58.3 351.5,60 351.6,72.5 351.7,75.9 351.9,57.1 352,57.8 352.1,54.8 352.3,54.4 352.4,55.8 352.6,51 352.7,49.8 352.8,54.9 353,51.2 353.1,52 353.2,49.4 353.4,56.8 353.5,63.5 353.6,54.8 353.8,50.1 353.9,41.6 354,48.1 354.2,43.4 354.3,55.8 354.4,50.6 354.6,52.7 354.7,53.4 354.9,52.1 355,51.8 355.1,58.3 355.3,52.1 355.4,61.6 355.5,61.2 355.7,49.9 355.8,55.2 355.9,57.6 356.1,60.5 356.2,64.4 356.3,75.8 356.5,57.4 356.6,49.1 356.7,50.4 356.9,57.2 357,57.4 357.2,38.7 357.3,44.4 357.4,55.7 357.6,50.9 357.7,51.6 357.8,61.3 358,61.9 358.1,53.2 358.2,50.9 358.4,50.3 358.5,51.9 358.6,58.9 358.8,63 358.9,58.6 359,61.7 359.2,47.2 359.3,40.1 359.5,61 359.6,66.9 359.7,67.2 359.9,72.5 360,66.2 360.1,63.7 360.3,56.6 360.4,54.9 360.5,60.5 360.7,60 360.8,59.5 360.9,57 361.1,44.1 361.2,42.3 361.3,53.8 361.5,50.5 361.6,50.1 361.8,55.7 361.9,46.5 362,55 362.2,52.8 362.3,46.6 362.4,47.6 362.6,42.4 362.7,51.9 362.8,58.8 363,58.7 363.1,61.3 363.2,60.7 363.4,52.7 363.5,63.3 363.6,47.2 363.8,37.8 363.9,56.6 364.1,53.8 364.2,68.2 364.3,57.3 364.5,53 364.6,55.8 364.7,55.1 364.9,55.2 365,51.6 365.1,62.4 365.3,53.9 365.4,54.4 365.5,51.9 365.7,56.7 365.8,47.4 365.9,57.3 366.1,51 366.2,55.9 366.4,43 366.5,50.1 366.6,43.4 366.8,44.7 366.9,47.1 367,29.1 367.2,49 367.3,53.8 367.4,51.9 367.6,46.7 367.7,58.5 367.8,51.3 368,41.7 368.1,37.7 368.2,38.9 368.4,53.1 368.5,55.2 368.7,49.9 368.8,41.4 368.9,43.1 369.1,43 369.2,44.8 369.3,52 369.5,52.5 369.6,60.6 369.7,49.5 369.9,62.5 370,53.5 370.1,57.8 370.3,47.7 370.4,56.9 370.5,48.6 370.7,47.1 370.8,57.7 371,59.7 371.1,59.9 371.2,75.1 371.4,80.8 371.5,69.8 371.6,73.3 371.8,56.2 371.9,63 372,57.4 372.2,48 372.3,47 372.4,48.2 372.6,52.6 372.7,50.9 372.8,61.9 373,66.6 373.1,61.7 373.3,66.9 373.4,55 373.5,55 373.7,52.6 373.8,58.2 373.9,50.2 374.1,52.1 374.2,63.2 374.3,51.9 374.5,40.1 374.6,39.3 374.7,46.6 374.9,50.5 375,57 375.1,55.6 375.3,45 375.4,55 375.6,52.6 375.7,65.3 375.8,67.4 376,85.9 376.1,50.9 376.2,58.3 376.4,57.5 376.5,50.8 376.6,39.4 376.8,47 376.9,51.1 377,48.7 377.2,50.5 377.3,61.2 377.4,39.9 377.6,40.3 377.7,47 377.9,56.2 378,53.4 378.1,44 378.3,48.6 378.4,58 378.5,43.2 378.7,44 378.8,48.2 378.9,50.7 379.1,56.5 379.2,43.8 379.3,58.6 379.5,52.3 379.6,49.6 379.7,44.8 379.9,46.2 380,48.8 380.2,54.3 380.3,53.8 380.4,55 380.6,45.1 380.7,54 380.8,37.2 381,39.1 381.1,54.2 381.2,56 381.4,51.2 381.5,51.1 381.6,63 381.8,44.6 381.9,48.1 382,42 382.2,44.7 382.3,37.9 382.5,51.8 382.6,53.8 382.7,53.1 382.9,53.9 383,48.3 383.1,35.2 383.3,44.5 383.4,55.3 383.5,49.6 383.7,52.5 383.8,59 383.9,51.1 384.1,46 384.2,55.4 384.3,59.3 384.5,51.7 384.6,62.8 384.8,58.9 384.9,48.6 385,61.3 385.2,61.4 385.3,55.7 385.4,57.8 385.6,58 385.7,50.8 385.8,38.4 386,47.1 386.1,41.2 386.2,41.3 386.4,57 386.5,49.8 386.6,50.8 386.8,51.6 386.9,64.5 387.1,62.2 387.2,55.8 387.3,56.3 387.5,50.9 387.6,50.5 387.7,41.9 387.9,42.2 388,50.2 388.1,45.5 388.3,43.1 388.4,46 388.5,51.7 388.7,52.6 388.8,66.7 388.9,54.2 389.1,63.8 389.2,58.1 389.4,56.4 389.5,52.8 389.6,53.6 389.8,73.9 389.9,46.5 390,52.7 390.2,59.1 390.3,53.4 390.4,44.2 390.6,58.2 390.7,56.8 390.8,35.4 391,25.2 391.1,55.6 391.2,48.9 391.4,58.7 391.5,55.7 391.7,55.1 391.8,51.1 391.9,59.9 392.1,55.4 392.2,65.3 392.3,59.5 392.5,54.8 392.6,53.4 392.7,65.2 392.9,59.2 393,67.6 393.1,65.4 393.3,56.7 393.4,50.5 393.5,54.4 393.7,55.1 393.8,45.9 394,53.7 394.1,60.4 394.2,55.3 394.4,60.5 394.5,59.9 394.6,50.6 394.8,53.1 394.9,46.6 395,40.9 395.2,49 395.3,39 395.4,53.5 395.6,60.5 395.7,59.8 395.8,45.8 396,56.8 396.1,49.3 396.3,51.5 396.4,50.8 396.5,58.5 396.7,47.5 396.8,55.9 396.9,47.1 397.1,47.5 397.2,55.9 397.3,47.3 397.5,62.2 397.6,52.6 397.7,56.8 397.9,44.3 398,48.9 398.1,50.4 398.3,43.3 398.4,52.3 398.6,56.9 398.7,58.8 398.8,65 399,63.4 399.1,66 399.2,54.1 399.4,59.2 399.5,61.2 399.6,64.7 399.8,59 399.9,75.2 400,60.2 400.2,56 400.3,56 400.4,98.8 400.6,54.9 400.7,41.2 400.9,53.4 401,62.2 401.1,62 401.3,64.4 401.4,62.7 401.5,52.1 401.7,48 401.8,46 401.9,58.9 402.1,49.5 402.2,47.8 402.3,60.1 402.5,54 402.6,61.3 402.7,63 402.9,62.9 403,50.2 403.2,56.6 403.3,50.9 403.4,62.2 403.6,49.6 403.7,64 403.8,58.8 404,52.7 404.1,54.4 404.2,58.7 404.4,58.3 404.5,67.4 404.6,61.5 404.8,64.8 404.9,56.8 405,47.6 405.2,48.8 405.3,58.4 405.5,62.1 405.6,63.4 405.7,63.8 405.9,58.4 406,52.2 406.1,58.6 406.3,62.3 406.4,63.8 406.5,54.3 406.7,52.8 406.8,52.8 406.9,59.4 407.1,60.2 407.2,61.8 407.3,56.8 407.5,59.9 407.6,54 407.8,54.3 407.9,62.1 408,63.9 408.2,63.8 408.3,57.7 408.4,53.1 408.6,59.8 408.7,61 408.8,61.5 409,57.5 409.1,52.5 409.2,47 409.4,51.6 409.5,70.7 409.6,70.6 409.8,62.6 409.9,55.7 410.1,40.4 410.2,43.1 410.3,53.1 410.5,60.4 410.6,52.1 410.7,53.8 410.9,52.2 411,52.6 411.1,51.6 411.3,52.9 411.4,61.1 411.5,69.4 411.7,62.8 411.8,56.7 411.9,62.5 412.1,62.5 412.2,63.6 412.4,57.1 412.5,59.2 412.6,72.8 412.8,69.2 412.9,69.8 413,72.6 413.2,59.5 413.3,58.1 413.4,56.1 413.6,55.2 413.7,48.1 413.8,64.9 414,83.3 414.1,69.3 414.2,55.1 414.4,49.2 414.5,64.7 414.7,66.3 414.8,64.2 414.9,58.2 415.1,54.4 415.2,54.4 415.3,46.6 415.5,59.4 415.6,61.8 415.7,58.8 415.9,58 416,55.6 416.1,57.6 416.3,41.7 416.4,50.2 416.5,57.1 416.7,51.2 416.8,62.5 417,57.9 417.1,59 417.2,54.3 417.4,50.2 417.5,62.3 417.6,46.9 417.8,43.8 417.9,51.3 418,50.6 418.2,56.4 418.3,56.4 418.4,31.4 418.6,37.8 418.7,43.4 418.8,39.7 419,49.7 419.1,50.5 419.3,40.2 419.4,59.8 419.5,72.1 419.7,72.9 419.8,61.3 419.9,62.4 420.1,64.4 420.2,57.2 420.3,50.7 420.5,41.1 420.6,47.9 420.7,54.6 420.9,51.3 421,46.3 421.1,55.9 421.3,48.3 421.4,57.7 421.6,67.3 421.7,73.9 421.8,65.4 422,77.4 422.1,64.7 422.2,61.3 422.4,66.8 422.5,59.9 422.6,56.8 422.8,71.3 422.9,61.9 423,55.6 423.2,49.7 423.3,62.1 423.4,54.3 423.6,66.3 423.7,53.3 423.9,64.9 424,72.1 424.1,46.1 424.3,51.9 424.4,56.5 424.5,62 424.7,48.9 424.8,63.1 424.9,62.5 425.1,67.8 425.2,49.3 425.3,71.7 425.5,62.6 425.6,66.7 425.7,62.4 425.9,69.4 426,55 426.2,48.2 426.3,47.6 426.4,61.2 426.6,61.2 426.7,70.8 426.8,61.8 427,62.4 427.1,64.6 427.2,58.5 427.4,48.9 427.5,54.1 427.6,54.7 427.8,58.1 427.9,62.6 428,59.1 428.2,65.1 428.3,59.1 428.5,88.5 428.6,75.8 428.7,69.7 428.9,65.8 429,64.9 429.1,56.9 429.3,62.6 429.4,68.6 429.5,55.6 429.7,49.9 429.8,57.5 429.9,74.8 430.1,56.8 430.2,45.8 430.3,51.5 430.5,53.2 430.6,51.9 430.8,47.5 430.9,42.3 431,57.1 431.2,61.5 431.3,61 431.4,59.3 431.6,69.5 431.7,66.8 431.8,60.1 432,58.2 432.1,50.9 432.2,52.2 432.4,57.3 432.5,48.4 432.6,49.8 432.8,59.3 432.9,56.3 433,63.3 433.2,94.9 433.3,52.8 433.5,59.3 433.6,71.4 433.7,60.1 433.9,50.5 434,48.1 434.1,55 434.3,48.5 434.4,47.7 434.5,50.4 434.7,53.6 434.8,49.3 434.9,66.6 435.1,54.7 435.2,53.1 435.3,71.4 435.5,77.2 435.6,69.8 435.8,69.1 435.9,59.2 436,59.9 436.2,60.3 436.3,63.4 436.4,61.2 436.6,63.4 436.7,53.8 436.8,63.9 437,60.5 437.1,64.1 437.2,68.7 437.4,68.3 437.5,59.2 437.6,64.5 437.8,38.1 437.9,55.3 438.1,64.4 438.2,61.9 438.3,57.6 438.5,51.3 438.6,44.8 438.7,41 438.9,47.3 439,61.6 439.1,64.1 439.3,56.1 439.4,45.8 439.5,47.9 439.7,47.2 439.8,48.2 439.9,57.7 440.1,62.1 440.2,56.4 440.4,59.4 440.5,61.2 440.6,54.3 440.8,51.8 440.9,67.8 441,63.8 441.2,69.8 441.3,76.5 441.4,69.8 441.6,69.3 441.7,61.5 441.8,58.3 442,56.6 442.1,62.2 442.2,65.6 442.4,54.4 442.5,54.1 442.7,58.5 442.8,56 442.9,57.9 443.1,68.6 443.2,62.7 443.3,75.7 443.5,63.2 443.6,55.5 443.7,52.4 443.9,60.2 444,65.2 444.1,76.4 444.3,58.5 444.4,48.2 444.5,60.6 444.7,50.2 444.8,37.4 445,53.1 445.1,68.9 445.2,64.2 445.4,62 445.5,70.4 445.6,64 445.8,47.9 445.9,47.7 446,48.2 446.2,54.7 446.3,63.4 446.4,62.6 446.6,54.7 446.7,56.7 446.8,55.8 447,66.7 447.1,53.7 447.3,47.4 447.4,59 447.5,40.5 447.7,52.5 447.8,52.2 447.9,59.8 448.1,47.6 448.2,55.1 448.3,51.4 448.5,57.2 448.6,51.7 448.7,44.6 448.9,49 449,54.9 449.1,53.2 449.3,70.7 449.4,62 449.6,65 449.7,69.3 449.8,56.4 450,64.2 450.1,67.1 450.2,65 450.4,51.2 450.5,54.7 450.6,55.2 450.8,58.8 450.9,65.2 451,66.1 451.2,60.5 451.3,48.1 451.4,63.5 451.6,50.7 451.7,54.5 451.9,56.3 452,55.2 452.1,62.1 452.3,56 452.4,59.9 452.5,61.3 452.7,75.4 452.8,79.3 452.9,64.3 453.1,58.4 453.2,50.5 453.3,63 453.5,48.9 453.6,64.3 453.7,62.7 453.9,53.9 454,70.9 454.2,56.4 454.3,50.5 454.4,55.3 454.6,60.7 454.7,50.7 454.8,51.1 455,52.2 455.1,56.3 455.2,45 455.4,58.1 455.5,67.4 455.6,67.5 455.8,56.4 455.9,46.2 456,49.9 456.2,60.8 456.3,62.4 456.5,62.8 456.6,66.5 456.7,81.2 456.9,69.7 457,97.5 457.1,60 457.3,59.3 457.4,54.9 457.5,45.8 457.7,55.5 457.8,43.1 457.9,42.3 458.1,40.9 458.2,41.3 458.3,31.3 458.5,45.3 458.6,43.8 458.8,62.9 458.9,57 459,60.3 459.2,62.5 459.3,65.6 459.4,54.5 459.6,52 459.7,45 459.8,49.1 460,43.8 460.1,49.2 460.2,65 460.4,58.8 460.5,45.3 460.6,39.6 460.8,29.2 460.9,32.4 461.1,28.1 461.2,41.9 461.3,57.2 461.5,48.5 461.6,37.8 461.7,31.3 461.9,32.4 462,38.9 462.1,40 462.3,41.7 462.4,44.2 462.5,29.1 462.7,49.3 462.8,51.8 462.9,44.5 463.1,38.8 463.2,33.9 463.4,36.8 463.5,37.8 463.6,48.9 463.8,47.9 463.9,54.4 464,47.6 464.2,49.2 464.3,59.1 464.4,67 464.6,57.6 464.7,57 464.8,14.9 465,52.7 465.1,44.9 465.2,53.5 465.4,45.3 465.5,57.6 465.7,59.9 465.8,55 465.9,47.8 466.1,52.9 466.2,58.5 466.3,51.3 466.5,55 466.6,37.3 466.7,20.1 466.9,57 467,61.5 467.1,46.4 467.3,57.6 467.4,63.9 467.5,60.5 467.7,55.3 467.8,40.5 468,37.5 468.1,51.4 468.2,54.7 468.4,61.5 468.5,55.4 468.6,52.9 468.8,51.4 468.9,50 469,58.2 469.2,62.7 469.3,53.9 469.4,54.9 469.6,66.6 469.7,65.5 469.8,51.8 470,54.2 470.1,59.2 470.3,58.4 470.4,67.3 470.5,49 470.7,61 470.8,64.3 470.9,66.7 471.1,63.3 471.2,62.9 471.3,56.5 471.5,58.9 471.6,68.1 471.7,56.5 471.9,59.4 472,60.5 472.1,53.1 472.3,51.1 472.4,51.9 472.6,43.9 472.7,47.1 472.8,52.8 473,46.9 473.1,56.1 473.2,48.3 473.4,46.8 473.5,50.9 473.6,61.9 473.8,53.8 473.9,52 474,48.4 474.2,53.3 474.3,55.2 474.4,61.3 474.6,63.2 474.7,72.5 474.9,58.3 475,44.6 475.1,64.9 475.3,64.4 475.4,67.3 475.5,52.7 475.7,61.6 475.8,63.7 475.9,57.5 476.1,61.7 476.2,76.7 476.3,77.7 476.5,78.8 476.6,71.2 476.7,49.9 476.9,57.6 477,62.5 477.2,59.2 477.3,51.3 477.4,52.7 477.6,59.2 477.7,69.2 477.8,64.5 478,61 478.1,56.7 478.2,52.7 478.4,57.7 478.5,49.8 478.6,51.7 478.8,70.3 478.9,65.3 479,64.5 479.2,65.3 479.3,61.9 479.5,67.9 479.6,54.6 479.7,72.1 479.9,42.6 480,54.6 480.1,70.5 480.3,58.8 480.4,63.8 480.5,67.5 480.7,77.8 480.8,73.5 480.9,70.2 481.1,49.4 481.2,46.3 481.3,45.7 481.5,51.5 481.6,63.3 481.8,65 481.9,68.7 482,57.1 482.2,60.2 482.3,58.2 482.4,51.9 482.6,59.5 482.7,52.1 482.8,51.9 483,63 483.1,59.2 483.2,64.3 483.4,56.3 483.5,49.4 483.6,61.1 483.8,61.6 483.9,53.1 484.1,53.7 484.2,58.5 484.3,56.2 484.5,57.4 484.6,52.1 484.7,63.6 484.9,59.6 485,74.4 485.1,61.2 485.3,58.8 485.4,52.9 485.5,55.3 485.7,59.6 485.8,74 485.9,74.5 486.1,57.3 486.2,74.4 486.4,67.6 486.5,56.4 486.6,59.9 486.8,42.3 486.9,61.9 487,50.8 487.2,52.8 487.3,52.3 487.4,61.2 487.6,60 487.7,63.9 487.8,61.3 488,52 488.1,52.3 488.2,49.6 488.4,52 488.5,57.1 488.7,54.2 488.8,46.9 488.9,48.1 489.1,46.1 489.2,55.9 489.3,54.5 489.5,56.6 489.6,72.9 489.7,70.3 489.9,71.7 490,60.9 490.1,64.3 490.3,61.9 490.4,59.4 490.5,66.8 490.7,59.7 490.8,66.4 491,65.1 491.1,74.1 491.2,61.5 491.4,68.9 491.5,70 491.6,59.9 491.8,55.2 491.9,59.2 492,67.8 492.2,57 492.3,38.7 492.4,39.9 492.6,44.8 492.7,44 492.8,50.1 493,60.5 493.1,68.4 493.3,61 493.4,65.8 493.5,56.6 493.7,67.4 493.8,62.7 493.9,48.3 494.1,59.1 494.2,63.4 494.3,76.1 494.5,66.2 494.6,68.2 494.7,49.3 494.9,68 495,57.3 495.1,60.5 495.3,67 495.4,79.3 495.6,67.2 495.7,68.7 495.8,56.7 496,56.6 496.1,61.1 496.2,59.8 496.4,55.5 496.5,51.8 496.6,58.3 496.8,70.2 496.9,61.5 497,84.6 497.2,64.3 497.3,51.9 497.4,45.1 497.6,49 497.7,41.4 497.9,54.5 498,59 498.1,52.1 498.3,57 498.4,54.7 498.5,67.1 498.7,62 498.8,64.1 498.9,77.3 499.1,80.3 499.2,74.7 499.3,76.5 499.5,69 499.6,65.6 499.7,58.5 499.9,54.9 500,60.3 500.2,49 500.3,56.7 500.4,52.3 500.6,62.9 500.7,61.5 500.8,60.8 501,64.8 501.1,58.3 501.2,57.7 501.4,57.9 501.5,54.1 501.6,59.7 501.8,68 501.9,69.9 502,55.3 502.2,54.9 502.3,70.4 502.5,55.1 502.6,61.1 502.7,61.9 502.9,59.2 503,49.7 503.1,51 503.3,50.2 503.4,63.6 503.5,55.6 503.7,79.6 503.8,73.6 503.9,79.2 504.1,69.1 504.2,57.6 504.3,63.3 504.5,56.4 504.6,74.6 504.8,69.7 504.9,55.7 505,53.9 505.2,54.5 505.3,57 505.4,65.8 505.6,63.1 505.7,64 505.8,55.5 506,63.2 506.1,55.6 506.2,53 506.4,49.3 506.5,53.5 506.6,66.5 506.8,74.9 506.9,59.5 507.1,31.7 507.2,56.6 507.3,60.2 507.5,56.3 507.6,62.1 507.7,65.8 507.9,58.5 508,69.8 508.1,67.8 508.3,60.9 508.4,58.2 508.5,56.8 508.7,59.5 508.8,59.9 508.9,54.3 509.1,48 509.2,60.4 509.4,72.3 509.5,67.5 509.6,64.3 509.8,62.2 509.9,54.3 510,48 510.2,51.5 510.3,53.1 510.4,60.4 510.6,63.8 510.7,70.9 510.8,55.9 511,62.9 511.1,49 511.2,64.9 511.4,67.7 511.5,44.2 511.7,58.4 511.8,57.9 511.9,52.6 512.1,55.9 512.2,63.3 512.3,65 512.5,76.4 512.6,68.2 512.7,56.3 512.9,62.9 513,66.6 513.1,60.8 513.3,65.3 513.4,66.4 513.5,88.5 513.7,82.3 513.8,74.3 514,71.8 514.1,71.1 514.2,67.9 514.4,69.6 514.5,71.2 514.6,60.4 514.8,85.5 514.9,75.8 515,59.6 515.2,60.3 515.3,59.3 515.4,66.4 515.6,63.6 515.7,60.8 515.8,65.8 516,74.8 516.1,63.9 516.3,62.1 516.4,63.9 516.5,57.5 516.7,64.1 516.8,60.8 516.9,60.9 517.1,55.6 517.2,49.5 517.3,47.8 517.5,47 517.6,47 517.7,58 517.9,50.7 518,56.9 518.1,56.3 518.3,59.8 518.4,50.5 518.6,53.3 518.7,57.2 518.8,70.3 519,70.1 519.1,62.6 519.2,72.9 519.4,81.9 519.5,70.1 519.6,62.4 519.8,67.8 519.9,72.1 520,79.3 520.2,79.7 520.3,73.9 520.4,69.9 520.6,68.9 520.7,72.2 520.9,70.4 521,72.7 521.1,74.6 521.3,61.7 521.4,53.1 521.5,58.9 521.7,62.4 521.8,60 521.9,66.2 522.1,68.3 522.2,62.8 522.3,72.4 522.5,66.4 522.6,46.4 522.7,50 522.9,45.8 523,84.6 523.2,65.2 523.3,54.9 523.4,67 523.6,65.5 523.7,56.6 523.8,53.8 524,53 524.1,65.4 524.2,55.9 524.4,65.3 524.5,55.3 524.6,59.4 524.8,70.2 524.9,62.4 525,61.4 525.2,75.3 525.3,74.6 525.5,63.1 525.6,59.9 525.7,58.9 525.9,59.6 526,55.6 526.1,71.2 526.3,49.3 526.4,54.9 526.5,54.8 526.7,50.9 526.8,48.9 526.9,61.2 527.1,63.7 527.2,58.8 527.3,66.6 527.5,69.2 527.6,79 527.8,79.5 527.9,66.4 528,63 528.2,65.9 528.3,74.9 528.4,67.6 528.6,60 528.7,63.9 528.8,58.3 529,53.7 529.1,55.5 529.2,58.4 529.4,56 529.5,67.7 529.6,60.7 529.8,65.9 529.9,59.6 530.1,62.5 530.2,65.8 530.3,70.6 530.5,58.2 530.6,70.7 530.7,75.5 530.9,73.7 531,59.9 531.1,49.6 531.3,58.1 531.4,57.2 531.5,54.6 531.7,50.6 531.8,53.4 531.9,48.5 532.1,66.2 532.2,57.6 532.4,67 532.5,69.3 532.6,65.7 532.8,68.8 532.9,66.1 533,72.7 533.2,64.4 533.3,60.9" fill="none" stroke="#000" stroke-width="0.85" stroke-linejoin="bevel"/>
<line x1="330.2" y1="57.5" x2="533.6" y2="57.5" stroke="#008000" stroke-width="2.9" />
<rect x="330.2" y="5.9" width="203.4" height="103.2" fill="none" stroke="#606060" stroke-width="1"/>
<line x1="364.5" y1="109.1" x2="364.5" y2="107.1" stroke="#606060" stroke-width="0.8" />
<line x1="364.5" y1="5.9" x2="364.5" y2="7.9" stroke="#606060" stroke-width="0.8" />
<line x1="398.5" y1="109.1" x2="398.5" y2="107.1" stroke="#606060" stroke-width="0.8" />
<line x1="398.5" y1="5.9" x2="398.5" y2="7.9" stroke="#606060" stroke-width="0.8" />
<line x1="431.5" y1="109.1" x2="431.5" y2="107.1" stroke="#606060" stroke-width="0.8" />
<line x1="431.5" y1="5.9" x2="431.5" y2="7.9" stroke="#606060" stroke-width="0.8" />
<line x1="465.5" y1="109.1" x2="465.5" y2="107.1" stroke="#606060" stroke-width="0.8" />
<line x1="465.5" y1="5.9" x2="465.5" y2="7.9" stroke="#606060" stroke-width="0.8" />
<line x1="499.5" y1="109.1" x2="499.5" y2="107.1" stroke="#606060" stroke-width="0.8" />
<line x1="499.5" y1="5.9" x2="499.5" y2="7.9" stroke="#606060" stroke-width="0.8" />
<line x1="330.2" y1="31.5" x2="332.2" y2="31.5" stroke="#606060" stroke-width="0.8" />
<line x1="533.6" y1="31.5" x2="531.6" y2="31.5" stroke="#606060" stroke-width="0.8" />
<line x1="330.2" y1="57.5" x2="332.2" y2="57.5" stroke="#606060" stroke-width="0.8" />
<line x1="533.6" y1="57.5" x2="531.6" y2="57.5" stroke="#606060" stroke-width="0.8" />
<line x1="330.2" y1="83.5" x2="332.2" y2="83.5" stroke="#606060" stroke-width="0.8" />
<line x1="533.6" y1="83.5" x2="531.6" y2="83.5" stroke="#606060" stroke-width="0.8" />
<text x="325.1" y="10.3" font-size="11" text-anchor="end" fill="#262626" font-family='"Liberation Sans", Arial, sans-serif' >20</text>
<text x="325.1" y="36.1" font-size="11" text-anchor="end" fill="#262626" font-family='"Liberation Sans", Arial, sans-serif' >10</text>
<text x="325.1" y="61.9" font-size="11" text-anchor="end" fill="#262626" font-family='"Liberation Sans", Arial, sans-serif' >0</text>
<text x="325.1" y="87.7" font-size="11" text-anchor="end" fill="#262626" font-family='"Liberation Sans", Arial, sans-serif' >-10</text>
<text x="325.1" y="113.5" font-size="11" text-anchor="end" fill="#262626" font-family='"Liberation Sans", Arial, sans-serif' >-20</text>
<line x1="364.5" y1="127.4" x2="364.5" y2="230.1" stroke="#e3e3e3" stroke-width="0.8" />
<line x1="398.5" y1="127.4" x2="398.5" y2="230.1" stroke="#e3e3e3" stroke-width="0.8" />
<line x1="431.5" y1="127.4" x2="431.5" y2="230.1" stroke="#e3e3e3" stroke-width="0.8" />
<line x1="465.5" y1="127.4" x2="465.5" y2="230.1" stroke="#e3e3e3" stroke-width="0.8" />
<line x1="499.5" y1="127.4" x2="499.5" y2="230.1" stroke="#e3e3e3" stroke-width="0.8" />
<line x1="330.2" y1="144.5" x2="533.6" y2="144.5" stroke="#e3e3e3" stroke-width="0.8" />
<line x1="330.2" y1="161.5" x2="533.6" y2="161.5" stroke="#e3e3e3" stroke-width="0.8" />
<line x1="330.2" y1="178.5" x2="533.6" y2="178.5" stroke="#e3e3e3" stroke-width="0.8" />
<line x1="330.2" y1="195.5" x2="533.6" y2="195.5" stroke="#e3e3e3" stroke-width="0.8" />
<line x1="330.2" y1="212.5" x2="533.6" y2="212.5" stroke="#e3e3e3" stroke-width="0.8" />
<path d="M330.5 158.6V192.4M331 160.4V198.3M331.5 156.5V195.8M332 129.1V210.4M332.5 159V196.8M333 158.8V194.4M333.5 162.2V195.7M334 163V194.4M334.5 157V197M335 158.2V192M335.5 159.9V197M336 158.2V200.7M336.5 161V201.7M337 158.3V202.5M337.5 160.5V200M338 158.2V196M338.5 155.4V201.5M339 155.9V214.6M339.5 129.1V202.2M340 162.4V194.7M340.5 150.8V198.5M341 163.9V200.7M341.5 148.4V198.6M342 161V195.8M342.5 162.1V228.4M343 162.6V195.5M343.5 159.3V195.5M344 158.7V196.6M344.5 165.8V195.1M345 160.5V197.1M345.5 155.7V194.3M346 165.9V191.5M346.5 165.1V190.8M347 165V193.2M347.5 167V191.4M348 166V194M348.5 164V189.6M349 165.2V196.3M349.5 164.7V200.1M350 161.4V206.9M350.5 160.4V189.4M351 137.1V191.5M351.5 161.6V199.2M352 157V196.7M352.5 150.7V197.5M353 161.7V197.4M353.5 162.7V198M354 157.8V200.9M354.5 159.3V195.6M355 159.1V198.3M355.5 157.7V202.9M356 156.8V199.7M356.5 142.8V197.2M357 159.5V199M357.5 160.1V201.4M358 158.6V208.8M358.5 161.7V197.7M359 156.2V204.8M359.5 157.3V200M360 158.2V228.4M360.5 160.5V197M361 158.5V198M361.5 158V199.5M362 159.6V191.9M362.5 161.1V196.8M363 165.4V197.4M363.5 159.2V195.8M364 162.5V193.8M364.5 163.8V197.1M365 159.8V198.6M365.5 161.2V195.3M366 165.4V194.3M366.5 131.5V194.9M367 162.9V198.9M367.5 160.1V198M368 166.8V195.2M368.5 163.4V195.7M369 162.9V192.1M369.5 159.5V194.1M370 165.2V194M370.5 169.4V195.2M371 166V192.1M371.5 162.5V194.2M372 161.4V195.5M372.5 159.5V213.9M373 162.4V228.4M373.5 165V195.5M374 161.4V195.4M374.5 163.3V191.5M375 163.7V196.4M375.5 153.4V196.5M376 160.5V221.6M376.5 165.2V197.6M377 165.5V196.8M377.5 163.4V195.9M378 163.4V195.6M378.5 165V191.9M379 165.2V194.8M379.5 162.5V193M380 160.4V195.5M380.5 161.7V198.3M381 161.8V195.7M381.5 160.6V196.5M382 167.6V209.5M382.5 166.6V192M383 164.9V194.2M383.5 166V196.4M384 165.6V197.2M384.5 163.4V193.9M385 166.3V194.6M385.5 164.5V199.5M386 167.7V190.3M386.5 165.7V195.1M387 160.9V194.6M387.5 164.9V206.6M388 163.1V193.5M388.5 162.3V192.8M389 164.8V193.9M389.5 158.3V196.6M390 163.3V193.8M390.5 162.2V195.2M391 164.9V195M391.5 166.5V192.5M392 165.5V194.7M392.5 164.4V192.6M393 162V200.8M393.5 163.5V195M394 163.8V228.4M394.5 162.7V191.4M395 160.3V198.2M395.5 157.7V196.4M396 159.1V196M396.5 165.2V192.1M397 163.7V194M397.5 160.2V192.6M398 160.9V198.1M398.5 161.3V194.4M399 162.1V202.4M399.5 163.4V197.1M400 159.5V195.3M400.5 160.1V199.4M401 161.3V191.2M401.5 160.2V194.4M402 162V195.6M402.5 161.1V199.3M403 160.7V199.5M403.5 162.1V197.8M404 159.5V192.5M404.5 159.2V195.8M405 151.3V194.5M405.5 157.3V200.7M406 160.8V196.4M406.5 163.8V199.2M407 161.2V202.5M407.5 153.4V197.4M408 160V199.4M408.5 156.9V196.6M409 158V217.1M409.5 156.5V197.6M410 160.4V197.5M410.5 133.8V213.2M411 157.5V196.4M411.5 160.9V202.2M412 163.1V195.7M412.5 163.2V198M413 161.4V196.5M413.5 156.3V191.4M414 158.4V199.7M414.5 164.8V197.8M415 160.8V193.7M415.5 150V195.3M416 158.8V196.3M416.5 159.5V197.9M417 162.1V228.4M417.5 159.3V200.3M418 161.8V193.9M418.5 166.1V192.8M419 162.2V198.6M419.5 162.1V201.5M420 157.9V197.3M420.5 157.6V199.9M421 163V201.4M421.5 159.9V196.9M422 160.1V198.4M422.5 164V196.2M423 165.6V196.7M423.5 160.6V199M424 160.3V196.7M424.5 162.4V194.2M425 167.9V198.2M425.5 161.6V206.2M426 163.2V193.4M426.5 164.1V196.5M427 163.1V204.2M427.5 165.2V196.4M428 161.7V199.6M428.5 163.2V201.9M429 164.7V201.8M429.5 157.2V194.2M430 164.1V193.4M430.5 167.4V197M431 164.9V197.3M431.5 165.8V190M432 168.4V196.4M432.5 166.3V188.5M433 159.4V195.6M433.5 166.3V191.1M434 162.4V195.1M434.5 161.8V192.1M435 165.6V193.6M435.5 152V214M436 161.2V192.3M436.5 165.6V193.6M437 166.7V191.3M437.5 165.8V193.5M438 167.6V220M438.5 167.5V191.2M439 164.5V191.6M439.5 165.7V192.4M440 164.4V195M440.5 163.8V202M441 165.9V191.9M441.5 164.4V191.2M442 164.2V197.3M442.5 164.7V195.5M443 164.7V193M443.5 161.8V194.4M444 162.4V194M444.5 160.9V196M445 158.9V211.1M445.5 158.5V198M446 163.4V203.9M446.5 162.4V198.9M447 143.1V201.8M447.5 159.1V195.6M448 156.5V202.4M448.5 161.4V200.6M449 159.7V207.3M449.5 157.8V198.4M450 155.1V226.4M450.5 129.1V197.5M451 161.6V210.1M451.5 159.4V199.3M452 161.1V199.5M452.5 146.1V201.1M453 157.8V199.6M453.5 145V226.5M454 160.8V201.9M454.5 158.4V199.9M455 156.6V222.5M455.5 161.5V195M456 160.3V228.4M456.5 159.2V196.3M457 159.6V199.2M457.5 158.7V192.1M458 162.1V201.4M458.5 160.9V197.7M459 164.9V200.7M459.5 158.9V216.6M460 155.9V202.9M460.5 164.5V200.5M461 160.3V205.2M461.5 129.1V197.1M462 158.7V199.7M462.5 158.3V204.6M463 154.6V197.1M463.5 162V213.6M464 153.6V200.8M464.5 159.3V204.9M465 155.9V197M465.5 157.2V199.1M466 157.3V200.9M466.5 155.5V225.8M467 155.9V197.7M467.5 158V199.7M468 153.8V202.2M468.5 155.7V202.4M469 157.1V220.4M469.5 157.6V200.9M470 158.4V198.5M470.5 158.5V201.9M471 156.5V204.3M471.5 157.2V199.6M472 158.5V197.9M472.5 155.9V196.9M473 159.6V199.5M473.5 157.8V201.6M474 156.7V203.3M474.5 162.3V199.3M475 160.3V205.3M475.5 155.4V195.9M476 162.6V219M476.5 157.4V203.7M477 160.9V196.6M477.5 159.9V198.3M478 163.8V199.6M478.5 129.1V197.2M479 162.6V195.5M479.5 163.3V219.3M480 159.9V196.6M480.5 160.6V195M481 160.8V193.6M481.5 135.2V196.1M482 159.8V228.4M482.5 161.4V191.7M483 162.9V195.5M483.5 165.6V202.7M484 161.5V193.5M484.5 161.3V196.4M485 162.3V193.4M485.5 148.3V195.1M486 160.1V193.9M486.5 162.4V192.4M487 160V197.1M487.5 135.9V209.5M488 160V194.7M488.5 161.4V200.2M489 154.4V228.4M489.5 159.6V201.7M490 155.9V195.2M490.5 153.1V196.6M491 160.1V203.1M491.5 161.9V198.5M492 143.2V198.6M492.5 154.1V200.5M493 147V200.1M493.5 158.3V196.9M494 161.9V220.7M494.5 157.9V199.9M495 157.5V198.9M495.5 155.6V196.1M496 154.9V201.4M496.5 151.9V200.2M497 153.9V197M497.5 158.3V196.3M498 156.9V204.6M498.5 156V191.3M499 159.1V197.8M499.5 157.7V195.9M500 161.2V195.7M500.5 156V199.6M501 151.9V198.1M501.5 159.6V205M502 159.4V196.7M502.5 163.1V200.2M503 166.9V193.6M503.5 160.9V199.6M504 160V195.5M504.5 160.2V197.5M505 163.6V225.3M505.5 150.1V199.8M506 156.6V198M506.5 154.8V199.9M507 159.5V195.6M507.5 161.9V194.4M508 159.3V192.9M508.5 129.1V197.9M509 159.5V205.4M509.5 162.4V195.5M510 159V196.2M510.5 163.8V200.6M511 159.7V197M511.5 160.6V194.8M512 160.9V197.6M512.5 158.7V215.6M513 159.1V193.8M513.5 162.9V193M514 160.9V193.1M514.5 129.1V198.7M515 165.4V200.2M515.5 163V192.5M516 163.9V191.2M516.5 167.6V194.7M517 165.8V195.1M517.5 164V196.1M518 159.8V205.8M518.5 164.2V196.4M519 162.9V197.3M519.5 147.5V191.3M520 161V206.1M520.5 151.7V216.7M521 158.6V197M521.5 159.3V194.1M522 167.8V191M522.5 159.9V222.5M523 160.8V228.4M523.5 129.1V198M524 161.6V206.7M524.5 159.8V195.8M525 157V196.2M525.5 157.5V193.2M526 157.4V198.3M526.5 144V194.5M527 159.5V193.5M527.5 159.5V209M528 151.9V196.8M528.5 156.4V197.6M529 161.2V191.2M529.5 161V199.3M530 161.5V200.4M530.5 157.1V195.5M531 158.6V195.1M531.5 161.3V194.4M532 146.3V198.3M532.5 164.2V193.8M533 161.6V196.5" stroke="#5ab45a" stroke-width="0.55" fill="none"/>
<path d="M330.5 156V202.2M331 159.1V217.4M331.5 153.7V202M332 152.8V196.9M332.5 150.8V196.8M333 139.3V197.1M333.5 147.2V197.8M334 162.7V194.4M334.5 156.8V228.4M335 149.4V203.7M335.5 159.9V208.3M336 158.2V216.1M336.5 153.8V201.7M337 146.4V202.7M337.5 160.5V203.1M338 151.9V202.8M338.5 155.8V204.3M339 159.2V204.6M339.5 151.9V199M340 154V206M340.5 151.1V203.4M341 159.5V219.2M341.5 150.6V224.1M342 158.4V195.8M342.5 137.5V197.2M343 137.7V225.5M343.5 157.7V204.9M344 159.6V202.9M344.5 164.9V211.4M345 161.1V195.9M345.5 166.8V197.4M346 165.9V196.7M346.5 164V193.8M347 157V195.1M347.5 164.8V208.7M348 165.7V195.3M348.5 164V194.8M349 165.2V198.7M349.5 164.7V216.9M350 153.5V198.3M350.5 160.4V210.3M351 150.1V195.7M351.5 154.7V199.6M352 154.9V203.3M352.5 159.4V206.8M353 161.7V201.7M353.5 158.4V203.1M354 149.1V204.6M354.5 159.3V196.2M355 156.5V198.3M355.5 153.9V202.9M356 156.6V199.7M356.5 153.1V197.2M357 132.2V207.8M357.5 149.9V216.5M358 158.6V200.9M358.5 154.2V210.2M359 152.1V199.2M359.5 156V208M360 149.8V208.1M360.5 160.1V206.1M361 158.5V199.4M361.5 155.4V210.4M362 159.6V191.9M362.5 161.8V196.8M363 154.7V214.9M363.5 143.1V213.8M364 162.5V200.6M364.5 133.1V197.1M365 135.9V203.7M365.5 147.4V224.5M366 165.4V212.6M366.5 154.5V195.5M367 160.1V200M367.5 160.1V199.4M368 166.8V205.1M368.5 146V208.1M369 160.6V192.7M369.5 159.5V200.2M370 147.3V199.2M370.5 163.9V196M371 166V202.7M371.5 151.1V199.4M372 155.6V203.8M372.5 155.1V195.9M373 162.4V208.9M373.5 165V195.5M374 160.5V228M374.5 160V218.9M375 157.3V193.2M375.5 161.9V200.1M376 142.8V196.2M376.5 162.5V201.7M377 161.2V197.4M377.5 150.3V195.9M378 163.4V198M378.5 164.8V196M379 163.9V195.1M379.5 155.9V216.2M380 159.4V196.3M380.5 160.8V200.2M381 160V195.7M381.5 160.6V206.3M382 167.6V196.9M382.5 160.9V197.8M383 159.4V202.5M383.5 165V196.4M384 165.5V197.2M384.5 163.4V204.4M385 166V198.8M385.5 160.7V193.9M386 165.2V201.2M386.5 165.7V195.2M387 160.9V196M387.5 162.5V202.9M388 163.1V213.6M388.5 161.9V196.1M389 160.7V196.5M389.5 162.6V198.3M390 159.3V193.8M390.5 152.3V203.3M391 151V221.9M391.5 165.9V204.9M392 161.7V194.7M392.5 153.7V192.6M393 152.2V204.1M393.5 143.6V195M394 160.5V192.3M394.5 148.9V191.4M395 157V198.2M395.5 159.6V196.4M396 143.2V196M396.5 160.5V195.9M397 158.2V210.1M397.5 159.8V205.1M398 160.9V198.1M398.5 164V201.1M399 160.6V200.3M399.5 158.1V198.6M400 154.2V201.5M400.5 155.4V209.3M401 156V197.5M401.5 148.9V196.1M402 159.3V197.1M402.5 161.1V201.9M403 160.7V214.7M403.5 162.1V199.4M404 151.9V194.4M404.5 156.9V199.6M405 159.2V195.4M405.5 151.9V200.7M406 152.8V196.4M406.5 163.8V207.5M407 159.6V211.3M407.5 159.5V197.4M408 155.3V206.4M408.5 152.6V196.6M409 152.1V203.7M409.5 159.1V198.3M410 158.2V197.5M410.5 147.8V215.3M411 155.2V204.8M411.5 156.7V208.8M412 152.2V200.1M412.5 162.9V198.8M413 148.6V218.8M413.5 135.3V195.4M414 153.6V199.7M414.5 162.2V197.8M415 160.8V193.7M415.5 140.1V195.3M416 158.7V198.1M416.5 153.6V218.4M417 151.1V206.3M417.5 159.3V200.3M418 132.4V193.9M418.5 144.1V192.8M419 162.2V207.9M419.5 161.8V216.4M420 154.3V197.3M420.5 157.6V204.1M421 163V193.6M421.5 159.9V199.4M422 154.6V200.4M422.5 139V200.2M423 165.6V205.7M423.5 151.2V200.2M424 151.4V195.3M424.5 158.8V195.4M425 167.9V198.2M425.5 149V200.5M426 159.3V215.8M426.5 149.5V196.5M427 162.1V193.9M427.5 165.2V205.7M428 156.4V199.8M428.5 163.2V207.8M429 164.7V199.5M429.5 162.7V195.3M430 140.4V199.2M430.5 167.4V209.5M431 163.8V201.9M431.5 158V214.7M432 156.6V196.4M432.5 164.6V188.5M433 155.9V197.2M433.5 166.2V201.4M434 162.4V195.7M434.5 161.8V192.7M435 165.6V205.4M435.5 163.9V192.7M436 161.2V198.2M436.5 156.2V194.8M437 152.6V191.3M437.5 165.8V206.5M438 161.1V195.9M438.5 167.5V194.9M439 164.5V208.4M439.5 162.8V192.4M440 164.4V204.7M440.5 147.9V193.1M441 162.2V199.2M441.5 129.1V191.2M442 143.1V196.7M442.5 154.5V195.5M443 146.5V228.4M443.5 161.7V204.5M444 152.1V194M444.5 157.9V196M445 158.4V200.5M445.5 158.5V202.2M446 163.4V207.3M446.5 162.4V202.7M447 155.8V198.8M447.5 148.3V195.6M448 156.5V201.6M448.5 149.5V209.1M449 159.7V211.2M449.5 149.3V199.3M450 155.1V214.3M450.5 137.7V200.1M451 157.7V207.8M451.5 155.9V199.3M452 161.1V199.5M452.5 153.9V201.1M453 157.8V199.6M453.5 158.8V205M454 129.1V219.4M454.5 152.6V203.6M455 155.4V201.7M455.5 161.5V200.3M456 146.9V206.1M456.5 155.2V198.4M457 156.4V207.9M457.5 158.7V201.6M458 144.1V201.4M458.5 152V197.7M459 141.4V200.7M459.5 158.9V200.7M460 155.9V207.6M460.5 162.7V200.5M461 154.6V216.9M461.5 134.8V223M462 158.6V199.7M462.5 163.2V213.3M463 154.6V194.5M463.5 156.6V206.8M464 153.6V203.7M464.5 159.3V208.7M465 149.7V203.7M465.5 156.7V199.1M466 157.3V200.9M466.5 145.9V212M467 154.9V197.7M467.5 156.2V213.6M468 150.7V208.5M468.5 153.5V197.9M469 156.9V205.2M469.5 138.1V200.9M470 158.4V204.3M470.5 148.7V200.5M471 156.1V205.4M471.5 155.3V199.6M472 152.8V211.2M472.5 153.2V196.9M473 148.9V211M473.5 157.8V201.6M474 132.1V199.8M474.5 159.3V228.4M475 158V207.4M475.5 155.4V195.9M476 142.1V194.8M476.5 155V198.6M477 163.3V204.7M477.5 153.3V209.7M478 163.8V208.6M478.5 162.9V197.2M479 162.6V205.7M479.5 156.1V213.3M480 159.9V220.3M480.5 160.6V195M481 152.4V197.8M481.5 157.7V203.4M482 132.6V193.9M482.5 155V193.4M483 162.9V200.5M483.5 154.5V200.4M484 161.5V193.5M484.5 161.3V196.4M485 162.3V201.6M485.5 160.4V213.7M486 129.1V198.1M486.5 161.1V195.9M487 160V199.3M487.5 150.2V207.9M488 159.4V195.7M488.5 147.2V200.2M489 159.1V202.6M489.5 147.3V201.7M490 154.4V195.2M490.5 153.1V196.7M491 160.1V205.7M491.5 159.3V199.6M492 160.1V204.2M492.5 139.6V201.8M493 160V200.1M493.5 158.3V201.7M494 159.7V203.5M494.5 157.9V199.9M495 157.5V208.8M495.5 155.6V216.7M496 153.1V225.5M496.5 150.2V201M497 134.9V197M497.5 156V204.8M498 159.4V206.1M498.5 159.7V192.5M499 159.1V197.8M499.5 154.5V210.4M500 146.2V195.7M500.5 153.8V208.4M501 143.2V198.6M501.5 155.8V215.3M502 150.4V205.3M502.5 147.9V213.1M503 160V197.5M503.5 157.1V199.6M504 158V195.5M504.5 159.8V197.5M505 153.6V200.6M505.5 157.5V209.6M506 156.6V198M506.5 157.6V220.1M507 147.3V195.6M507.5 161.9V203M508 140.9V197.3M508.5 152.9V210.6M509 156.7V201.2M509.5 148.5V195.5M510 158.5V202.7M510.5 163.8V204.8M511 162.6V197.1M511.5 146.4V192.2M512 158.5V197.6M512.5 146.5V203M513 159.1V212M513.5 149.6V195.6M514 160.9V194.8M514.5 163.3V197.4M515 165.4V198.1M515.5 157.4V194.8M516 163.9V200.9M516.5 167.6V197.2M517 129.1V199M517.5 164V201M518 156.2V208.8M518.5 159V196.9M519 158.6V200.6M519.5 153.3V191.3M520 162V198.4M520.5 146.8V199.6M521 138.5V209.6M521.5 138.4V195.7M522 167.8V191M522.5 159.5V209.2M523 160.8V194.9M523.5 141.6V203.4M524 159.4V206.9M524.5 159.8V194.4M525 154.6V199.6M525.5 157.5V203.6M526 136.1V198.3M526.5 157.1V195.1M527 157.7V203.7M527.5 156.7V221.1M528 164.3V213.3M528.5 154.1V197.6M529 152V191.2M529.5 155.8V199.3M530 161.5V203.5M530.5 155.1V206.2M531 166.8V202.3M531.5 157V199.7M532 164.8V199.5M532.5 164.2V194M533 166.2V196.6" stroke="#0d8e0d" stroke-width="0.55" fill="none"/>
<path d="M330.5 158.6V192.4M331 160.4V198.3M331.5 156.5V195.8M332 162.4V196.9M332.5 159V196.8M333 158.8V194.4M333.5 162.2V195.7M334 163V194.4M334.5 157V197M335 158.2V192M335.5 159.9V197M336 158.2V200.7M336.5 161V201.7M337 158.3V201.7M337.5 160.5V200M338 158.2V196M338.5 155.8V201.5M339 159.7V200.2M339.5 156.9V199M340 162.4V194.7M340.5 160.7V198.5M341 163.9V200.7M341.5 161V198.6M342 161V195.8M342.5 162.1V197.2M343 162.6V195.5M343.5 159.3V195.5M344 159.6V196.6M344.5 165.8V195.1M345 161.1V194.1M345.5 167.5V194.3M346 165.9V191.5M346.5 165.1V190.8M347 165V193.2M347.5 167V191.4M348 166V194M348.5 164V189.6M349 165.2V196.3M349.5 164.7V194M350 161.4V198.3M350.5 160.4V189.4M351 162.2V191.5M351.5 161.6V199.2M352 161.3V196.7M352.5 161.9V197.5M353 161.7V197.4M353.5 162.7V198M354 157.8V199.4M354.5 159.3V195.6M355 159.1V198.3M355.5 157.7V202.9M356 156.8V199.7M356.5 154.5V197.2M357 159.5V199M357.5 160.1V201.4M358 158.6V197.8M358.5 161.7V197.7M359 156.2V199.2M359.5 157.3V200M360 158.2V201.4M360.5 160.5V197M361 158.5V198M361.5 158V199.5M362 159.6V191.9M362.5 161.8V196.8M363 165.4V197.4M363.5 159.2V195.8M364 162.5V193.8M364.5 163.8V197.1M365 159.8V198.6M365.5 161.2V195.3M366 165.4V194.3M366.5 162.4V194.9M367 162.9V198.9M367.5 160.1V198M368 166.8V195.2M368.5 163.4V192.5M369 162.9V192.1M369.5 159.5V194.1M370 165.2V194M370.5 169.4V195.2M371 166V192.1M371.5 162.5V194.2M372 161.4V195.5M372.5 159.5V190.6M373 162.4V199.2M373.5 165V195.5M374 161.4V195.4M374.5 163.3V191.5M375 163.7V192.1M375.5 163.2V196.5M376 160.5V196.2M376.5 165.2V189M377 165.5V196.8M377.5 163.4V195.9M378 163.4V195.6M378.5 165V191.9M379 165.2V194.8M379.5 162.5V193M380 160.4V195.5M380.5 161.7V198.3M381 161.8V195.7M381.5 160.6V196.5M382 167.6V193.6M382.5 166.6V192M383 164.9V194.2M383.5 166V196.4M384 165.6V197.2M384.5 163.4V193.9M385 166.3V194.6M385.5 164.5V193.2M386 167.9V190.3M386.5 165.7V194.1M387 160.9V194.6M387.5 164.9V193M388 163.1V193.5M388.5 162.3V190M389 164.8V193.9M389.5 162.6V196.6M390 163.3V193.8M390.5 162.2V195.2M391 164.9V195M391.5 166.5V192.5M392 165.5V194.7M392.5 164.4V192.6M393 162V200.8M393.5 163.5V195M394 163.8V192.3M394.5 163.2V191.4M395 160.3V198.2M395.5 163.9V196.4M396 159.1V196M396.5 165.2V192.1M397 163.7V194M397.5 160.2V192.6M398 160.9V198.1M398.5 164V194.4M399 162.1V200.3M399.5 163.4V197.1M400 159.5V195.3M400.5 160.1V199.4M401 163.1V191.2M401.5 160.2V194.4M402 162V195.6M402.5 161.1V199.3M403 160.7V199.5M403.5 162.1V197.8M404 159.5V192.5M404.5 159.2V195.8M405 159.2V194.5M405.5 157.3V200.7M406 160.8V196.4M406.5 163.8V199.2M407 161.2V202.5M407.5 159.5V197.4M408 160V199.4M408.5 158.5V196.6M409 158V197.7M409.5 160.4V197.6M410 160.4V197.5M410.5 162.7V197.6M411 157.5V196.4M411.5 160.9V202.2M412 163.1V195.7M412.5 163.2V198M413 161.4V196.5M413.5 156.3V191.4M414 158.4V199.7M414.5 164.8V197.8M415 160.8V193.7M415.5 159.8V195.3M416 158.8V193M416.5 159.5V197.9M417 162.1V201.2M417.5 159.3V200.3M418 161.8V193.9M418.5 166.1V192.8M419 162.2V198.6M419.5 162.1V201.5M420 157.9V197.3M420.5 157.6V199.9M421 163V193.6M421.5 159.9V196.9M422 160.1V198.4M422.5 164V196.2M423 165.6V196.7M423.5 160.6V199M424 160.3V195.3M424.5 162.4V194.2M425 167.9V198.2M425.5 161.6V196.7M426 163.2V193.4M426.5 164.1V196.5M427 163.1V193.9M427.5 165.2V196.4M428 161.7V194.6M428.5 163.2V193.7M429 164.7V192.4M429.5 163.2V194.2M430 164.1V193.4M430.5 167.4V197M431 164.9V192.8M431.5 165.8V190M432 168.4V196.4M432.5 166.3V188.5M433 164.3V195.6M433.5 166.3V190.8M434 162.4V195.1M434.5 161.8V192.1M435 165.6V193.6M435.5 163.9V192.6M436 161.2V192.3M436.5 165.6V193.6M437 166.7V191.3M437.5 165.8V193.5M438 167.6V190.5M438.5 167.5V191.2M439 164.5V191.6M439.5 165.7V192.4M440 164.4V195M440.5 163.8V191.1M441 165.9V191.4M441.5 164.4V191.2M442 164.2V193M442.5 164.7V195.5M443 164.7V193M443.5 161.8V194.4M444 162.4V194M444.5 160.9V196M445 158.9V191.3M445.5 158.5V198M446 163.4V199.3M446.5 162.4V195.1M447 160.5V197.5M447.5 159.1V195.6M448 156.5V201.2M448.5 161.4V200.6M449 159.7V207.3M449.5 157.8V198.4M450 155.1V196.4M450.5 154.8V197.5M451 161.6V195.3M451.5 159.4V199.3M452 161.1V199.5M452.5 156.6V201.1M453 157.8V199.6M453.5 160.1V197.3M454 160.8V201.9M454.5 158.4V199.9M455 156.6V200.5M455.5 161.5V195M456 160.3V195.8M456.5 159.2V196.3M457 159.6V196.9M457.5 158.7V192.1M458 162.1V201.4M458.5 160.9V197.7M459 164.9V200.7M459.5 158.9V200.7M460 155.9V202.9M460.5 164.5V200.5M461 160.3V200.1M461.5 155.9V197.1M462 158.7V199.7M462.5 163.6V204.6M463 154.6V194.5M463.5 162V197.7M464 153.6V200.8M464.5 159.3V204.9M465 159.5V197M465.5 157.2V199.1M466 157.3V200.9M466.5 155.5V209.7M467 155.9V197.7M467.5 158V199.7M468 153.8V202.2M468.5 155.7V197.9M469 157.1V200.9M469.5 157.6V200.9M470 158.4V198.5M470.5 158.5V200.5M471 156.5V204.3M471.5 157.2V199.6M472 158.5V197.9M472.5 155.9V196.9M473 159.6V199.5M473.5 157.8V201.6M474 156.7V199.1M474.5 162.3V199.3M475 160.3V205.3M475.5 155.4V195.9M476 162.6V194.8M476.5 157.4V198.1M477 163.3V196.6M477.5 159.9V198.3M478 163.8V199.6M478.5 162.9V197.2M479 162.6V195.5M479.5 163.3V197M480 159.9V196.6M480.5 160.6V195M481 160.8V193.6M481.5 162.6V196.1M482 159.8V193.9M482.5 161.4V191.7M483 162.9V195.5M483.5 165.6V193.3M484 161.5V193.5M484.5 161.3V196.4M485 162.3V193.4M485.5 160.5V195.1M486 160.1V193.5M486.5 162.4V192.4M487 160V197.1M487.5 160.2V200.5M488 160V194.7M488.5 161.4V200.2M489 161.4V200.2M489.5 159.6V201.7M490 155.9V195.2M490.5 153.1V196.6M491 160.1V203.1M491.5 161.9V198.5M492 160.1V198.6M492.5 161.5V200.5M493 160.4V200.1M493.5 158.3V196.9M494 161.9V197.7M494.5 157.9V199.9M495 157.5V198.9M495.5 155.6V196.1M496 154.9V201.4M496.5 157.2V200.2M497 153.9V197M497.5 161.3V196.3M498 159.4V200.1M498.5 159.7V191.3M499 159.1V197.8M499.5 157.7V195.9M500 161.2V195.7M500.5 156V199.6M501 157.2V198.1M501.5 159.6V205M502 159.4V196.7M502.5 163.1V198.1M503 166.9V193.6M503.5 160.9V199.6M504 160V195.5M504.5 160.2V197.5M505 163.6V200.2M505.5 162V199.8M506 156.6V198M506.5 159.2V199.9M507 159.5V195.6M507.5 161.9V194.4M508 159.3V192.9M508.5 158.1V197.9M509 159.5V201.2M509.5 162.5V195.5M510 160.9V196.2M510.5 163.8V195.3M511 162.6V197M511.5 160.6V191.5M512 163.4V197.6M512.5 162.8V198M513 159.1V193.8M513.5 162.9V193M514 160.9V193.1M514.5 163.4V196.2M515 165.4V198.1M515.5 163V192.5M516 163.9V191.2M516.5 167.6V194.7M517 165.8V195.1M517.5 164V196.1M518 159.8V193.2M518.5 164.2V196.4M519 162.9V197.3M519.5 161.3V191.3M520 162V194.4M520.5 163.3V196.6M521 158.6V197M521.5 159.3V194.1M522 167.8V191M522.5 159.9V193.8M523 160.8V192.3M523.5 159.6V194.5M524 161.6V198.3M524.5 159.8V194.4M525 157V196.2M525.5 157.5V193.2M526 157.4V198.3M526.5 159.1V194.5M527 159.5V193.5M527.5 159.5V200.4M528 164.3V196.7M528.5 156.4V197.6M529 161.2V191.2M529.5 161V199.3M530 161.5V199.9M530.5 160.7V195.5M531 166.8V195.1M531.5 161.3V194.4M532 164.8V198.3M532.5 164.2V192.1M533 166.2V196.5" stroke="#0a8c0a" stroke-width="0.7000000000000001" fill="none"/>
<line x1="330.2" y1="178.7" x2="533.6" y2="178.7" stroke="#b4c24e" stroke-width="1.6" />
<rect x="330.2" y="127.4" width="203.4" height="102.7" fill="none" stroke="#606060" stroke-width="1"/>
<line x1="364.5" y1="230.1" x2="364.5" y2="228.1" stroke="#606060" stroke-width="0.8" />
<line x1="364.5" y1="127.4" x2="364.5" y2="129.4" stroke="#606060" stroke-width="0.8" />
<line x1="398.5" y1="230.1" x2="398.5" y2="228.1" stroke="#606060" stroke-width="0.8" />
<line x1="398.5" y1="127.4" x2="398.5" y2="129.4" stroke="#606060" stroke-width="0.8" />
<line x1="431.5" y1="230.1" x2="431.5" y2="228.1" stroke="#606060" stroke-width="0.8" />
<line x1="431.5" y1="127.4" x2="431.5" y2="129.4" stroke="#606060" stroke-width="0.8" />
<line x1="465.5" y1="230.1" x2="465.5" y2="228.1" stroke="#606060" stroke-width="0.8" />
<line x1="465.5" y1="127.4" x2="465.5" y2="129.4" stroke="#606060" stroke-width="0.8" />
<line x1="499.5" y1="230.1" x2="499.5" y2="228.1" stroke="#606060" stroke-width="0.8" />
<line x1="499.5" y1="127.4" x2="499.5" y2="129.4" stroke="#606060" stroke-width="0.8" />
<line x1="330.2" y1="144.5" x2="332.2" y2="144.5" stroke="#606060" stroke-width="0.8" />
<line x1="533.6" y1="144.5" x2="531.6" y2="144.5" stroke="#606060" stroke-width="0.8" />
<line x1="330.2" y1="161.5" x2="332.2" y2="161.5" stroke="#606060" stroke-width="0.8" />
<line x1="533.6" y1="161.5" x2="531.6" y2="161.5" stroke="#606060" stroke-width="0.8" />
<line x1="330.2" y1="178.5" x2="332.2" y2="178.5" stroke="#606060" stroke-width="0.8" />
<line x1="533.6" y1="178.5" x2="531.6" y2="178.5" stroke="#606060" stroke-width="0.8" />
<line x1="330.2" y1="195.5" x2="332.2" y2="195.5" stroke="#606060" stroke-width="0.8" />
<line x1="533.6" y1="195.5" x2="531.6" y2="195.5" stroke="#606060" stroke-width="0.8" />
<line x1="330.2" y1="212.5" x2="332.2" y2="212.5" stroke="#606060" stroke-width="0.8" />
<line x1="533.6" y1="212.5" x2="531.6" y2="212.5" stroke="#606060" stroke-width="0.8" />
<text x="325.1" y="131.81" font-size="11" text-anchor="end" fill="#262626" font-family='"Liberation Sans", Arial, sans-serif' >1.5</text>
<text x="325.1" y="148.92" font-size="11" text-anchor="end" fill="#262626" font-family='"Liberation Sans", Arial, sans-serif' >1.0</text>
<text x="325.1" y="166.03" font-size="11" text-anchor="end" fill="#262626" font-family='"Liberation Sans", Arial, sans-serif' >0.5</text>
<text x="325.1" y="183.15" font-size="11" text-anchor="end" fill="#262626" font-family='"Liberation Sans", Arial, sans-serif' >0.0</text>
<text x="325.1" y="200.27" font-size="11" text-anchor="end" fill="#262626" font-family='"Liberation Sans", Arial, sans-serif' >-0.5</text>
<text x="325.1" y="217.38" font-size="11" text-anchor="end" fill="#262626" font-family='"Liberation Sans", Arial, sans-serif' >-1.0</text>
<text x="325.1" y="234.5" font-size="11" text-anchor="end" fill="#262626" font-family='"Liberation Sans", Arial, sans-serif' >-1.5</text>
<line x1="364.5" y1="250.6" x2="364.5" y2="353.3" stroke="#e3e3e3" stroke-width="0.8" />
<line x1="398.5" y1="250.6" x2="398.5" y2="353.3" stroke="#e3e3e3" stroke-width="0.8" />
<line x1="431.5" y1="250.6" x2="431.5" y2="353.3" stroke="#e3e3e3" stroke-width="0.8" />
<line x1="465.5" y1="250.6" x2="465.5" y2="353.3" stroke="#e3e3e3" stroke-width="0.8" />
<line x1="499.5" y1="250.6" x2="499.5" y2="353.3" stroke="#e3e3e3" stroke-width="0.8" />
<line x1="330.2" y1="267.5" x2="533.6" y2="267.5" stroke="#e3e3e3" stroke-width="0.8" />
<line x1="330.2" y1="284.5" x2="533.6" y2="284.5" stroke="#e3e3e3" stroke-width="0.8" />
<line x1="330.2" y1="301.5" x2="533.6" y2="301.5" stroke="#e3e3e3" stroke-width="0.8" />
<line x1="330.2" y1="319.5" x2="533.6" y2="319.5" stroke="#e3e3e3" stroke-width="0.8" />
<line x1="330.2" y1="336.5" x2="533.6" y2="336.5" stroke="#e3e3e3" stroke-width="0.8" />
<path d="M330.5 274.8V320.8M331 283.3V320.5M331.5 281.2V323.5M332 267.3V327M332.5 285.5V320.5M333 279.5V323.1M333.5 279.8V325.5M334 282.4V328M334.5 280.5V322.4M335 283.9V324.2M335.5 278.5V324.8M336 257.4V321.7M336.5 284.8V323.3M337 283.3V320.3M337.5 282.5V318.9M338 284.5V319.5M338.5 282.3V323.5M339 285.6V326.4M339.5 281.5V330.9M340 283.5V318.2M340.5 282.7V324.3M341 281.3V321.5M341.5 279.9V325.4M342 278V322.1M342.5 279.9V319.1M343 279.5V321.5M343.5 281.9V320.6M344 277.4V326.6M344.5 283.3V316.8M345 282.6V325.4M345.5 279.9V322.2M346 282.6V317.7M346.5 276.8V324.5M347 279.9V341.1M347.5 270.4V325.8M348 271.4V325.7M348.5 283.2V323.1M349 277.1V330.6M349.5 283.6V324.3M350 278V323.2M350.5 282.1V323.6M351 280.3V323.2M351.5 278V324.2M352 281.3V321.1M352.5 284.3V322.4M353 282.4V321.1M353.5 274.1V326.6M354 281V323.3M354.5 277.4V320.5M355 281.4V326M355.5 281V327.2M356 282.4V323.5M356.5 284.7V322.1M357 281V320.1M357.5 277.3V346.5M358 287.7V320.6M358.5 283V322.6M359 281V320.7M359.5 279V322.1M360 286.9V321.6M360.5 283.7V321.4M361 282.9V316.8M361.5 282.7V317M362 286.2V317M362.5 283.8V319.1M363 286V321.4M363.5 285.4V316.7M364 286.7V321.5M364.5 284.7V318.3M365 273.3V321.7M365.5 283.9V324.3M366 284.4V322.2M366.5 281.7V320.9M367 279.5V321.7M367.5 283.3V324M368 284.6V320.6M368.5 283V319.7M369 283.4V322.5M369.5 286V326.5M370 281.2V320.9M370.5 282.2V326.1M371 270V327.1M371.5 280.6V323.3M372 257.4V325M372.5 277.3V320M373 281V321.3M373.5 280.6V324.8M374 281.3V326.3M374.5 281.3V322.3M375 267.4V322.3M375.5 281.8V321.6M376 281.6V330.1M376.5 282.8V319.7M377 277V319.3M377.5 281.9V325.9M378 281.5V338.3M378.5 283.6V325.3M379 280.8V320.4M379.5 269.3V325M380 283.5V325.7M380.5 287.1V320.9M381 286.3V327.9M381.5 281.5V319.5M382 280V324.3M382.5 286.1V321.4M383 281.3V319.8M383.5 264.5V326.3M384 273.6V327M384.5 284V322.4M385 283.1V321.5M385.5 284V325.3M386 261.6V321.1M386.5 278.2V320.7M387 281.6V322.4M387.5 276.7V324.5M388 275V322.2M388.5 281.9V321.6M389 279V320.7M389.5 280.9V335.4M390 282V321.9M390.5 273V329.4M391 276.7V319M391.5 283.4V327.2M392 279.8V324.6M392.5 277V322M393 281.9V321.3M393.5 277.7V326.5M394 281.5V329.9M394.5 277.5V328.5M395 257.4V327.6M395.5 275.5V324.3M396 279.1V327.8M396.5 282.5V320.9M397 267.4V325.5M397.5 278.5V330.8M398 273.8V327.8M398.5 275.4V326.7M399 286V329.9M399.5 284.1V324.6M400 278.2V323M400.5 280.8V327.1M401 285.4V326.6M401.5 280.6V326.4M402 275.5V317.6M402.5 277.6V328.2M403 276V326.7M403.5 279.1V329.7M404 277.3V322.2M404.5 280.8V317.6M405 272.2V319.8M405.5 273.1V320.7M406 275.4V328.3M406.5 277.2V320.7M407 280V321.5M407.5 279.3V324.9M408 281.7V324.4M408.5 284.4V324.4M409 279.7V320.6M409.5 274.3V326.2M410 280.6V322.4M410.5 282V319.1M411 282.7V322M411.5 263.4V317.4M412 257.4V317.6M412.5 286.9V318.8M413 282.6V317.5M413.5 286V318.9M414 282.2V318.3M414.5 257.4V318.6M415 281.3V327.3M415.5 280.9V322M416 280.9V317.3M416.5 281.7V318.4M417 284.9V317.6M417.5 284.9V318.4M418 285.8V322.9M418.5 282V324.7M419 280.1V319.3M419.5 286.4V321.9M420 278.3V330.2M420.5 285.1V317.1M421 286.5V324.5M421.5 282.9V319.3M422 281.1V317.4M422.5 284.4V320.6M423 285.9V324.2M423.5 262.3V320.9M424 285.8V323.2M424.5 280.6V324.1M425 282.4V316.5M425.5 283.4V339.9M426 282.1V318.4M426.5 273.7V326.6M427 284.6V322.7M427.5 280.7V324M428 284V328.5M428.5 270.7V325.7M429 276.9V318.8M429.5 265.9V318.5M430 274.2V320.3M430.5 277.6V329.8M431 280.5V325M431.5 279.3V326.9M432 281.6V325.7M432.5 287.8V327.6M433 279.6V320.9M433.5 279.9V320.1M434 278.2V321.2M434.5 284.4V324.8M435 278.6V319.9M435.5 283.3V316M436 285.4V320.3M436.5 283.3V323M437 280.7V321.9M437.5 283.4V319.8M438 282.7V319M438.5 286.1V315M439 277.6V319.4M439.5 281V323.3M440 287V317.7M440.5 284.4V322M441 288V316.1M441.5 284.3V318.1M442 287.9V318.1M442.5 283.4V319.4M443 284.1V315.6M443.5 275.8V322.6M444 282.8V319.3M444.5 285.7V320.7M445 282.9V322.1M445.5 275.7V321.1M446 281.3V317.9M446.5 283.8V321M447 265.9V323.6M447.5 280.7V324.9M448 280.2V322.9M448.5 283.9V320.5M449 257.4V324.9M449.5 283.3V325.9M450 276.4V328.4M450.5 283.7V324.3M451 277.9V324.9M451.5 277.8V325.3M452 282.7V322.1M452.5 281.6V318.1M453 277.6V321.3M453.5 281.7V322.2M454 275.3V323.3M454.5 282.6V322.6M455 280.8V320.6M455.5 281.3V321M456 257.4V321.7M456.5 280.3V319.9M457 257.4V320M457.5 281.3V317.5M458 264V326M458.5 281.7V321.7M459 282V319.5M459.5 283.9V320.3M460 286.4V320.9M460.5 284.5V317.7M461 282V318.6M461.5 269.7V317.8M462 280.9V320.9M462.5 287.1V316.9M463 287.3V319.5M463.5 282.9V314.5M464 276.5V323M464.5 286.6V320.1M465 266.9V316.9M465.5 281.4V318.4M466 283.7V322.7M466.5 287.2V319M467 281.3V315.6M467.5 284.6V319.1M468 281V318.3M468.5 269.6V320.8M469 280.8V320.3M469.5 279.6V316.3M470 284.5V320.9M470.5 280.2V323M471 280.7V324.3M471.5 275.2V321.9M472 278.1V326M472.5 279.9V325.2M473 282.9V323.7M473.5 282.3V326.5M474 283.1V318.7M474.5 277.3V325.6M475 283V326.2M475.5 277.3V322.2M476 278V346.5M476.5 284.2V320.8M477 282.8V322.2M477.5 277.9V322.2M478 282.2V319.9M478.5 279.3V322.2M479 285V318.1M479.5 279.5V322.5M480 278.6V332.7M480.5 259.1V328.1M481 278.4V335.6M481.5 283.2V327.8M482 284.9V324.3M482.5 283.9V319.7M483 278.1V324M483.5 279.5V322.8M484 278.7V329M484.5 282.5V324.3M485 279.1V320.6M485.5 285.3V321.2M486 280.5V324.7M486.5 276.8V330.8M487 283V322.7M487.5 280.5V321.4M488 279.5V323.1M488.5 282.8V323M489 283.5V319.1M489.5 267.7V323.6M490 280.6V319.1M490.5 284.8V330.3M491 282.7V319.6M491.5 283.9V323.9M492 281.2V330.8M492.5 282.3V321.6M493 282.3V320.7M493.5 283V320.1M494 284.5V323.7M494.5 280.6V320.4M495 282.2V321.9M495.5 287.8V316.9M496 283.9V321.9M496.5 282.4V327.3M497 278.4V318.4M497.5 285.1V321.9M498 284.4V319.3M498.5 282V321.2M499 285.1V323M499.5 268V321.8M500 279.4V320.4M500.5 280.2V316.4M501 279.9V320.7M501.5 282.7V321.3M502 279.1V324.6M502.5 274.5V319.9M503 279.5V321.6M503.5 284.5V322.5M504 278.2V328.4M504.5 282.8V335.9M505 281.1V337.4M505.5 278.2V322.3M506 280.9V334.9M506.5 276.3V319.2M507 281V320.4M507.5 277.5V332.7M508 277.3V321.9M508.5 276.9V320.6M509 282.4V323.5M509.5 282V326.1M510 279.5V324.9M510.5 279.6V324.2M511 283.6V324.3M511.5 283.8V323.5M512 280.6V320.3M512.5 279.9V318.4M513 282.6V323.8M513.5 285.9V320.3M514 279.7V324.7M514.5 283.6V319M515 282.9V320.9M515.5 289V322.5M516 286V318.4M516.5 285.1V319.3M517 281.1V319.1M517.5 286.7V320.5M518 288V325.3M518.5 288.2V319.2M519 285.4V317.9M519.5 283.9V319.4M520 284V333.3M520.5 288.3V321M521 286V319.2M521.5 284.6V323.2M522 282.1V318.1M522.5 283V317.3M523 283.6V321.8M523.5 287.9V321.2M524 281.6V316.7M524.5 284.2V325.8M525 283.5V319.6M525.5 285.3V322.7M526 279.6V319.5M526.5 284.1V322.3M527 284V323.6M527.5 284.9V320M528 280.8V322.3M528.5 280V323.9M529 283.3V327.2M529.5 271.6V324.8M530 283.6V326.2M530.5 275.7V324.4M531 277.1V325M531.5 281V324.9M532 275.4V323.1M532.5 279.5V318.8M533 282.9V319.4" stroke="#92c45e" stroke-width="0.55" fill="none"/>
<path d="M330.5 280.7V334M331 283.3V330.3M331.5 281.2V323.5M332 257.4V334.3M332.5 284.9V340.5M333 277.1V325.9M333.5 279.8V346.5M334 282.4V335.6M334.5 277.5V322.4M335 268.1V333M335.5 268.9V346.5M336 266.1V321.7M336.5 278.6V322.7M337 276.7V336.8M337.5 273.8V329.3M338 284.5V319.5M338.5 274.7V329.2M339 285.6V325.9M339.5 276.8V322.4M340 283.5V330.6M340.5 282.7V339.5M341 280.9V332.9M341.5 279.9V325.4M342 284.6V333.9M342.5 263.9V319.1M343 279.1V330.4M343.5 281.9V332M344 277V333.8M344.5 282.7V318.9M345 264V321.3M345.5 274.4V323.9M346 282.6V321.8M346.5 276.5V325M347 271.3V326.4M347.5 269.7V325.8M348 279.6V328M348.5 271.4V336.6M349 277.1V325.8M349.5 257.4V322M350 278V343.4M350.5 283.1V338.6M351 277.5V327.2M351.5 265.5V324.5M352 281.3V324.7M352.5 274.5V328.4M353 259.6V346.5M353.5 273.4V322.7M354 278.9V323.5M354.5 278.9V327.4M355 276.6V346.5M355.5 281V331.8M356 282.4V325.1M356.5 277.3V322.1M357 277.6V322.3M357.5 281.9V321M358 287.6V326.5M358.5 278.9V335.4M359 281V321.4M359.5 279V327.9M360 286.9V321.6M360.5 279.2V320M361 282.9V319.1M361.5 282.7V337.9M362 286.2V322M362.5 283.8V323.3M363 286V324M363.5 285.4V316.7M364 281.4V340.9M364.5 276.1V321.1M365 283.7V333M365.5 277.9V326M366 282V322.4M366.5 266.6V324.3M367 262.6V326.7M367.5 275.1V324M368 279.7V322.6M368.5 276.1V322.4M369 283.4V324.4M369.5 273.3V326.5M370 272.9V326.7M370.5 282.2V326.1M371 260.8V330.6M371.5 261.9V332.5M372 277.2V327.7M372.5 271.5V324.7M373 268.9V323.1M373.5 268.2V325.4M374 281.3V326.3M374.5 281.3V322.3M375 277.9V325.4M375.5 279.3V336.2M376 281.5V335.8M376.5 280.6V320.4M377 272.7V321.8M377.5 281.9V328.8M378 280V320M378.5 282.3V325.8M379 274.5V324.3M379.5 283.6V327.9M380 279.3V334.5M380.5 287.1V322.2M381 286.3V331.3M381.5 266.6V321.4M382 276.9V326.8M382.5 286.1V334.4M383 268.1V326.9M383.5 279.3V323.8M384 271.7V329.9M384.5 267.1V346.5M385 279.5V322.9M385.5 276.9V330.2M386 275.3V327M386.5 276.7V331M387 273.7V330.6M387.5 276.7V324.5M388 271.5V331.8M388.5 281.9V321.6M389 279V320.7M389.5 279.2V321.7M390 267.1V325.5M390.5 280.9V334.1M391 280.5V328.8M391.5 273.9V328M392 273.7V329.2M392.5 276.9V322.5M393 257.4V332.5M393.5 275.8V326.5M394 273.5V339.8M394.5 268.7V328.5M395 275V325.5M395.5 275.5V325.1M396 275.7V335.5M396.5 272.5V320.9M397 273.4V324.1M397.5 278.5V330.8M398 257.4V328.8M398.5 272V326.7M399 282.5V330.7M399.5 277.8V337.3M400 268.9V326.6M400.5 280.8V329.3M401 281.7V326.6M401.5 280.6V338.1M402 271.9V323.7M402.5 277.6V331.4M403 282.2V340.2M403.5 279.1V340.2M404 271.3V326.5M404.5 279.7V329M405 268.1V324.9M405.5 282.7V321M406 273.7V343.2M406.5 277.2V323.7M407 279.6V324.8M407.5 275.5V324.9M408 272.8V326.2M408.5 284.4V325.6M409 279.7V320.6M409.5 279.2V326.2M410 279.9V323.6M410.5 277.4V329.9M411 270.1V322M411.5 285.4V318.9M412 279.2V317.6M412.5 285.7V318.8M413 282.2V317.5M413.5 285.8V321M414 280.8V318.7M414.5 276.8V318.6M415 275.3V322.4M415.5 259.9V323.9M416 276.4V328.6M416.5 281.7V339.2M417 267.7V322.2M417.5 284.9V319.6M418 285.8V324.2M418.5 283.3V329.1M419 278.9V320.7M419.5 286.4V321.9M420 273.1V319.7M420.5 282.7V317.1M421 273.5V319M421.5 282.9V318.6M422 273.1V321.3M422.5 278.2V320.9M423 283.5V324.2M423.5 279.3V320.9M424 285.5V336.9M424.5 272.6V324.1M425 279.5V324.1M425.5 277.6V331.7M426 282.1V318.4M426.5 280.3V331.8M427 279.6V322.8M427.5 274.1V324M428 284V330.9M428.5 283.1V332.7M429 267.8V321.8M429.5 271.5V324.5M430 276.8V321.9M430.5 277.6V330.1M431 279.6V325M431.5 270.1V327.8M432 274.4V336.7M432.5 282.2V331.4M433 278.6V321.4M433.5 279.9V319.3M434 268.8V329.3M434.5 283.1V324.8M435 270.2V319.7M435.5 264.6V316M436 282.4V322.7M436.5 282.8V323M437 279.1V327.8M437.5 265.7V335.3M438 282.7V327.9M438.5 280.1V320.5M439 283.3V322.9M439.5 279.1V346.5M440 287V322.4M440.5 281.2V335.6M441 286V319M441.5 284.3V320.9M442 287.9V318.4M442.5 279.1V323.3M443 279.4V315.6M443.5 284V327.3M444 267.2V336.6M444.5 285.7V316.1M445 277.5V322.1M445.5 285.1V321.1M446 278.6V317.9M446.5 283.3V327M447 276.3V323.6M447.5 271.9V324M448 280.2V323.3M448.5 278.3V322.2M449 286.7V323.3M449.5 278.9V328M450 266.6V332.7M450.5 268.8V330.8M451 274.9V327.2M451.5 273.5V336M452 280.9V335.9M452.5 263.5V318.1M453 277.6V340.4M453.5 276.5V322.2M454 275.4V338.2M454.5 281.2V334M455 279.9V325.5M455.5 270.9V321M456 277.7V326.1M456.5 280.3V332.3M457 257.4V320M457.5 279.8V319.3M458 272.6V320.8M458.5 270.8V321.7M459 278.6V319.5M459.5 274.8V320.3M460 286.4V321.3M460.5 284.2V317.7M461 278.2V320.7M461.5 285.2V318.7M462 272.9V322.7M462.5 286.5V320M463 276.3V320.2M463.5 273.8V318.3M464 277.6V326.4M464.5 285.7V336.3M465 281.8V316.9M465.5 257.4V335.9M466 283.7V337.2M466.5 263.4V325.7M467 277.8V315.6M467.5 257.4V338.1M468 270.8V318.3M468.5 282.4V322.7M469 280.8V320.3M469.5 278.4V317.1M470 284.5V328.8M470.5 280.2V325.9M471 279.2V325.6M471.5 270.1V324.6M472 268.7V346.5M472.5 279.9V325.5M473 280.5V326.3M473.5 280.7V326M474 283.1V321.8M474.5 257.4V331.6M475 279.5V329.8M475.5 277.3V322.5M476 277.5V324.9M476.5 272.9V333.3M477 272.8V322.2M477.5 257.4V333.4M478 269.1V320.8M478.5 262V322.2M479 282.5V318.1M479.5 264.6V323.8M480 261.2V330.3M480.5 279.3V328.1M481 277.7V323M481.5 276.5V333.3M482 274.5V324.3M482.5 275.4V326M483 277.7V321.4M483.5 275.2V337.7M484 264.4V341.8M484.5 278.9V324.3M485 279.1V324.2M485.5 269.8V334.7M486 280.5V324.7M486.5 283.3V329.7M487 263.5V322.7M487.5 273.5V329.2M488 280.1V324.1M488.5 282.8V326M489 283.5V319.1M489.5 277.3V331.6M490 275.3V319.1M490.5 275.1V321.3M491 282.7V322.1M491.5 283.9V326.5M492 277V321.3M492.5 281.6V325.5M493 281.6V334.5M493.5 281.4V320.1M494 282.8V330.8M494.5 267.6V320.4M495 279.3V324.6M495.5 281.3V346.5M496 274.6V327.4M496.5 279.4V324.5M497 272.9V321.5M497.5 285.1V321.9M498 284V321.6M498.5 266.9V334.2M499 281.1V338.7M499.5 281.9V322.4M500 278.6V321.9M500.5 280.2V316.4M501 276.3V322.5M501.5 282V331.7M502 279.1V328.1M502.5 281.8V325.2M503 267V325.1M503.5 279.5V322.5M504 275.2V325.3M504.5 282.5V319.2M505 261.9V333.3M505.5 278.2V329.3M506 275V330.2M506.5 277.7V339.5M507 273.2V331.4M507.5 260V325.4M508 275.3V322.6M508.5 265.5V321M509 275.3V326.4M509.5 282V326.1M510 269.9V333.9M510.5 278.3V325.6M511 280.7V346.5M511.5 272.5V329.2M512 280.6V333.4M512.5 278.1V318.4M513 280.8V343.7M513.5 285.9V323.2M514 274.3V322.9M514.5 257.4V319M515 273.7V321M515.5 289V322.5M516 264.3V320.1M516.5 281.9V327.3M517 283V319.1M517.5 273.7V320.5M518 288V325.9M518.5 281V319.2M519 277.7V323.6M519.5 283.9V319.4M520 284V321.2M520.5 288.3V321M521 280V319.2M521.5 284.6V324.4M522 282.1V326.9M522.5 276.7V317.3M523 278.5V346.5M523.5 285V339.2M524 279.8V329.7M524.5 284.2V328.2M525 270.4V319.6M525.5 281.2V322.7M526 274.2V320.2M526.5 284.1V324.2M527 284V323.6M527.5 281.2V321.1M528 280.8V322.7M528.5 274.8V328.5M529 271.3V346.5M529.5 273.6V324.9M530 279.6V328.7M530.5 282V328.2M531 266.5V332.1M531.5 281V337.1M532 275.4V324.7M532.5 279V318.8M533 279.1V326.9" stroke="#7cb236" stroke-width="0.55" fill="none"/>
<path d="M330.5 280.7V320.8M331 284.9V320.5M331.5 281.2V323.5M332 276.3V327M332.5 285.5V320.5M333 279.5V323.1M333.5 279.8V325.5M334 282.4V328M334.5 280.5V322.4M335 283.9V324.2M335.5 278.5V324.8M336 278.2V321.7M336.5 284.8V322.7M337 283.3V320.3M337.5 282.5V318.9M338 284.5V319.5M338.5 282.3V323.5M339 285.6V324M339.5 281.5V321.6M340 283.5V318.2M340.5 282.7V324.3M341 281.3V321.5M341.5 279.9V325.4M342 284.6V322.1M342.5 279.9V319.1M343 279.5V321.5M343.5 281.9V320.6M344 277.4V326.6M344.5 283.3V316.8M345 282.6V321.3M345.5 279.9V322.2M346 282.6V317.7M346.5 276.8V324.5M347 279.9V325.2M347.5 275.8V325.8M348 283.4V325.7M348.5 283.2V323.1M349 277.1V325.8M349.5 283.6V322M350 278V323.2M350.5 283.1V323.6M351 280.3V323.2M351.5 278V324.2M352 281.3V321.1M352.5 284.3V322.4M353 282.6V321.1M353.5 278.4V322.7M354 281V323.3M354.5 279.7V320.5M355 281.4V326M355.5 281V327.2M356 282.4V323.5M356.5 284.7V322.1M357 281V320.1M357.5 282.1V321M358 287.7V320.6M358.5 283V322.6M359 281V320.7M359.5 279V322.1M360 286.9V321.6M360.5 283.7V318.9M361 282.9V316.8M361.5 282.7V317M362 286.2V317M362.5 283.8V319.1M363 286V321.4M363.5 285.4V316.7M364 286.7V319.8M364.5 284.7V318.3M365 285.8V321.7M365.5 283.9V324.3M366 284.4V322.2M366.5 281.7V320.9M367 279.5V321.7M367.5 283.3V324M368 284.6V320.6M368.5 283V319.7M369 283.4V322.5M369.5 286V326.5M370 281.2V320.9M370.5 282.2V326.1M371 278.1V325.9M371.5 280.6V323.3M372 277.2V322.1M372.5 277.3V320M373 281V321.3M373.5 280.6V324.8M374 281.3V326.3M374.5 281.3V322.3M375 277.9V322.3M375.5 281.8V321.6M376 281.6V330.1M376.5 282.8V319.7M377 277V319.3M377.5 281.9V325.9M378 281.5V320M378.5 283.6V325.3M379 280.8V320.4M379.5 283.6V325M380 283.5V325.7M380.5 287.1V320.9M381 286.3V321.8M381.5 281.5V319.5M382 280V324.3M382.5 286.1V321.4M383 281.3V319.8M383.5 281.1V323.5M384 273.6V323.4M384.5 284V322.4M385 283.1V321.5M385.5 284V325.3M386 278.9V321.1M386.5 278.2V320.7M387 281.6V322.4M387.5 276.7V324.5M388 275V322.2M388.5 281.9V321.6M389 279V320.7M389.5 280.9V321.4M390 282V321.9M390.5 281.4V329.4M391 280.5V319M391.5 283.4V322.9M392 279.8V324.6M392.5 277V322M393 281.9V321.3M393.5 280.5V326.5M394 281.5V329.1M394.5 277.5V328.5M395 278.8V325.5M395.5 275.5V324.3M396 279.1V327.8M396.5 282.5V320.9M397 276V323.5M397.5 278.5V330.8M398 273.8V327.8M398.5 275.4V326.7M399 286V325.4M399.5 284.1V324.6M400 278.2V323M400.5 280.8V327.1M401 285.4V326.6M401.5 280.6V326.4M402 275.5V317.6M402.5 277.6V328.2M403 282.2V326.7M403.5 279.1V328.4M404 277.3V322.2M404.5 280.8V317.6M405 275.7V319.8M405.5 282.7V320.7M406 275.4V328.3M406.5 277.2V320.7M407 280V321.3M407.5 281V324.9M408 281.7V324.4M408.5 284.4V324.4M409 279.7V320.6M409.5 279.2V326.2M410 280.6V322.4M410.5 282V319.1M411 282.7V322M411.5 285.4V317.4M412 284.9V317.6M412.5 286.9V318.8M413 282.6V317.5M413.5 286V318.9M414 282.2V318.3M414.5 285.8V318.6M415 281.3V317.5M415.5 280.9V322M416 280.9V317.3M416.5 281.7V318.4M417 284.9V317.6M417.5 284.9V318.4M418 285.8V316.9M418.5 283.3V324.7M419 280.1V319.3M419.5 286.4V321.9M420 278.3V319.2M420.5 285.1V317.1M421 286.5V319M421.5 282.9V318.6M422 281.1V317.4M422.5 284.4V320.6M423 285.9V324.2M423.5 279.3V320.9M424 285.8V323.2M424.5 280.6V324.1M425 282.4V316.5M425.5 283.4V326.2M426 282.1V318.4M426.5 284.8V326.6M427 284.6V322.7M427.5 280.7V324M428 284V328.5M428.5 283.1V325.7M429 276.9V318.8M429.5 275.6V318.5M430 277.3V320.3M430.5 277.6V326.7M431 280.5V325M431.5 279.3V326.9M432 281.6V325.7M432.5 287.8V327.6M433 279.6V320.9M433.5 279.9V318.4M434 278.2V321.2M434.5 284.4V324.8M435 278.6V319.7M435.5 283.3V316M436 285.4V320.3M436.5 283.3V323M437 280.7V321.9M437.5 283.4V319.8M438 282.7V319M438.5 286.1V315M439 283.3V319.4M439.5 282.6V323.3M440 287V317.7M440.5 284.4V322M441 288V316.1M441.5 284.3V318.1M442 287.9V318.1M442.5 283.4V319.4M443 284.1V315.6M443.5 286.4V322.6M444 282.8V319.3M444.5 285.7V315.2M445 282.9V322.1M445.5 285.1V321.1M446 281.3V317.9M446.5 283.8V321M447 278.5V323.6M447.5 280.7V323.5M448 280.2V322.9M448.5 284.9V320.5M449 286.7V323.3M449.5 283.3V325.9M450 276.4V328.4M450.5 283.7V324.3M451 277.9V324.9M451.5 277.8V325.3M452 282.7V322.1M452.5 281.6V318.1M453 277.6V321.3M453.5 281.7V322.2M454 282.1V323.3M454.5 282.6V322.6M455 280.8V320.6M455.5 281.3V321M456 277.7V321.7M456.5 280.3V319.9M457 277.8V320M457.5 281.3V317.5M458 274.6V320.8M458.5 281.7V321.7M459 282V319.5M459.5 283.9V320.3M460 286.4V320.9M460.5 284.5V317.7M461 282V318.6M461.5 285.2V317.8M462 280.9V320.9M462.5 287.1V316.9M463 287.3V319.5M463.5 282.9V314.5M464 282.9V323M464.5 286.6V320.1M465 281.8V316.9M465.5 281.4V318.4M466 283.7V322.7M466.5 287.2V319M467 281.3V315.6M467.5 284.6V319.1M468 284.2V318.3M468.5 282.4V320.8M469 285V320.3M469.5 279.6V316.3M470 284.5V320.9M470.5 280.2V323M471 280.7V324.3M471.5 278.1V321.9M472 281V326M472.5 279.9V325.2M473 282.9V323.7M473.5 282.3V325.9M474 283.1V315.6M474.5 279.4V325.6M475 283V326.2M475.5 277.3V322.2M476 281.5V324.7M476.5 284.2V320.8M477 282.8V322.2M477.5 277.9V322.2M478 282.2V319.9M478.5 279.3V322.2M479 285V318.1M479.5 279.5V322.5M480 278.6V327.5M480.5 279.3V328.1M481 278.4V323M481.5 283.2V327.8M482 284.9V324.3M482.5 283.9V319.7M483 278.1V321.4M483.5 279.5V322.8M484 278.7V322.7M484.5 282.5V324.3M485 279.1V320.6M485.5 285.3V321.2M486 280.5V324.7M486.5 284.4V322.2M487 283V322.7M487.5 280.5V321.4M488 280.1V323.1M488.5 282.8V323M489 283.5V319.1M489.5 279.6V323.6M490 280.6V319.1M490.5 284.8V321.3M491 282.7V319.6M491.5 283.9V321.8M492 281.2V320.9M492.5 282.3V321.6M493 282.3V320.7M493.5 283V320.1M494 284.5V320.9M494.5 280.6V320.4M495 282.2V318.5M495.5 288.5V316.9M496 283.9V321.9M496.5 282.4V323.7M497 284.7V318.4M497.5 285.1V321.9M498 284.4V319.3M498.5 282V321.2M499 285.1V323M499.5 281.9V321.8M500 279.4V320.4M500.5 280.2V316.4M501 279.9V320.7M501.5 282.7V321.3M502 279.1V324.6M502.5 281.8V319.9M503 279.5V321.6M503.5 284.5V322.5M504 278.2V325.3M504.5 282.8V319.2M505 281.1V324.6M505.5 278.2V322.3M506 280.9V320.9M506.5 282V319.2M507 281V320.4M507.5 277.5V325.4M508 277.3V321.9M508.5 278.6V320.6M509 282.4V321.8M509.5 282V326.1M510 279.5V324.9M510.5 279.6V324.2M511 283.6V324.3M511.5 283.8V323.5M512 280.6V320.3M512.5 279.9V318.4M513 282.6V323.8M513.5 285.9V320.3M514 279.7V320.6M514.5 283.6V319M515 282.9V320.9M515.5 289V322.5M516 286V318.4M516.5 285.1V319.3M517 284.1V319.1M517.5 286.7V320.5M518 288V319.1M518.5 288.2V319.2M519 285.4V317.9M519.5 283.9V319.4M520 284V317.7M520.5 288.3V321M521 286V319.2M521.5 284.6V323.2M522 282.1V318.1M522.5 283V317.3M523 283.6V321.8M523.5 287.9V321.2M524 281.6V316.7M524.5 284.2V325.8M525 283.5V319.6M525.5 285.3V322.7M526 284V319.5M526.5 284.1V322.3M527 284V323.6M527.5 284.9V320M528 280.8V322.3M528.5 280V323.9M529 283.3V327.2M529.5 283.8V324.8M530 283.6V326.2M530.5 282V324.4M531 277.1V325M531.5 281V324.9M532 275.4V323.1M532.5 283.6V318.8M533 282.9V319.4" stroke="#79af33" stroke-width="0.7000000000000001" fill="none"/>
<rect x="330.2" y="250.6" width="203.4" height="102.7" fill="none" stroke="#606060" stroke-width="1"/>
<line x1="364.5" y1="353.3" x2="364.5" y2="351.3" stroke="#606060" stroke-width="0.8" />
<line x1="364.5" y1="250.6" x2="364.5" y2="252.6" stroke="#606060" stroke-width="0.8" />
<line x1="398.5" y1="353.3" x2="398.5" y2="351.3" stroke="#606060" stroke-width="0.8" />
<line x1="398.5" y1="250.6" x2="398.5" y2="252.6" stroke="#606060" stroke-width="0.8" />
<line x1="431.5" y1="353.3" x2="431.5" y2="351.3" stroke="#606060" stroke-width="0.8" />
<line x1="431.5" y1="250.6" x2="431.5" y2="252.6" stroke="#606060" stroke-width="0.8" />
<line x1="465.5" y1="353.3" x2="465.5" y2="351.3" stroke="#606060" stroke-width="0.8" />
<line x1="465.5" y1="250.6" x2="465.5" y2="252.6" stroke="#606060" stroke-width="0.8" />
<line x1="499.5" y1="353.3" x2="499.5" y2="351.3" stroke="#606060" stroke-width="0.8" />
<line x1="499.5" y1="250.6" x2="499.5" y2="252.6" stroke="#606060" stroke-width="0.8" />
<line x1="330.2" y1="267.5" x2="332.2" y2="267.5" stroke="#606060" stroke-width="0.8" />
<line x1="533.6" y1="267.5" x2="531.6" y2="267.5" stroke="#606060" stroke-width="0.8" />
<line x1="330.2" y1="284.5" x2="332.2" y2="284.5" stroke="#606060" stroke-width="0.8" />
<line x1="533.6" y1="284.5" x2="531.6" y2="284.5" stroke="#606060" stroke-width="0.8" />
<line x1="330.2" y1="301.5" x2="332.2" y2="301.5" stroke="#606060" stroke-width="0.8" />
<line x1="533.6" y1="301.5" x2="531.6" y2="301.5" stroke="#606060" stroke-width="0.8" />
<line x1="330.2" y1="319.5" x2="332.2" y2="319.5" stroke="#606060" stroke-width="0.8" />
<line x1="533.6" y1="319.5" x2="531.6" y2="319.5" stroke="#606060" stroke-width="0.8" />
<line x1="330.2" y1="336.5" x2="332.2" y2="336.5" stroke="#606060" stroke-width="0.8" />
<line x1="533.6" y1="336.5" x2="531.6" y2="336.5" stroke="#606060" stroke-width="0.8" />
<text x="325.1" y="254.99" font-size="11" text-anchor="end" fill="#262626" font-family='"Liberation Sans", Arial, sans-serif' >60</text>
<text x="325.1" y="272.11" font-size="11" text-anchor="end" fill="#262626" font-family='"Liberation Sans", Arial, sans-serif' >40</text>
<text x="325.1" y="289.23" font-size="11" text-anchor="end" fill="#262626" font-family='"Liberation Sans", Arial, sans-serif' >20</text>
<text x="325.1" y="306.35" font-size="11" text-anchor="end" fill="#262626" font-family='"Liberation Sans", Arial, sans-serif' >0</text>
<text x="325.1" y="323.47" font-size="11" text-anchor="end" fill="#262626" font-family='"Liberation Sans", Arial, sans-serif' >-20</text>
<text x="325.1" y="340.59" font-size="11" text-anchor="end" fill="#262626" font-family='"Liberation Sans", Arial, sans-serif' >-40</text>
<text x="325.1" y="357.71" font-size="11" text-anchor="end" fill="#262626" font-family='"Liberation Sans", Arial, sans-serif' >-60</text>
<text x="330.2" y="368.9" font-size="11" text-anchor="middle" fill="#262626" font-family='"Liberation Sans", Arial, sans-serif' >0</text>
<text x="364.1" y="368.9" font-size="11" text-anchor="middle" fill="#262626" font-family='"Liberation Sans", Arial, sans-serif' >600</text>
<text x="398" y="368.9" font-size="11" text-anchor="middle" fill="#262626" font-family='"Liberation Sans", Arial, sans-serif' >1200</text>
<text x="431.9" y="368.9" font-size="11" text-anchor="middle" fill="#262626" font-family='"Liberation Sans", Arial, sans-serif' >1800</text>
<text x="465.8" y="368.9" font-size="11" text-anchor="middle" fill="#262626" font-family='"Liberation Sans", Arial, sans-serif' >2400</text>
<text x="499.7" y="368.9" font-size="11" text-anchor="middle" fill="#262626" font-family='"Liberation Sans", Arial, sans-serif' >3000</text>
<text x="533.6" y="368.9" font-size="11" text-anchor="middle" fill="#262626" font-family='"Liberation Sans", Arial, sans-serif' >3600</text>
<text x="407.2" y="392.5" font-size="11.5" text-anchor="start" fill="#262626" font-family='"Liberation Sans", Arial, sans-serif' textLength="47.6" lengthAdjust="spacingAndGlyphs" >Time in s</text>
<text x="423.2" y="408.9" font-size="11.5" text-anchor="start" fill="#262626" font-family='"Liberation Sans", Arial, sans-serif' textLength="13.6" lengthAdjust="spacingAndGlyphs" >(c)</text>
<text transform="rotate(-90)" x="-92.7" y="299.9" font-size="11.5" fill="#262626" font-family='"Liberation Sans", Arial, sans-serif' font-style="italic" textLength="7.4" lengthAdjust="spacingAndGlyphs">Δ</text>
<text transform="rotate(-90)" x="-82.1" y="300" font-size="12" fill="#262626" font-family='"DejaVu Serif", "Liberation Serif", serif' font-style="italic" style="stroke-width:0.45px" textLength="4" lengthAdjust="spacingAndGlyphs">f</text>
<text transform="rotate(-90)" x="-78.2" y="302.8" font-size="7.8" fill="#262626" font-family='"Liberation Sans", Arial, sans-serif' font-style="italic" style="stroke-width:0.42px" textLength="16.2" lengthAdjust="spacingAndGlyphs">Beat</text>
<text transform="rotate(-90)" x="-58" y="299.9" font-size="12" fill="#262626" font-family='"Liberation Sans", Arial, sans-serif' textLength="8.9" lengthAdjust="spacingAndGlyphs">in</text>
<text transform="rotate(-90)" x="-45.5" y="299.9" font-size="12" fill="#262626" font-family='"Liberation Sans", Arial, sans-serif' textLength="18.6" lengthAdjust="spacingAndGlyphs">kHz</text>
<text transform="rotate(-90)" x="-209.1" y="299.9" font-size="11.5" fill="#262626" font-family='"Liberation Sans", Arial, sans-serif' font-style="italic" textLength="7.2" lengthAdjust="spacingAndGlyphs">Δ</text>
<text transform="rotate(-90)" x="-198.7" y="300" font-size="12" fill="#262626" font-family='"DejaVu Serif", "Liberation Serif", serif' font-style="italic" style="stroke-width:0.45px" textLength="4" lengthAdjust="spacingAndGlyphs">f</text>
<text transform="rotate(-90)" x="-194.8" y="302.8" font-size="7.8" fill="#262626" font-family='"Liberation Sans", Arial, sans-serif' font-style="italic" style="stroke-width:0.42px" textLength="16.3" lengthAdjust="spacingAndGlyphs">Beat</text>
<text transform="rotate(-90)" x="-174.4" y="299.9" font-size="12" fill="#262626" font-family='"Liberation Sans", Arial, sans-serif' textLength="9.2" lengthAdjust="spacingAndGlyphs">in</text>
<text transform="rotate(-90)" x="-161.9" y="299.9" font-size="12" fill="#262626" font-family='"Liberation Sans", Arial, sans-serif' textLength="18.3" lengthAdjust="spacingAndGlyphs">kHz</text>
<text transform="rotate(-90)" x="-327.9" y="299.9" font-size="11.5" fill="#262626" font-family='"Liberation Sans", Arial, sans-serif' font-style="italic" textLength="6.8" lengthAdjust="spacingAndGlyphs">Δ</text>
<text transform="rotate(-90)" x="-317.9" y="300" font-size="12" fill="#262626" font-family='"DejaVu Serif", "Liberation Serif", serif' font-style="italic" style="stroke-width:0.45px" textLength="4" lengthAdjust="spacingAndGlyphs">f</text>
<text transform="rotate(-90)" x="-313.6" y="302.8" font-size="7.8" fill="#262626" font-family='"Liberation Sans", Arial, sans-serif' font-style="italic" style="stroke-width:0.42px" textLength="15.5" lengthAdjust="spacingAndGlyphs">Beat</text>
<text transform="rotate(-90)" x="-294.2" y="299.9" font-size="12" fill="#262626" font-family='"Liberation Sans", Arial, sans-serif' textLength="9.5" lengthAdjust="spacingAndGlyphs">in</text>
<text transform="rotate(-90)" x="-281" y="299.9" font-size="12" fill="#262626" font-family='"Liberation Sans", Arial, sans-serif' textLength="12" lengthAdjust="spacingAndGlyphs">Hz</text>
<text x="332.3" y="20.4" font-size="11.5" fill="#262626" font-family='"DejaVu Serif", "Liberation Serif", serif' font-style="italic" textLength="3.9" lengthAdjust="spacingAndGlyphs" style="stroke-width:0.45px">f</text>
<text x="337.1" y="22.3" font-size="7.2" text-anchor="start" fill="#262626" font-family='"Liberation Sans", Arial, sans-serif' textLength="48.2" lengthAdjust="spacingAndGlyphs"  style="stroke-width:0.42px">Beat-OFC-ORS</text>
<text x="386.2" y="20.8" font-size="11" text-anchor="start" fill="#262626" font-family='"Liberation Sans", Arial, sans-serif' >,</text>
<text x="392.3" y="20.8" font-size="9.5" text-anchor="start" fill="#262626" font-family='"Liberation Sans", Arial, sans-serif' textLength="61.4" lengthAdjust="spacingAndGlyphs" >drift corrected</text>
<line x1="405" y1="21.6" x2="397.6" y2="30.1" stroke="#111" stroke-width="1.15" />
<polyline points="397.22,25.66 397.6,30.1 402.05,29.86" fill="none" stroke="#111" stroke-width="1.15" stroke-linejoin="miter"/>
<text x="421.8" y="97.2" font-size="11.5" fill="#262626" font-family='"DejaVu Serif", "Liberation Serif", serif' font-style="italic" textLength="3.9" lengthAdjust="spacingAndGlyphs" style="stroke-width:0.45px">f</text>
<text x="426.2" y="99.3" font-size="7.2" text-anchor="start" fill="#262626" font-family='"Liberation Sans", Arial, sans-serif' textLength="46.6" lengthAdjust="spacingAndGlyphs"  style="stroke-width:0.42px">Beat-SSL-OFC</text>
<line x1="449.7" y1="91" x2="464.8" y2="60.9" stroke="#111" stroke-width="1.15" />
<polyline points="466.27,65.11 464.8,60.9 460.55,62.24" fill="none" stroke="#111" stroke-width="1.15" stroke-linejoin="miter"/>
<text x="410.2" y="138.9" font-size="11.5" fill="#262626" font-family='"DejaVu Serif", "Liberation Serif", serif' font-style="italic" textLength="3.9" lengthAdjust="spacingAndGlyphs" style="stroke-width:0.45px">f</text>
<text x="414" y="140.4" font-size="7.2" text-anchor="start" fill="#262626" font-family='"Liberation Sans", Arial, sans-serif' textLength="46.7" lengthAdjust="spacingAndGlyphs"  style="stroke-width:0.42px">Beat-SSL-OFC</text>
<line x1="408.6" y1="144.3" x2="401.5" y2="153" stroke="#111" stroke-width="1.15" />
<polyline points="400.98,148.58 401.5,153 405.94,152.62" fill="none" stroke="#111" stroke-width="1.15" stroke-linejoin="miter"/>
<text x="451.8" y="221.2" font-size="11.5" fill="#262626" font-family='"DejaVu Serif", "Liberation Serif", serif' font-style="italic" textLength="3.9" lengthAdjust="spacingAndGlyphs" style="stroke-width:0.45px">f</text>
<text x="456.2" y="222.7" font-size="7.2" text-anchor="start" fill="#262626" font-family='"Liberation Sans", Arial, sans-serif' textLength="42.3" lengthAdjust="spacingAndGlyphs"  style="stroke-width:0.42px">Beat-ML-SSL</text>
<line x1="480.9" y1="212.1" x2="449.9" y2="181.1" stroke="#111" stroke-width="1.15" />
<polyline points="454.35,181.03 449.9,181.1 449.83,185.55" fill="none" stroke="#111" stroke-width="1.15" stroke-linejoin="miter"/>
<text x="337.6" y="265.8" font-size="11.5" fill="#262626" font-family='"DejaVu Serif", "Liberation Serif", serif' font-style="italic" textLength="3.9" lengthAdjust="spacingAndGlyphs" style="stroke-width:0.45px">f</text>
<text x="342" y="267.5" font-size="7.2" text-anchor="start" fill="#262626" font-family='"Liberation Sans", Arial, sans-serif' textLength="43.2" lengthAdjust="spacingAndGlyphs"  style="stroke-width:0.42px">Beat-ML-SSL</text>
<line x1="388.2" y1="271.2" x2="403.5" y2="286.3" stroke="#111" stroke-width="1.15" />
<polyline points="399.05,286.4 403.5,286.3 403.54,281.84" fill="none" stroke="#111" stroke-width="1.15" stroke-linejoin="miter"/>
<text x="72.2" y="440.7" font-size="11" text-anchor="start" fill="#262626" font-family='"Liberation Sans", Arial, sans-serif' textLength="42.1" lengthAdjust="spacingAndGlyphs" >Legend:</text>
<line x1="125.3" y1="437.3" x2="150.6" y2="437.3" stroke="#9a9a9a" stroke-width="1.1" />
<rect x="134.9" y="435.1" width="4.6" height="4.4" fill="#8c8c8c"/>
<text x="162.8" y="440.8" font-size="11" text-anchor="start" fill="#262626" font-family='"Liberation Sans", Arial, sans-serif' textLength="384.5" lengthAdjust="spacingAndGlyphs" >Secondary standard laser (SSL) stabilized with two-mode-comparison technique</text>
<line x1="125.3" y1="457.7" x2="150.6" y2="457.7" stroke="#333333" stroke-width="1.5" />
<rect x="134.9" y="455.5" width="4.6" height="4.4" fill="#000000"/>
<text x="164.4" y="461.6" font-size="11" text-anchor="start" fill="#262626" font-family='"Liberation Sans", Arial, sans-serif' textLength="47.4" lengthAdjust="spacingAndGlyphs" >Comb line</text>
<line x1="125.3" y1="478" x2="150.6" y2="478" stroke="#2f9a2f" stroke-width="1.3" />
<rect x="134.9" y="475.8" width="4.6" height="4.4" fill="#0a780a"/>
<text x="164.4" y="481.9" font-size="11" text-anchor="start" fill="#262626" font-family='"Liberation Sans", Arial, sans-serif' textLength="233" lengthAdjust="spacingAndGlyphs" >Secondary standard laser stabilized to comb line</text>
<line x1="125.3" y1="496.7" x2="150.6" y2="496.7" stroke="#a4cf78" stroke-width="1.3" />
<rect x="134.9" y="494.5" width="4.6" height="4.4" fill="#7cb332"/>
<text x="164.5" y="500.5" font-size="11" text-anchor="start" fill="#262626" font-family='"Liberation Sans", Arial, sans-serif' textLength="181.3" lengthAdjust="spacingAndGlyphs" >Metrology laser (ML) stabilized to SSL</text>
</svg></body></html>
